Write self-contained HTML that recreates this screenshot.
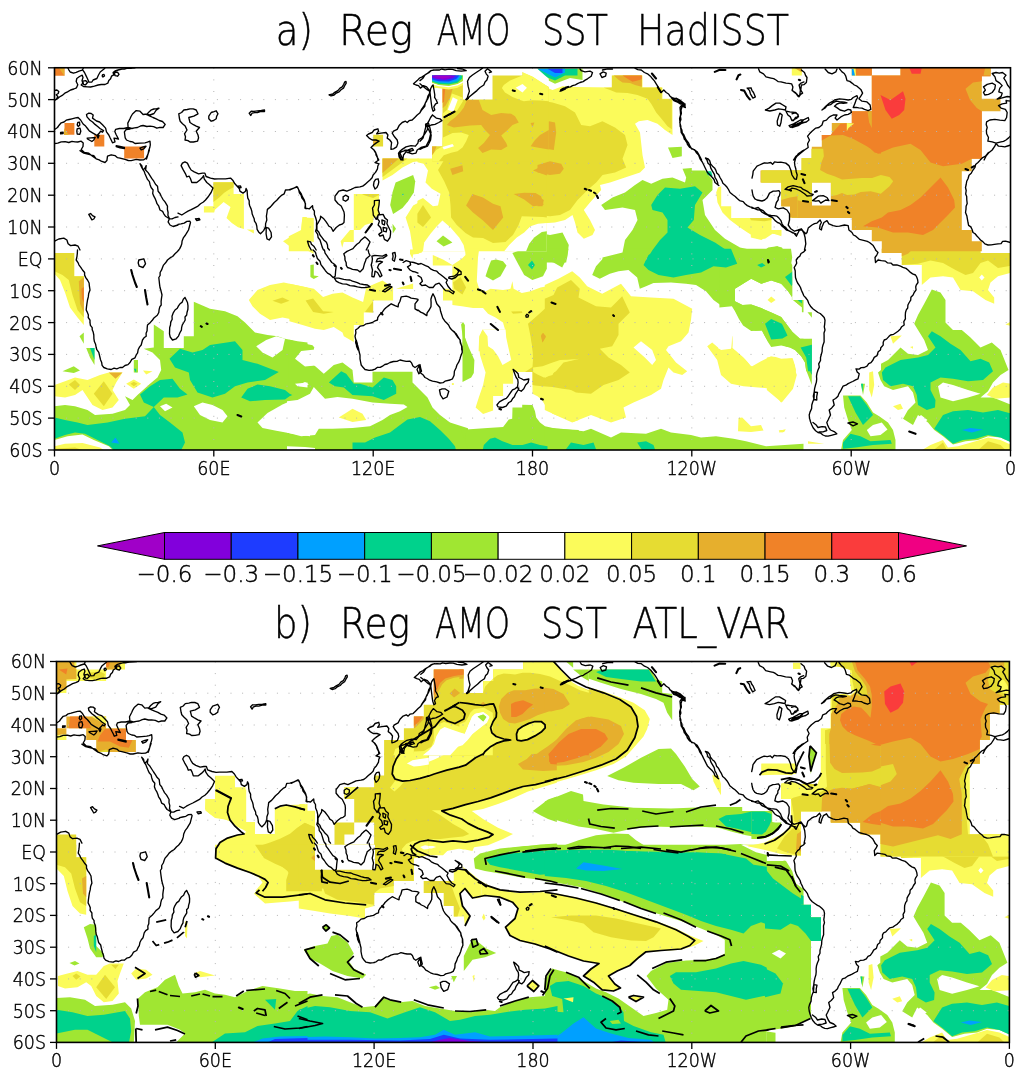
<!DOCTYPE html>
<html><head><meta charset="utf-8"><title>Reg AMO SST</title>
<style>
html,body{margin:0;padding:0;background:#fff}
svg{display:block}
text{font-family:"DejaVu Sans Light","DejaVu Sans","Liberation Sans",sans-serif;font-weight:200;fill:#000;stroke:#000;stroke-width:.45px}
.al{font-size:18.8px}
.cl{font-size:23px}
.ti{font-size:42px}
.ln{fill:none;stroke:#000;stroke-width:1.35;stroke-linejoin:round;stroke-linecap:round}
.ct{fill:none;stroke:#000;stroke-width:1.75;stroke-linejoin:round;stroke-linecap:butt}
.fr{fill:none;stroke:#000;stroke-width:1.6}
.tk{stroke:#000;stroke-width:1.3}
.cb{stroke:#000;stroke-width:1}
.grid line{stroke:#b4b4b4;stroke-width:1;stroke-dasharray:1 10.6}
</style></head><body>
<svg width="1024" height="1076" viewBox="0 0 1024 1076">
<rect width="1024" height="1076" fill="#fff"/>
<text class="ti" y="45"><tspan x="275.8" textLength="37.2" lengthAdjust="spacingAndGlyphs">a)</tspan> <tspan x="339.0" textLength="74.0" lengthAdjust="spacingAndGlyphs">Reg</tspan> <tspan x="436.7" textLength="73.8" lengthAdjust="spacingAndGlyphs">AMO</tspan> <tspan x="542.0" textLength="66.0" lengthAdjust="spacingAndGlyphs">SST</tspan> <tspan x="637.0" textLength="152.0" lengthAdjust="spacingAndGlyphs">HadISST</tspan></text>
<defs><clipPath id="ca"><rect x="54.5" y="67.75" width="956.0" height="382.25"/></clipPath>
<clipPath id="cb"><rect x="56.5" y="661.5" width="952.9" height="380.9000000000001"/></clipPath></defs>
<g clip-path="url(#ca)">
<path fill="#fbfb5a" d="M213.4,182.2 233.6,182.2 233.6,194 243.9,194 243.9,229 238,227.2 231.8,223.1 226.5,218.1 230.5,206.9 223.6,202.1 218,206.9 214.9,209.8 214.2,212.5 203.9,212.5 203.9,206.2 213.4,206.2Z"/>
<path fill="#fbfb5a" d="M246.8,229.4 253.9,229.8 253.9,233.5Z"/>
<path fill="#fbfb5a" d="M302.4,216.9 306.8,216.9 306.8,250 293,248.8 283,241.2 295.5,233.8 301.1,230.6 301.8,222.5Z"/>
<path fill="#fbfb5a" d="M537.5,83.8 552.5,90 562.5,86.2 576.2,87 612.5,87.5 612.5,75.5 642.5,75.5 642.5,87.5 662.5,87.5 662.5,98.8 672.5,98.8 672.5,135 665,130 657.5,123.8 647.5,120 638.8,121.2 635,123.8 640,132.5 642.5,155 645,167.5 640,172.5 625,177.5 610,182.5 600,185 601.2,190 590,202.5 583.8,210 590,220 595,230 592.5,235 583.8,238.8 577.5,232.5 575,222.5 572.5,215 565,220 555,222.5 537.5,223.8Z"/>
<path fill="#a0e632" d="M668,147.5 681.8,146.8 681.8,156.2 672.5,158Z"/>
<path fill="#a0e632" d="M682.5,168.8 691.8,168 691.8,170.5 705,170.5 712.5,180 712.5,190 702.5,200 705,215 715,230 725,238.8 740,247.5 757.5,251.2 777.5,246.2 783.8,251.2 787.5,262.5 602.5,262.5 602.5,257.5 622.5,252.5 625,240 632.5,230 637.5,220 635,210 622.5,207.5 605,210 601.2,205 612.5,197.5 625,192.5 635,185 642.5,180 651.2,183.8 662.5,178.8 672.5,177.5 685,182.5 686.2,177.5Z"/>
<path fill="#a0e632" d="M537.5,232.5 550,235 562.5,232.5 568.8,245 566.2,262.5 537.5,262.5Z"/>
<path fill="#fbfb5a" d="M718,187.5 721.2,186.2 721.2,206.2 731.2,206.2 731.2,218 771.2,218 771.2,230 781.2,230 781.2,235 772.5,233.8 765,238.8 757.5,238.8 747.5,232.5 740,227.5 730,220 722.5,212.5 717.5,202.5 716.2,192.5Z"/>
<path fill="#a0e632" d="M537.5,68.8 582.5,68.8 582.5,80 570,78 555,83.8 547.5,80 537.5,75Z"/>
<path fill="#fbfb5a" d="M382.5,158.5 418.8,158.5 418.8,161.2 413.1,161.9 402.5,167.5 392.5,175 382.5,180.6Z"/>
<path fill="#a0e632" d="M395.6,182.5 413.1,175 415.2,181.2 413.8,192.5 408.1,201.2 402.5,208.1 393.1,214 390.2,205 392.5,192.5Z"/>
<path fill="#fbfb5a" d="M353.8,194 379,194 379,215 373.5,218.1 373.1,222.5 365,225 360,230 353.8,230 353.8,241.9 343.8,241.9 342.2,247.8 340.6,241.2 350,230 353.8,230Z"/>
<path fill="#a0e632" d="M392.5,223.8 396,228.8 392.8,233.5Z"/>
<path fill="#fbfb5a" d="M303.1,217.5 313.8,218.1 313.8,241.9 310,241.2 308.8,251.2 288.8,251.2 288.8,236.2 301.2,230 301.9,222.5Z"/>
<path fill="#fbfb5a" d="M417.4,158.5 432,158.5 432,149.4 546.8,149.4 546.8,251.2 417.4,251.2Z"/>
<path fill="#fbfb5a" d="M289.4,283.8 305,286.9 313.8,288.8 323.1,296.9 332.5,293.8 342.5,292.5 352.5,297.5 363.1,301.9 366.2,287.5 382.5,280.6 390,285.6 393.1,287.5 393.1,300.6 373.1,300.6 373.1,312.5 363.8,312.5 363.8,325 353.8,325 353.8,341.9 343.8,336.2 342.5,332.5 333.8,326.9 323.8,330 315,328.8 302.5,325 289.4,321.2Z"/>
<path fill="#fbfb5a" d="M396,288.8 413.1,283.5 413.1,289Z"/>
<path fill="#fbfb5a" d="M410,249.4 418.8,249.4 418.8,253.8 413.1,254.4 412.5,258.8 410,253.8Z"/>
<path fill="#fbfb5a" d="M305,249.4 313.1,249.4 313.8,253.8Z"/>
<path fill="#a0e632" d="M310.4,265 313.8,264.4 313.8,275.6 318.8,276.2 313.8,279 310.4,276.9Z"/>
<path fill="#a0e632" d="M289.4,339.8 297.5,341.9 312.5,345.2 314.4,347.5 312.5,351.2 289.4,351.2Z"/>
<path fill="#fbfb5a" d="M432.8,255 443,259.4 452.4,265 461.8,258.8 465.5,255 464.9,248.8 479.2,248.8 478,257.5 477.4,268.8 476.8,281.2 479.2,288.8 485.5,291.2 490.5,288.8 503,290 510.5,288.8 512.4,281.2 513.6,288.8 521.8,293.1 530.5,291.2 540.5,287.5 546.8,286.2 546.8,351.2 508,351.2 505.5,331.2 503,322.5 495.5,317.5 488,313.8 483,308.1 473,308.1 461.8,306.2 452.4,305 452.4,300.6 443,300.6 443,288.8 448,288.8 452.4,291.2 452.4,265.6 432.8,265.6Z"/>
<path fill="#a0e632" d="M491.1,260.6 496.1,259.4 503,261.2 506.5,265.6 500.5,276.2 493,280.6 485.5,276.2 488,268.8Z"/>
<path fill="#a0e632" d="M512.4,253.1 524.2,248.8 546.8,248.8 546.8,268.8 543,276.2 532.4,280 524.2,275 518,263.8Z"/>
<path fill="#a0e632" d="M461.1,324.4 463,321.9 464.9,325 464.9,337.5 468,351.2 462.4,351.2 462.8,337.5Z"/>
<path fill="#fbfb5a" d="M479.2,336.2 482.4,330 486.8,337.5 488,347.5 491.8,351.2 478.6,351.2Z"/>
<path fill="#fbfb5a" d="M417.4,249.4 423.6,249.4 421.8,252.5 417.4,253.8Z"/>
<path fill="#fbfb5a" d="M418.8,202.5 413.1,205.6 405.6,217.5 410,231.2 413.1,251.2 418.8,251.2Z"/>
<path fill="#fbfb5a" d="M54.5,253 74.2,253 74.2,276.2 83.8,276.2 83.8,325 77.5,317.5 70,307.5 65,292.5 60,280 54.5,273.8Z"/>
<path fill="#a0e632" d="M79.5,336.2 83.8,332.5 83.8,343.8Z"/>
<path fill="#a0e632" d="M86.2,348 94.5,348 94.5,365 90,357.5Z"/>
<path fill="#a0e632" d="M62.5,371.2 73.8,366.2 80,370.5 73.8,373Z"/>
<path fill="#a0e632" d="M133.8,360 138,360 138,372.5 133.8,372.5Z"/>
<path fill="#fbfb5a" d="M143,370.5 152.5,371.2 146.2,374.5Z"/>
<path fill="#fbfb5a" d="M126.2,383.8 133.8,379.5 141.2,383.8 133.8,388.8Z"/>
<path fill="#fbfb5a" d="M54.5,385 65,381.2 75,377.5 87.5,380 100,375 108.8,372.5 122.5,372.5 116.2,382.5 112.5,390 118.8,400 112.5,407.5 102.5,410 92.5,405 87.5,397.5 82.5,390 75,395 65,397.5 54.5,396.2Z"/>
<path fill="#a0e632" d="M54.5,406.2 65,405 75,406.2 87.5,410 95,415 112.5,413.8 125,410 130,405 125,396.2 132.5,400 137.5,395 150,383.8 157.5,377.5 161.2,370 160,360 152.5,352.5 143.8,348.8 153.8,347.5 153.8,324.5 163.8,331.2 163.8,348 183.8,348 183.8,336.2 193.8,336.2 193.8,301.8 210,308.8 225,311.2 237.5,316.2 245,322.5 255,332.5 267.5,335 277.5,336.2 285,338.8 297.5,341.2 307.5,342.5 307.5,452.5 54.5,452.5Z"/>
<path fill="#a0e632" d="M288.8,340 305,343.8 313.8,347.5 313.8,350 301.2,351.2 295,358.8 305,366.2 313.8,365 323.8,373.8 333.8,365 342.5,362.5 352.5,370 353.8,382.5 372.5,382.5 372.5,371.8 412.5,371.8 412.5,382.5 418.8,388.8 427.5,397.5 432.5,407.5 440,415 450,422.5 468,428.2 468,451.2 288.8,451.2Z"/>
<path fill="#a0e632" d="M462.5,329.4 464.4,329.4 465,337.5 468.8,347.5 474.4,360 473.8,373.1 471.2,377.5 462.5,381.9Z"/>
<path fill="#fbfb5a" d="M482.5,329.4 578.8,329.4 578.8,420 573.1,421.9 562.5,417.5 552.5,413.8 548.8,410 545,405 541.9,400 537.5,396.2 532.5,393.8 532.5,371.9 513.1,371.9 513.1,383.8 503.1,383.8 503.1,396 493.1,396 493.1,410.6 483.1,414 475.6,407.5 478.8,397.5 483.1,385 485.6,372.5 483.1,365 480,355 479,345 480,336.2Z"/>
<path fill="#a0e632" d="M592.2,275 596,266.2 603.5,258 619.8,258 626,248.8 791,248.8 792.2,257.5 791,265 792.2,277.5 792.2,300 803.5,300 803.5,356.2 793.5,352.5 783.5,345 771,345 763.5,335 753.5,330 743.5,322.5 736,312.5 732.2,303.8 722.2,306.2 713.5,300 706,291.2 696,285 686,283.8 671,282.5 653.5,283 646,286.2 639.8,288.8 637.2,277.5 628.5,270 618.5,271.2 609.8,273.8 599.8,278.8Z"/>
<path fill="#a0e632" d="M544.8,248.8 568.5,248.8 567.2,257.5 562.2,267.5 553.5,262.5 544.8,260Z"/>
<path fill="#fbfb5a" d="M544.8,285 558.5,278.8 572.2,271.2 579.8,277.5 587.2,286.2 602.2,293.8 621,283.8 631,296.2 651,297.5 673.5,298.8 692.2,308.8 691,320 688.5,332.5 681,341.2 668.5,346.2 666,350 676,362.5 687.2,371.2 682.2,375 673.5,372.5 668.5,367.5 663.5,380 661,388.8 651,395 633.5,402.5 623.5,407.5 626,417.5 611,422.5 591,415 572.2,422.5 561,417.5 544.8,410Z"/>
<path fill="#a0e632" d="M766.8,248.8 783,248.8 792.2,265 792.2,296.2 783,282.5 775.5,277.5 766.8,280Z"/>
<path fill="#a0e632" d="M793,340 811.8,338.8 811.8,385 808,375 803,362.5 795.5,352.5Z"/>
<path fill="#fbfb5a" d="M766.8,357.5 778,356.2 791.8,360 796.8,375 793,388.8 781.8,402.5 766.8,390Z"/>
<path fill="#fbfb5a" d="M779.2,430.5 785.5,429.5 784.2,432 779.2,432.5Z"/>
<path fill="#fbfb5a" d="M808,441.2 815.5,442.5 824.2,443.8 808,443.8Z"/>
<path fill="#fbfb5a" d="M901.8,253 901.8,265 921.8,265 921.8,285 930.5,277.5 943,276.2 953,277.5 960.5,290 973,291.2 985.5,300 994.2,303.8 994.2,297.5 988,290 990.5,282.5 998,276.2 1011.8,272.5 1011.8,253 980.5,253 980.5,248.8 881.8,248.8 881.8,253Z"/>
<path fill="#fbfb5a" d="M1005.5,324.5 1011.8,321.2 1011.8,326.2Z"/>
<path fill="#a0e632" d="M931.8,289.5 940.5,292.5 945.5,300 945.5,322.5 953,330 961.8,330 970.5,337.5 980.5,347.5 991.8,342.5 1000.5,350 1005.5,362.5 1008.5,370 1000.5,375 993,382.5 988,391.2 980.5,397.5 993,397.5 1011.8,405 1011.8,442.5 1000.5,437.5 988,436.2 978,440 965.5,441.2 953,444.5 943,436.2 934.2,430 928,422.5 918,415 913,425 903,418.8 908,410 915.5,402.5 913,392.5 908,386.2 893,390 884.2,386.2 880.5,380 878,372.5 881,370 881,363.8 888,360 896.8,351.2 900.5,347.5 908,353.8 918,355 928,350 924.2,340 918,330 914.2,323.8 918,315 924.2,303.8Z"/>
<path fill="#fbfb5a" d="M986.8,395 993,387.5 1003,382.5 1011.8,383.8 1011.8,397.5 995.5,398.8Z"/>
<path fill="#fbfb5a" d="M918,452.5 930.5,445 943,440 948,447.5 958,446.2 975.5,441.2 988,437.5 1000.5,440 1011.8,445 1011.8,452.5Z"/>
<path fill="#a0e632" d="M843,395.5 860.5,395.5 866.8,402.5 873,412.5 879.2,416.2 888,422.5 893,430 895.5,440 895.5,452.5 840.5,452.5 843,440 851.8,430 848,420 844.2,407.5Z"/>
<path fill="#a0e632" d="M861,383.8 865,383.8 863,395Z"/>
<path fill="#fbfb5a" d="M869.2,372.5 873,371.2 874.2,385 871.8,397.5 869.2,390Z"/>
<path fill="#fbfb5a" d="M893,406.2 900.5,403.8 903,408.8 898,410Z"/>
<path fill="#fbfb5a" d="M890.5,336.2 901.8,335.5 893,343.8Z"/>
<path fill="#fbfb5a" d="M910,347 913,346.2 913,348.8Z"/>
<path fill="#ffffff" d="M979.2,277.5 981.8,274.5 984.5,277.5 981.8,280.5Z"/>
<path fill="#ffffff" d="M416.5,161.9 423.6,163.8 428,170.6 425.5,182.5 431.8,188.8 440.5,193.8 438,205.6 433,206.2 423,198.1 416.5,201.2Z"/>
<path fill="#ffffff" d="M442.4,220.6 450.5,227.5 459.2,237.5 463.6,245 464.9,251.2 423,251.2 424.2,242.5 430.5,233.8 436.8,226.2Z"/>
<path fill="#ffffff" d="M546.8,223.1 538,223.8 530.5,226.2 524.2,232.5 516.8,237.5 509.2,245 504.2,251.2 546.8,251.2Z"/>
<path fill="#ffffff" d="M160,406.2 166.2,403.8 172.5,407.5 165,411.2Z"/>
<path fill="#ffffff" d="M193.8,406.2 202.5,402.5 212.5,405 222.5,410 227.5,416.2 222.5,422.5 210,420 200,415Z"/>
<path fill="#ffffff" d="M256.2,346.2 266.2,340 276.2,336.2 285,338.8 282.5,350 272.5,357.5 262.5,352.5Z"/>
<path fill="#ffffff" d="M315,349.5 301.2,351 295,358.8 305,366.5 315,365.5Z"/>
<path fill="#ffffff" d="M295,383.8 307.5,382.5 307.5,387.5 297.5,386.2Z"/>
<path fill="#ffffff" d="M257.5,422.5 267.5,413 282.5,404.5 290,401.2 310,400 310,436.2 292.5,433.8 275,430.5 262.5,428Z"/>
<path fill="#ffffff" d="M54.5,440 67.5,436.2 82.5,434.5 93.8,440 108.8,446.2 115.5,452.5 54.5,452.5Z"/>
<path fill="#ffffff" d="M287,401.2 297.5,400 310,393.8 313.8,387 325,398.8 337.5,397 352.5,398.8 372.5,402.5 390,403.8 403.8,404.5 407.5,407 400,411.2 390,415 382.5,420 370,426.2 352.5,428 332.5,428.8 318.8,428.8 315,435 301.2,436.2 287,432.5Z"/>
<path fill="#ffffff" d="M301.2,383.8 305,382 308.8,384.5 303.8,385.8Z"/>
<path fill="#ffffff" d="M287,446.2 305,447 315,448 315,451.2 287,451.2Z"/>
<path fill="#ffffff" d="M482.8,329.4 505.6,329.4 506.2,337.5 508.1,346.2 511.2,360 502.5,365 498.1,356.2 493.1,349.4 488.1,346.2 487.5,336.2Z"/>
<path fill="#ffffff" d="M633.5,347.5 641,341.2 652.2,350 656,360 652.2,365 644.8,357.5Z"/>
<path fill="#ffffff" d="M608.5,447.5 612.2,443.8 614.8,448.8Z"/>
<path fill="#ffffff" d="M938,386.2 943,382.5 953,385 968,390 980.5,393.8 968,397.5 953,401.2 940.5,397.5Z"/>
<path fill="#ffffff" d="M915.5,420 921,415 927.5,420 921.8,424.5Z"/>
<path fill="#ffffff" d="M866.8,430 873,425 881.8,422.5 887.5,429.5 880.5,435 870.5,436.2Z"/>
<path fill="#a0e632" d="M436.5,241.2 443,235.6 452.4,242.5 443.6,246.5Z"/>
<path fill="#a0e632" d="M546.8,231.2 541.8,231.9 534.2,237.5 529.2,243.8 526.1,251.2 546.8,251.2Z"/>
<path fill="#fbfb5a" d="M54.5,446.2 65,443.8 82.5,443 100,447.5 107.5,452.5 54.5,452.5Z"/>
<path fill="#fbfb5a" d="M248.8,300 257.5,290 270,285 283.8,282.5 307.5,287.5 307.5,325 295,320 282.5,317.5 270,320 260,313.8 252.5,306.2Z"/>
<path fill="#fbfb5a" d="M338.8,417.5 352.5,408.8 362.5,413.8 366.2,420 352.5,422Z"/>
<path fill="#a0e632" d="M512.5,407.5 522.2,407.5 522.2,404.8 532.5,405 535,411.2 536.2,417.5 540,422.5 545,426.2 556.2,428.8 578.8,430 578.8,451.2 465,451.2 466.2,429.4 487.5,428.1 503.1,426.9 508.8,419.4 512.2,418.8Z"/>
<path fill="#a0e632" d="M449.4,422.5 456.2,426.2 461.2,430 468.8,451.2 449.4,451.2Z"/>
<path fill="#fbfb5a" d="M451.9,383.1 453.8,383.1 453.8,385 451.9,385Z"/>
<path fill="#fbfb5a" d="M707.2,346.2 712.2,342.5 721,350 731,348.8 732.2,335 733.5,348.8 743.5,357.5 752.2,366.2 761,361.2 771,356.2 781,358.8 793.5,357.5 796,370 793.5,385 787.2,395 781,402.5 771,388.8 758.5,387.5 743.5,386.2 731,383.8 721,375 717.2,360Z"/>
<path fill="#fbfb5a" d="M738,431.2 738.5,418 742.2,417.5 751,426.2 761,425 763.5,430.5 751,432Z"/>
<path fill="#fbfb5a" d="M778.5,430.5 786,429.5 782.2,432.5Z"/>
<path fill="#a0e632" d="M544.8,427.5 561,428.8 583.5,431.2 591,428.8 611,437.5 621,432.5 646,433.8 661,428.8 671,432.5 691,435 701,437.5 716,436.2 733.5,438.8 746,441.2 766,446.2 803.5,443.8 803.5,452.5 544.8,452.5Z"/>
<path fill="#e6dc32" d="M213.4,182.2 233.6,182.2 233.6,187.2 229.2,189.4 224.2,192.8 219.2,197.5 213.4,201.9Z"/>
<path fill="#e6dc32" d="M373.2,134.8 383.1,134.8 383.1,146.6 373.2,146.6Z"/>
<path fill="#e6dc32" d="M537.5,100 552.5,102.5 565,106.2 575,112.5 581.2,125 590,126.2 602.5,121.2 615,127.5 625,135 627.5,145 622.5,158.8 626.2,167.5 615,172.5 602.5,175 596.2,182.5 587.5,190 577.5,200 570,210 560,215 550,216.2 537.5,215Z"/>
<path fill="#e6dc32" d="M611.8,75.5 641.8,75.5 641.8,87.5 661.8,87.5 661.8,99.2 671.8,99.2 671.8,129.2 667.5,126.2 662.5,120 656.2,112.5 651.2,103.8 647.5,98.8 637.5,95 627.5,93 616.2,92.5 610,90 603.8,87.8 611.8,87.5Z"/>
<path fill="#00d28c" d="M651.2,205 657.5,195 665,187.5 680,188.8 695,186.2 702.5,192.5 695,205 693.8,220 687.5,227.5 700,235 715,242.5 730,252.5 735,262.5 645,262.5 652.5,250 660,240 667.5,232.5 667.5,220 662.5,212.5 652.5,210Z"/>
<path fill="#00d28c" d="M706.2,171.2 711.2,171.2 712.5,176.2 707.5,175Z"/>
<path fill="#e6dc32" d="M750,218 771.2,218 771.2,220.2 750,219.2Z"/>
<path fill="#00d28c" d="M537.5,68.8 577.5,68.8 577.5,75.5 565,75.5 555,80.5 547.5,77.5 537.5,72.5Z"/>
<path fill="#e6dc32" d="M382.5,158.5 407.5,158.5 382.5,176.9Z"/>
<path fill="#00d28c" d="M402.2,194 403.5,193.8 403.5,195 402.2,195Z"/>
<path fill="#e6dc32" d="M361.9,194 379,194 379,195 373.1,198.1 365,195.6Z"/>
<path fill="#e6dc32" d="M438,170 444.9,158.8 450.5,155 461.8,149.4 546.8,149.4 546.8,217.5 543,216.9 521.8,216.2 518.6,225 513,235 505.5,241.9 493,243.1 483,238.1 473,237.5 465.5,233.1 456.8,225 451.1,217.5 450.5,205 449.2,192.5 444.2,181.2Z"/>
<path fill="#e6dc32" d="M417.4,213.8 423,205 431.1,217.5 423,226.9 417.4,222.5Z"/>
<path fill="#e6dc32" d="M305.6,300.6 313.1,298.5 323.1,311.2 333.8,311.9 323.8,313.8 313.1,311.9Z"/>
<path fill="#e6dc32" d="M365,311.9 373.1,301.2 373.1,312.5Z"/>
<path fill="#e6dc32" d="M453,282.5 460.5,276.9 466.1,287.5 462.4,294.4 454.2,288.8Z"/>
<path fill="#e6dc32" d="M546.8,306.9 538,315 528,323.8 530.5,336.2 533,351.2 546.8,351.2Z"/>
<path fill="#e6dc32" d="M511.1,311.5 521.8,311.2 522.4,313.1 513,313.8Z"/>
<path fill="#00d28c" d="M528,265 532,260.6 534.9,265 532,269.4Z"/>
<path fill="#e6dc32" d="M54.5,253 74.2,253 74.2,276.2 83.8,276.2 83.8,317.5 77.5,310 72.5,295 68.8,280 62.5,275 54.5,271.2Z"/>
<path fill="#00d28c" d="M90,348 94.5,348 94.5,360Z"/>
<path fill="#00d28c" d="M133.8,368.8 136.2,368.8 136.2,373Z"/>
<path fill="#e6dc32" d="M130.5,383.8 133.8,381.8 137.5,383.8 133.8,386.2Z"/>
<path fill="#e6dc32" d="M68.8,384.5 75,380 80,385 75,390Z"/>
<path fill="#e6dc32" d="M93.8,393.8 103.8,381.2 112.5,393.8 103.8,406.2Z"/>
<path fill="#e6dc32" d="M54.5,448.8 75,447.5 90,452.5 54.5,452.5Z"/>
<path fill="#00d28c" d="M54.5,417.5 65,420 77.5,422.5 87.5,425 107.5,422.5 125,418.8 145,416.2 153.8,407 160,415 170,422.5 182.5,432.5 185,442.5 180,452.5 116.2,452.5 110,446.2 95,438.8 85,433.8 75,432.5 65,435 54.5,438.8Z"/>
<path fill="#00d28c" d="M140,394.5 150,386.2 160,380 172.5,378.8 180,388.8 187.5,394.5 177.5,397.5 163.8,397.5 153.8,407 143.8,402.5Z"/>
<path fill="#00d28c" d="M169.5,358.8 180,348.8 192.5,352.5 202.5,350 210,345 235,341.2 242.5,350 242.5,360 257.5,363.8 278.8,372 265,380 247.5,382.5 235,386.2 225,393.8 212.5,397.5 197.5,392.5 190,380 188.8,372.5 175,367.5Z"/>
<path fill="#00d28c" d="M241.2,397.5 247.5,388.8 257.5,384.5 270,386.2 285,390 291.2,395 285,399.5 265,400 250,401.2Z"/>
<path fill="#e6dc32" d="M272.5,300.8 282.5,297.5 289.5,300.8 281.2,303.8Z"/>
<path fill="#00d28c" d="M328.8,382.5 341.2,371.2 346.2,373.8 353.8,383.8 360,383.8 372.5,387.5 383.8,377.5 392.5,380 396.2,386.2 396.2,393.8 383.8,400 372.5,396.2 352.5,395 343.8,387.5 335,386.2Z"/>
<path fill="#00d28c" d="M352.5,442.5 365,442.5 375,437.5 390,432.5 400,425 407.5,419.5 420,417 430,421.2 440,430 448.8,438.8 455,446.2 456.2,451.2 352.5,451.2Z"/>
<path fill="#00d28c" d="M288.8,393.8 292.5,395 288.8,396.2Z"/>
<path fill="#e6dc32" d="M530,329.4 578.8,329.4 578.8,392.5 572.5,390 562.5,388.8 552.5,386.9 542.5,386.2 535,385.6 532.5,385 532.5,371.9 525,371.9 532.5,366.9 533.1,358.8 532.5,348.8 531.2,337.5Z"/>
<path fill="#00d28c" d="M483.8,445 490,438.8 495,437.5 502.5,441.2 512.5,445 522.5,445 531.2,442.5 540,445 547.5,446.2 547.5,451.2 482.5,451.2Z"/>
<path fill="#00d28c" d="M643.5,265 648.5,255 658.5,248.8 731,248.8 737.2,263.8 726,267.5 713.5,266.2 701,272.5 686,275 673.5,277.5 658.5,275 648.5,270Z"/>
<path fill="#00d28c" d="M757.2,265 762.2,263 765.5,265.5 761,267.5Z"/>
<path fill="#e6dc32" d="M544.8,298.8 553.5,295 557.2,287.5 571,280 579.8,288.8 578.5,297.5 596,306.2 611,307.5 622.2,296.2 629.8,312.5 618.5,323.8 618.5,335 612.2,346.2 599.8,348.8 608.5,357.5 621,365 629.8,372.5 618.5,380 603.5,385 591,393.8 576,392.5 561,385 544.8,383.8Z"/>
<path fill="#00d28c" d="M563.5,452.5 571,442.5 583.5,445 593.5,442.5 597.2,452.5Z"/>
<path fill="#00d28c" d="M637.2,442.5 646,441.2 653.5,445 656,452.5 643.5,452.5Z"/>
<path fill="#00d28c" d="M785.5,276.2 792.2,271.2 792.2,285Z"/>
<path fill="#00d28c" d="M800.5,346.2 811.8,344.5 811.8,375 808,367.5 805.5,357.5Z"/>
<path fill="#e6dc32" d="M901.8,248.8 980.5,248.8 980.5,253 1011.8,253 1011.8,265.5 998,268 988,260.5 980.5,263 973,273 965.5,275 955.5,270 943,263 930.5,260.5 918,263.8 901.8,265Z"/>
<path fill="#00d28c" d="M928,336.2 931.8,331.2 940.5,336.2 950.5,343.8 960.5,350 970.5,361.2 980.5,358.8 989.2,362.5 993,371.2 983,380 968,381.2 953,378.8 940.5,377.5 930.5,382.5 930.5,390 935.5,400 935,407.5 926.8,410 918,405 916.8,395 913,386.2 903,383.8 890.5,386.2 883,380 881.8,372.5 885.5,367.5 900.5,360 918,357.5 928,355 935.5,347.5Z"/>
<path fill="#00d28c" d="M934.2,428.8 943,415 953,411.2 968,410 983,412.5 998,410 1011.8,413.8 1011.8,442.5 1000.5,437.5 988,435 975.5,438.8 963,440 953,443.8 944.2,436.2Z"/>
<path fill="#e6dc32" d="M930.5,452.5 943,442.5 948,452.5Z"/>
<path fill="#e6dc32" d="M975.5,452.5 988,441.2 1000.5,445 1008,452.5Z"/>
<path fill="#00d28c" d="M848,396.2 860,396.2 866.8,405 873,415 863,425 855.5,412.5Z"/>
<path fill="#00d28c" d="M843,442.5 850.5,433.8 860.5,436.2 870.5,441.2 890.5,440 891.8,443.8 873,445 855.5,447.5 843,448.8Z"/>
<path fill="#00d28c" d="M861,383.8 863,383.8 862.5,392.5Z"/>
<path fill="#fbfb5a" d="M533.1,367.5 542.5,366.2 551.2,363.1 560,360 575,359.4 562.5,362.2 556.2,367.5 552.5,375 543.8,377.5 537.5,374.4 533.1,371.9Z"/>
<path fill="#fbfb5a" d="M544.8,369.5 554.8,366.2 561,360.8 579.8,358.8 563.5,362.5 556,371.2 544.8,378Z"/>
<path fill="#e6af2d" d="M373.2,140.2 378.5,140.2 373.5,146.5 373.2,146.5Z"/>
<path fill="#e6af2d" d="M537.5,132.5 548.8,121.2 555,122.5 556.2,132.5 553.8,150 537.5,147.5Z"/>
<path fill="#e6af2d" d="M537.5,165 550,161.2 561.2,163.8 563.8,168.8 560,173.8 550,175 537.5,172.5Z"/>
<path fill="#e6af2d" d="M537.5,196.2 543.8,200 542.5,206.2 537.5,206.2Z"/>
<path fill="#e6af2d" d="M613.8,75.5 641.8,75.5 641.8,86.8 635,85 630,83 622.5,82.5 618.8,80Z"/>
<path fill="#00a0ff" d="M537.5,68.8 565,68.8 565,72.5 555,77.5 547.5,73.8Z"/>
<path fill="#e6af2d" d="M382.5,158.5 398.8,158.5 382.5,173.1Z"/>
<path fill="#e6af2d" d="M432.4,149.4 438,149.4 433,156.9Z"/>
<path fill="#e6af2d" d="M450.2,168.8 462.4,165.2 463.2,171.2 452.4,175Z"/>
<path fill="#e6af2d" d="M466.1,205.6 472.4,194 483,197.5 493,203.8 500.5,206.2 503.2,217.5 493,230 483,220.6 473,212.5Z"/>
<path fill="#e6af2d" d="M513.6,194 524.2,192.8 535.5,193.1 541.1,196.2 543.6,205 533,206.2 524.2,199.4Z"/>
<path fill="#e6af2d" d="M533,170.6 546.8,163.8 546.8,175.6Z"/>
<path fill="#e6af2d" d="M479.9,149.4 488.6,149.4 482.4,153.5Z"/>
<path fill="#e6af2d" d="M541.1,336.2 543,333.1 545.5,337.5 542.4,342.5Z"/>
<path fill="#e6af2d" d="M78.8,281.2 83.8,277.5 83.8,312.5 80,303.8Z"/>
<path fill="#e6af2d" d="M108.8,372.5 122.5,372.5 115.5,378.8Z"/>
<path fill="#00a0ff" d="M111.2,442.5 115.5,437.5 119.5,443.8Z"/>
<path fill="#e6af2d" d="M541.2,335 543.1,333.1 546,336.2 542.5,342.5Z"/>
<path fill="#e6af2d" d="M881.8,248.8 913,248.8 908,253.8 901.8,256.2 901.8,253 881.8,253Z"/>
<path fill="#00a0ff" d="M961.8,430 970.5,428 983,429.5 971.8,432.5Z"/>
<path fill="#f08228" d="M54.5,63.8 64.5,63.8 64.5,75.7 54.5,75.7Z"/>
<path fill="#f08228" d="M64.5,122.9 74.4,122.9 74.4,134.8 64.5,134.8Z"/>
<path fill="#f08228" d="M94.3,134.8 104.3,134.8 104.3,146.6 94.3,146.6Z"/>
<path fill="#f08228" d="M124.2,146.6 144.1,146.6 144.1,158.4 124.2,158.4Z"/>
<path fill="#f08228" d="M622.5,75.5 641.8,75.5 641.8,79.2 637.5,80.5 632.5,81.8 627.5,78.8Z"/>
<path fill="#1e3cff" d="M547.5,68.8 562.5,68.8 562.5,73 555,73Z"/>
<path fill="#f08228" d="M81.5,288.8 83.8,287 83.8,302.5 82,298.8Z"/>
<path fill="#e6af2d" d="M58.8,67.8 64.4,67.8 64.4,75.9Z"/>
<path fill="#e6af2d" d="M64,128.1 64,135 68.8,135Z"/>
<path fill="#e6dc32" d="M432.1,75.6 462.9,75.6 462.9,99.4 492.5,99.4 492.5,75.6 522.5,75.6 522.5,71.9 548.8,86.9 548.8,161.2 432.1,161.2 432.1,146.2 442.5,146.2 442.5,87.5 432.1,87.5Z"/>
<path fill="#fbfb5a" d="M522.5,71.9 532.5,76.2 548.8,86.9 548.8,101.2 540,100.6 532.5,100.2 523.8,101.2 520,100 512.5,96.9 505,92.5 501.9,88.1 503.8,85 510,80.6 517.5,77.5 522.5,75.6Z"/>
<path fill="#ffffff" d="M515.6,87.8 522.5,84 526.9,87.8 522.5,92.5Z"/>
<path fill="#ffffff" d="M522.5,67.8 536.2,67.8 545,75.6 548.8,78.8 548.8,86.5 532.5,76.2 522.5,71.9Z"/>
<path fill="#e6af2d" d="M466.9,100 478.8,100 482.5,110 491.2,115 501.2,113.1 511.2,113.8 515,116.2 518.8,122.5 512.5,125 507.5,130 501.2,135.6 506.2,143.1 507.5,146.2 501.2,150 491.2,149.4 482.5,153.1 478.1,148.1 483.8,143.1 490,135 485,130 481.2,125 470,125.6 453.8,127.5 446.9,125 450,121.2 455,117.5 460,112.5 463.8,107.5Z"/>
<path fill="#e6af2d" d="M530.6,123.1 534.4,122.5 532.5,127.5Z"/>
<path fill="#e6af2d" d="M548.8,130 540,135 535,140 530.6,146.2 540,148.1 548.8,149.4Z"/>
<path fill="#e6af2d" d="M442.8,87.8 452.8,88.5 450,97.5 445.6,105.6 442.8,108.1Z"/>
<path fill="#f08228" d="M442.5,87.5 445.2,87.8 444,101.2 442.5,103.1Z"/>
<path fill="#fbfb5a" d="M451.9,93.5 457.5,95.6 462.5,97.5 462.9,101.2 457.5,110 452.5,113.8 446.9,117.5 442.5,118.8 442.5,113.8 446.9,110 449.4,101.2Z"/>
<path fill="#ffffff" d="M447.8,109.8 452.8,97.2 457.8,99.8 453.2,112Z"/>
<path fill="#fbfb5a" d="M432.1,84.4 438.8,86 448.8,86.9 457.5,85 462.9,82.5 462.9,85 457.5,87.8 448.8,89.4 438.8,88.2 432.1,86.9Z"/>
<path fill="#ffffff" d="M432.1,82.5 438.8,84.8 448.8,85.6 457.5,83.8 462.9,80.6 462.9,82.8 457.5,85.5 448.8,87.2 438.8,86.2 432.1,84.6Z"/>
<path fill="#a0e632" d="M432.1,75.6 462.9,75.6 462.9,80.9 457.5,84 448.8,85.9 438.8,85 432.1,82.8Z"/>
<path fill="#00d28c" d="M432.1,75.6 462.5,75.6 461.9,78.8 457.5,82.8 448.8,84.6 438.8,83.9 432.1,81.8Z"/>
<path fill="#00a0ff" d="M432.1,75.6 461.2,75.6 457.5,80.9 448.8,83.2 438.8,82.6 432.1,80.8Z"/>
<path fill="#1e3cff" d="M432.1,75.6 459.4,75.6 456.2,79 448.8,81.6 438.8,81.2 432.1,79.5Z"/>
<path fill="#8200dc" d="M432.1,75.6 456.2,75.6 452.5,78.2 445,79.9 436.2,78.9 432.1,77.6Z"/>
<path fill="#a000c8" d="M433.8,75.6 452.5,75.6 448.8,77.5 442.5,78.5 436.2,77.2Z"/>
<path fill="#fbfb5a" d="M442.5,137.8 452.5,133.1 461.2,132.5 468.8,135 466.2,141.2 462.5,147.5 457.5,151.2 451.2,152.8 443.8,155.2 438.8,161.2 432.1,161.2 432.1,155 436.2,150 442.5,146.2Z"/>
<path fill="#ffffff" d="M442.5,146.9 452.5,144 454,146.2 443.8,149.5Z"/>
<path fill="#e6af2d" d="M432.1,146.6 436.5,146.6 434,152.5 432.1,155.2Z"/>
<path fill="#e6af2d" d="M851.8,67.8 871.8,67.8 871.8,75.5 900.5,75.5 900.5,67.8 990.5,67.8 990.5,76.2 981.8,76.2 981.8,98.8 1000.5,98.8 1000.5,111.2 981.8,111.2 981.8,158.8 971.8,158.8 971.8,171.2 961.8,171.2 961.8,230 971.8,230 971.8,241.2 981.8,241.2 981.8,251.2 901.8,251.2 901.8,252.5 881.8,252.5 881.8,241.2 871.8,241.2 871.8,230 851.8,230 851.8,218 791.8,218 791.8,206.2 781.8,206.2 781.8,182.5 760.5,182.5 760.5,170.5 801.8,170.5 801.8,158.8 811.8,158.8 811.8,146.8 821.8,146.8 821.8,135 831.8,135 831.8,123 851.8,123 851.8,111.2 871.8,111.2 871.8,75.5 851.8,75.5Z"/>
<path fill="#f08228" d="M871.8,67.8 871.8,111.2 851.8,111.2 851.8,123 840.5,123.8 830.5,135 821.8,135 821.8,140.5 830.5,135.5 843,135 853,138.8 866.8,146.2 878,153.8 893,147.5 910.5,143.8 920.5,150 930.5,162.5 943,166.2 961.8,163.8 971.8,158.8 981.8,158.8 981.8,111.2 976.8,108 970,100 965.5,88.8 973,82.5 981.8,81.2 981.8,76.2 990.5,76.2 990.5,67.8 900.5,67.8 900.5,75.5 871.8,75.5Z"/>
<path fill="#e6af2d" d="M867.5,111.2 871.8,111.2 871.8,128 869.2,122.5Z"/>
<path fill="#fa3c3c" d="M880.5,95 890.5,100 903,91.2 905.5,98.8 904.2,110 899.2,115 891.8,118.8 885.5,110Z"/>
<path fill="#fa3c3c" d="M909.2,67.8 921.8,67.8 920.5,73.8 911.8,73.8Z"/>
<path fill="#f08228" d="M855.5,67.8 871.8,67.8 871.8,75.5 856,75.5Z"/>
<path fill="#fbfb5a" d="M851.8,67.8 855.5,67.8 856,75.5 851.8,75.5Z"/>
<path fill="#00a0ff" d="M851.8,69 853.5,69 855,75.5 851.8,75.5Z"/>
<path fill="#e6af2d" d="M985.2,67.8 990.5,67.8 990.5,75.5 983.5,75.5Z"/>
<path fill="#fbfb5a" d="M846.8,123 854.2,123.5 848.5,128 846.8,131.2Z"/>
<path fill="#f08228" d="M940.5,177.5 948,187.5 954.2,200 955,207.5 948,215 940.5,222.5 933,230 923,235 908,232.5 893,232.5 878,227.5 863,226.2 871.8,221.2 881.8,217.5 888,212.5 900.5,210 910.5,205 920.5,197.5 930.5,187.5Z"/>
<path fill="#e6dc32" d="M811.4,148.8 823.2,148.8 823.9,156.2 821.4,162.5 820.1,170 827,173.8 834.5,176.2 842,179.4 852,178.8 862,178.1 872,178.1 880.8,175 889.5,176.9 893.2,181.2 889.5,186.2 880.8,193.8 870.8,191.2 860.8,191.9 854.5,194.4 847,195 842,193.1 837,195 830.8,196.2 830.8,182.8 812,182.8 812,201.9 802,201.2 794.5,199.4 789.5,198.1 781.4,200 781.4,182.5 761.4,182.5 761.4,170.2 801.4,170.2 801.4,158.1 811.4,158.1Z"/>
<path fill="#f08228" d="M870.8,148.8 880.8,148.8 880.8,153.8 874.5,152.5Z"/>
<path fill="#ffffff" d="M812,182.8 830.8,182.8 830.8,205.6 812,205.6Z"/>
<path fill="#fbfb5a" d="M750.8,218.1 771.4,218.1 771.4,230 781.4,230 781.4,236.2 772,233.1 761.4,240 750.8,237.5Z"/>
<path fill="#e6dc32" d="M750.8,218.1 771.4,218.1 771.4,220 764.5,221.2 750.8,220.2Z"/>
<path fill="#a0e632" d="M763.9,251.2 768.2,247.5 777,246.2 782,247.5 783.2,251.2Z"/>
<path fill="#e6dc32" d="M761.2,171.2 797.5,171.2 797.5,217.5 790,217.5 790,206.2 781.2,206.2 781.2,182.5 761.2,182.5Z"/>
<path fill="#e6af2d" d="M781.2,200 790,197.5 797.5,196.2 797.5,217.5 790,217.5 790,206.2 781.2,206.2Z"/>
<path fill="#fbfb5a" d="M791.8,67.8 801.8,67.8 801.8,75.5 791.8,75.5Z"/>
<path fill="#e6af2d" d="M794.2,67.8 801.8,67.8 801.8,72.5Z"/>
<path fill="#ffffff" d="M735,288.8 751.2,278.8 761.2,283.8 771.2,280.6 781.2,283.8 788.1,291.2 791.9,296.9 791.9,300 793.1,300 801.9,307.2 801.9,312.2 807.5,312.2 811.9,317.8 811.9,338.8 800,338.8 792.5,331.9 788.1,326.2 781.2,316.9 772.5,313.1 761.2,308.1 751.2,304.4 742.5,305 735,301.2Z"/>
<path fill="#ffffff" d="M718.5,307.5 731.9,306.2 735,311.2 738.8,318.8 743.1,325.6 751.2,331 761.9,330.6 767.5,341.2 771.2,346.9 781.2,345.6 790,347.5 795,350 801.2,356.2 805,362.5 806.2,371.2 796.9,371.2 795,365 792.5,358.1 781.2,358.8 771.2,355.6 761.2,359.4 751.2,366.2 743.1,356.2 738.8,351.9 732.5,348.1 733.1,336.2 731.9,335.6 731.2,348.1 718.5,348.8Z"/>
<path fill="#a0e632" d="M719.4,269.4 791.9,269.4 791.9,296.9 788.1,291.2 781.2,283.8 771.2,280.6 761.2,283.8 751.2,278.8 735,288.8 735,301.2 742.5,305 751.2,304.4 761.2,308.1 772.5,313.1 781.2,316.9 788.1,326.2 792.5,331.9 800,338.8 811.9,338.8 811.9,371.2 806.2,371.2 805,362.5 801.2,356.2 795,350 790,347.5 781.2,345.6 771.2,346.9 767.5,341.2 761.9,330.6 751.2,331 743.1,325.6 738.8,318.8 735,311.2 731.9,306.2 719.4,307.5Z"/>
<path fill="#00d28c" d="M785,276.9 791.9,271.9 791.9,286.2Z"/>
<path fill="#00d28c" d="M765,323.8 771.2,319 781.9,323.8 787.5,335.6 782.5,338.5 771.2,339.4Z"/>
<path fill="#00d28c" d="M800.6,347.5 811.9,344.8 811.9,371.2 808.1,371.2 806.2,357.5Z"/>
<path fill="#fbfb5a" d="M767.5,300 771.2,296.6 775.6,300 771.2,303.1Z"/>
<path fill="#a0e632" d="M793.1,300 801.9,300 801.9,307.2Z"/>
<path fill="#00d28c" d="M797.5,300 801.9,300 801.9,303.5Z"/>
<path fill="#a0e632" d="M807.5,312.2 811.9,312.2 811.9,317.8Z"/>
<g class="grid"><line x1="54.5" y1="99.6" x2="1010.5" y2="99.6"/><line x1="54.5" y1="131.5" x2="1010.5" y2="131.5"/><line x1="54.5" y1="163.3" x2="1010.5" y2="163.3"/><line x1="54.5" y1="195.2" x2="1010.5" y2="195.2"/><line x1="54.5" y1="227.0" x2="1010.5" y2="227.0"/><line x1="54.5" y1="258.9" x2="1010.5" y2="258.9"/><line x1="54.5" y1="290.7" x2="1010.5" y2="290.7"/><line x1="54.5" y1="322.6" x2="1010.5" y2="322.6"/><line x1="54.5" y1="354.4" x2="1010.5" y2="354.4"/><line x1="54.5" y1="386.3" x2="1010.5" y2="386.3"/><line x1="54.5" y1="418.1" x2="1010.5" y2="418.1"/><line x1="213.8" y1="67.8" x2="213.8" y2="450.0"/><line x1="373.2" y1="67.8" x2="373.2" y2="450.0"/><line x1="532.5" y1="67.8" x2="532.5" y2="450.0"/><line x1="691.8" y1="67.8" x2="691.8" y2="450.0"/><line x1="851.2" y1="67.8" x2="851.2" y2="450.0"/></g>
<path class="ln"  d="M54.6,90.4 56.9,90 58.8,91.5 58.2,93.5 56.2,94.8 57.8,96.5 56.5,99 54.6,100 M54.6,100.5 57.2,99 59.4,97 62.2,95.4 64.8,93.2 67.5,91.8 70.6,90 73.8,89 76.5,87.8 77.8,84.8 76.2,81.5 76.8,78.5 79.5,76.5 82.2,75.2 83,77.5 82,80.6 82.8,83.1 81.2,85 83.5,86.5 87.5,86.9 90.6,87 94.4,86.2 98.1,85 101.2,84.5 105,84.5 107.8,83.2 108.8,80.6 110.6,78.8 111.5,76.2 113.8,74.8 113.1,72.5 115,71 118.1,70 121.9,69 124.4,69 127.5,68.2 131.6,68.2 135,67.8 M82.8,81.2 85.6,80.6 87.5,82.5 85.6,84.8 83.5,84.4 82.8,81.2 M67.8,67.8 68.8,69.8 70.2,72 73.5,73.2 76.2,72.4 79,71.2 82.2,70.2 83.5,67.8 M82.8,70.2 84.5,72.5 86,75.6 87.5,78.8 89,82.2 91.9,82 93.1,80 96.9,78.5 98.5,75 100.2,72 104,69 105,67.8 M102.5,74.8 104,74.4 104.5,76 103,77 102.2,76 102.5,74.8 M114.4,72.5 117.5,72.2 119,74.4 117.5,76.2 115,75.6 114.4,72.5 M54.6,129.5 57.5,127.5 59.1,125.2 61.2,122.8 64,122 66.2,120.2 69.1,119.5 71.9,118.8 75.6,117.8 78.1,117.5 80.6,120 83.1,124 85.6,126.1 87.5,128.5 89.3,130.9 92.5,132.8 96,134.8 99,135.5 98.1,138.1 96.9,135.6 99.4,133.1 100.6,131.2 102.5,132.2 103.5,130.6 100,128.5 97.7,126.5 95,124.4 92.6,122 90,120.2 87,116.9 86.5,114.5 88.8,113.2 91.2,113.5 93.2,115 92.5,118.1 96.5,121 99.6,122 102.5,124.8 105.6,128.1 106.5,131.9 108.8,135 110.1,137.8 111.2,140 112.5,142.8 115,141.9 114,138.1 116.2,138.5 118.5,139 116.2,134.8 114.8,131.5 115.6,129.4 119.4,128.5 123.8,128.5 128.1,127.5 130,129 126.2,129.5 124.4,131.9 124.8,135 125.2,137.9 126.5,140 130,141.5 132.6,141.9 135,143.5 140,143.1 145,142.8 147.4,142.2 150,141.2 150.3,144.8 149.8,147.5 148.7,150.5 148.1,153.8 147.3,156.5 146.5,159 M77.8,122.5 79.5,122.2 79.8,125 78.2,126.5 77.2,125 77.8,122.5 M77.2,128.8 80,128.1 80.8,131.2 79.8,134.4 77.2,134 76.8,131.2 77.2,128.8 M87.2,138.1 91.2,137.8 95.2,137.5 93.8,140 91.9,141.5 87.5,139 87.2,138.1 M60.6,132.5 63.1,132.2 63.1,133.5 60.6,133.8 60.6,132.5 M116.2,145.6 120,146.5 124.4,147.5 124.4,148.5 120,147.8 116.2,146.5 116.2,145.6 M140,148.1 143.1,146.9 146,146.2 143.8,148.8 141.2,149.8 140,148.1 M54.6,143.5 57.8,143.2 61.2,141.9 65.1,141.7 68.8,142.5 72,141.4 75,141.9 77.8,142 81.2,141.2 83.2,143.1 83,146.5 81.2,149.5 84.4,152.5 88.8,153.2 92.5,156.2 96.5,159 M128.1,127.5 127.8,123.1 130,118.8 131,116.5 132.5,114 136.2,110.6 140,111.2 143.1,114.5 147.2,114 149,111.9 151.4,109.8 153.8,109 156.6,108.7 159,108.1 156.2,110.2 154,113.5 150,115 146.2,114.5 150,116.2 153,117.5 156.2,118.8 159.3,120.5 162.5,121.5 165.2,124.4 163.1,127.5 159.8,127.4 156.9,128.2 153.6,126.7 150,126.2 146.8,126.5 143.1,125.5 140.5,126 137.5,127.5 134.5,127.8 131.9,128.5 128.1,127.5 M80,150.6 83.8,153.1 88.8,154.4 93.8,155.6 96.2,158.8 99.2,159.9 101.2,161.2 105,162.5 106.9,160.6 107.5,156.2 111.2,154.8 115,155.6 117.5,157.7 120,158.1 125,159.4 128.3,160.5 131.2,160.6 136.2,159.4 140,160 143.8,159.8 146.2,158.1 148.1,153.8 149.4,150 M140,163.8 141.8,165.7 142.5,168.8 144.2,171.4 145,173.8 146.3,176.7 147.5,179.4 149.4,181.6 150,184.4 151.1,187.5 153.1,190 152.7,193.5 153.8,196.2 155,198.3 156.2,201.2 157,203.7 158.8,206.2 160,210 162.6,211.4 163.8,213.8 165.4,216.2 167.5,217.5 169.4,218.8 172.1,218.9 175,217.5 178,216.9 M140,163.8 141.6,167.1 143.1,170 145.2,167.8 146.2,165.6 145.6,170 148.3,172.9 150,175.6 151.9,178.7 153.8,181.2 155.5,184.3 157.5,186.2 158.1,191.2 160,193.5 161.2,196.2 162.9,199.3 165,201.9 167.5,206.2 167.4,209.3 168.1,212.5 167.9,215.3 169.4,218.5 168.1,221.9 170,225 173.1,226.5 178,225 M88.8,214.4 90.6,213.5 92.5,215.6 95,216.9 93.8,219 91.9,219.8 90.2,216.9 88.8,214.4 M54.6,241.2 58.8,239 63.8,238.1 66.9,240 68.1,243.8 70.6,245.6 75,245 78.1,246.2 80,250 M178,213.1 181.8,215 184.9,213 188,211.2 191.2,209.7 194.2,208.1 198,206.1 200.5,203.8 203.4,202 205.5,200 208.6,196.2 211.1,192.5 213,188.1 211.1,186.2 209,184.3 206.8,182.5 204.2,178.8 203.6,175.6 202.4,177.5 199.9,180 196.8,182.5 191.8,182.5 190.5,178.8 189.2,176.2 186.8,176.9 185.5,173.8 183,169.4 181.1,165.6 182.4,163.1 184.9,161.9 187.4,163.1 189.2,166.9 191.1,170 194.2,171.9 198.6,173.8 202.4,173.1 204.9,173.1 206.1,176.5 210.5,178.1 214.6,179 218,178.8 221.9,178.9 225.5,178.8 230.5,178.1 233,180.6 234.9,183.8 237.4,186.5 239.4,188.8 239.9,191.2 243,193.1 245.5,191.2 246.1,188.5 247.1,190.6 247.4,195 247.8,198.1 249.2,200.8 249.2,203.8 249.8,206 251.1,208.9 251.8,211.2 252.2,214.1 253.3,216.7 254.2,218.8 254.5,221.1 256,223.3 256.8,226.2 257.1,229.4 258.6,231.9 260.5,233.8 263.6,230.6 265.5,226.9 265.6,223.6 266.8,220 266.4,216.1 267,212.5 267.4,209.4 270.5,206.9 272.1,205 274.2,202.5 276.8,200.3 279.2,197.5 281.9,195.1 284.2,193.8 285.5,190 288.6,189.8 293,188.5 296.8,186.5 298.6,189.4 299.4,192.8 301.1,195 301.8,197.8 303.6,200 305.5,203.8 304.9,208.1 306,208.8 M178,224.4 181,223.9 184.2,223.1 186.9,221.4 189.9,221.2 190.5,222.5 189.2,227.5 188.5,230 186.9,232.7 185.5,235 183.5,237.6 182.1,240.9 181.8,243.8 181.1,245.9 179.6,248.9 178,250.6 M195.5,218.8 199.2,218.5 199.9,219.8 196.8,220.6 195.5,218.8 M238,186.2 240.5,186 241.1,187.5 239,188 238,186.2 M266.1,227.5 268.6,228.1 271.1,232.5 271.5,236.9 269.2,240 267,238.8 266.1,233.8 266.2,230.5 266.1,227.5 M178.8,113.8 181.6,112.5 183.8,110 187.2,109.5 190,108.8 193.2,108.9 196.2,110 198,113.8 193.8,116.2 188.8,117.5 190,122.5 193.4,124.7 196.2,126.2 199.5,127.5 196.2,131.2 198,135 198.6,137.8 197.5,141.2 193.5,142 190,142 188,140.6 185,140 185.5,136.8 184.5,133.8 187,130 185.2,126.1 182.5,123.8 180.2,121.3 179.5,118.8 178.8,113.8 M208.8,116.2 211.2,112.5 214,111.6 216.2,110.8 218,113.8 216.6,116.4 216.2,118.8 213.6,120.5 211.2,121.2 208.8,118.8 208.8,116.2 M249.2,113.2 251.2,111.2 254.1,111.3 257.5,110.8 261.3,110.5 264.5,110 264.5,111.5 260.9,111.4 257.5,112.5 254.8,112.6 252,113.2 250.8,115.5 249.2,113.2 M329.1,94.8 332.9,93.8 335.1,92.1 337.9,90.6 340,88.1 342.2,86.9 343.7,84.3 344.8,81.9 346,81.5 346.2,83.1 344.8,85.5 343.5,88.1 341,89.7 339.1,91.9 336.3,93.1 334.1,95 331,95.9 329.1,94.8 M377.9,160 377.5,157.7 376,155 375.7,152.4 374.1,150 371,147.5 373.5,145 376,143.1 379.1,141.2 376,140 372.2,140 369.1,138.1 366.6,135.6 368.5,134 372.2,132.5 374.1,130 377.9,128.8 378.5,131.2 376.6,133.8 381,133.1 386,132.5 387.9,135 387.2,138.1 389.8,140 391.6,142.5 391,147.5 391,149.4 393.5,148.8 396.6,146.9 397.9,143.1 397.2,140 394.1,136.2 392.2,133.1 393.5,131.2 397.2,129.4 399.1,125.6 402.2,122.5 405.4,121.2 407.2,122.5 409.1,120.7 412.2,120 414.8,117.4 417.2,115 420,112.7 421.6,110 424.8,106.2 425.2,103.2 426.6,101.2 427.9,96.2 429.8,93.1 429.1,90 426.6,86.9 423.5,85.6 420.4,88.1 418.5,85.6 416,85 413.5,83.8 417.2,80.6 419.6,78 422.2,76.9 424.5,75.2 426.6,73.8 428.9,72.7 431,70.6 434,70 M398.5,153.1 400.2,151 402.2,149.4 406,146.9 411,145.6 415.4,146.2 417.9,143.1 418.5,140 422.2,137.5 424.8,133.8 427.2,130 427.9,126.2 426,123.8 428.5,123.1 429.8,127.5 431,132.5 429.8,137.5 429.1,140.4 427.9,142.5 426,146.2 421,147.5 417.2,150 416,153.1 412.2,153.8 408.5,152.5 406,151.9 403.5,155 402.9,158.8 401,160 399.1,156.9 398.5,153.1 M404.8,150.2 408.2,149.8 412.2,148.5 413.5,150.2 410.2,151.3 407.5,152.5 404.8,150.2 M487.5,68.8 485,71.2 486.2,73.8 488.1,76.2 486.9,80 485,81.9 483.8,85 480,87.5 476.9,90.6 473.8,93.1 470,96.2 468.1,98.1 466.9,99.4 468.1,95 469.4,91.2 468.1,86.2 467.5,81.2 469.4,77.5 472.5,75 476.2,72.5 480,70 482.5,68.1 M487.5,68.8 490,70.6 491.5,71.9 489.4,72.5 M420,80.6 422.9,78.3 425,75 427.8,73.1 430,71.2 433,70.2 436.2,70 439.6,70 441.7,69 445,69.8 449,69.2 452.5,69.4 456.2,70.6 461.2,71.2 466.2,70.6 462.5,69 457.5,68.5 M431.9,86.2 433.1,85 434,90 434.8,95 434.6,97.4 436.2,100 437.5,103.1 435.6,103.8 433.8,106.9 434.8,110 433.1,111.2 431.9,107.5 431.2,102.5 430.6,97.5 430,92.5 430.6,88.8 431.9,86.2 M432.5,115 436.2,118.1 440,118.8 441.9,120.6 438.8,122.5 435,124.4 431.2,125 428.8,126.2 426.9,124.4 428.8,121.2 430.6,117.5 432.5,115 M420,83.8 423.8,86.9 427.5,90 430,91.2 428.8,96.2 427.8,98.8 426.2,101.2 425.1,103.7 423.8,106.2 421.2,110 420,112.5 M425.6,124.4 427.5,127.5 429.4,131.2 431.2,135 430.6,140 428.8,143.8 427.5,146.2 423.8,147.5 420,149.4 M425.6,124.4 425.7,127.2 425,130 423.8,135 423.2,137.7 421.2,140 420,141.2 M373.8,150 376.2,153.8 377.5,157.5 378.8,160 375,162.5 379,163.8 377.8,166 377.5,168.8 375.5,172.4 373.1,175 372.1,177.8 370,180 367.4,182.2 365,184.4 362.7,186.2 360,186.9 355,187.5 351.2,189.4 346.9,191.2 343.1,190 338.8,191.2 336.7,194 335,196.2 335,200 338.1,203.8 341.2,206 342.5,208.8 344,212 344.4,215 344.2,219 344,222.5 342.1,224.2 339.4,225 336.2,227.5 333.1,231.2 331.2,227.5 328.7,226 327.5,223.8 325.8,221.4 323.8,218.8 320.6,216.2 320.4,218.6 319,221.2 316.9,225 316.9,230 318.9,232.3 320,235 322.1,237.6 323.8,240 326.4,242.3 327.5,245 327.7,248 329.4,250 M343.1,196.9 345.6,195.2 348.5,196.9 348.1,199.4 345.6,201.2 343.1,200 343.1,196.9 M375.6,179.4 378.1,178.8 378.8,181.9 378.2,184.8 376.9,187.5 375,189 373.5,185.6 374,181.9 375.6,179.4 M290,190 293.8,188.1 297.5,186.9 299.4,191.2 301.3,194 302.5,196.9 304.2,199.8 305,202.5 305.4,205.2 305.6,208.1 309.4,208.8 312.5,205.6 312.9,208.9 314.4,211.2 314.4,214.6 315.6,217.5 316.6,221.1 316.5,225 316.5,228.4 315.6,231.2 317.7,234.3 318.1,237.5 320.1,240.2 321.2,243.8 322.2,247.1 323.5,250 M374.4,200.6 379.4,200.2 379,205 378.1,210 379.4,213.8 377.5,216.2 376.2,219.4 375,217.5 373.3,215.2 373.1,212.5 372.5,208.1 374.4,205 374.4,200.6 M378.1,215 383.1,214.4 385,218.1 387.5,220 386.9,223.8 388.8,227.5 390.6,231.2 390.5,234.2 390,237.5 387.5,241.2 384.4,239.4 383.1,235 380,236.2 378.8,234.4 381.9,231.9 380.6,227.5 378.1,225 379.4,221.2 377.5,218.8 378.1,215 M381.9,220 385,221.2 384.4,225 382.2,223.8 381.9,220 M383.1,227.5 386.9,228.1 386.2,231.9 383.5,231.2 383.1,227.5 M350,250 353,248.7 355,246.2 356.9,244.3 359.4,242.5 360.6,240.6 362.6,238.8 365,236.9 367.4,239 370,241.9 368.1,246.2 366.2,250 M307.5,241.2 310.6,241.9 311.4,244.2 313.8,246.2 316.2,250 M307.5,241.2 308.8,245.6 311.2,250 M398.8,153.8 401.2,151.9 405,150.6 410,150 M400,153.1 401.9,157.5 403.1,160 401.2,159.4 399.8,156.2 398.8,153.8 M313.1,250 315.4,252.3 316.2,255 317.4,258.5 320,261.2 320.9,264.7 323.1,267.5 325.4,270.7 327.5,273.1 330.3,274.7 333.1,277.5 335.2,276.2 335.6,271.2 336.2,266.2 333.8,263.8 331.8,262.5 330,260 328.5,258.1 326.9,255.6 325.1,253.2 324.4,250 M334.4,278.1 336.2,281.2 338.9,282.7 342.5,283.8 346.5,284.2 350,285.6 354.1,286 357.5,286.9 361.5,287.7 365,287.5 370,286.9 367.5,285 363.5,284.5 360,283.8 357.3,282.6 355,281.9 352.4,281.2 350,280 346.9,279.8 343.8,279.4 338.8,278.1 334.4,278.1 M382.5,291.2 385.6,288.8 390,286.2 391.9,286.9 388.8,289.4 385,291.9 382.5,291.2 M350,250 347,251.4 343.8,253.8 344.9,256.9 345,260 346.2,262.7 346.3,265.4 347.5,267.5 350.3,268.4 352.5,269.4 357.5,270 360,271.9 363.1,268.8 364.4,263.8 365.5,261 366.2,258.8 370,255.6 368.8,252.9 368.1,250 M371.9,256.2 374.7,255.5 377.5,255.6 382.5,256.2 386.2,254.4 386.9,255.6 383.1,258.1 379.9,258.1 377.5,258.8 376.2,261.9 380,261.2 382.5,261.9 378.8,264.4 377.5,267.5 380,271.2 381.9,275.6 380,276.9 377.5,272.5 375,271.2 374.7,274.1 374,276.9 371.9,276.5 372,273.2 372.5,270 371.2,265 372.1,261.7 372.4,258.8 371.9,256.2 M392.5,253.1 395,252.5 395.6,256.2 394.4,261.2 392.5,260 393.1,256.2 392.5,253.1 M403.1,262.5 406.2,260.6 410,261.9 410.6,265 407.5,266.9 410,270 412.7,271.5 415,271.9 418,273.1 M418,263.8 413.8,262.5 410,261.9 M358.1,350 356.6,346.4 356.2,342.5 355.6,339 355,336.2 355.9,332.9 355.6,330 357.8,328.5 360,326.2 363.3,325.7 366.2,323.8 369.1,323.3 372.5,322.5 375.1,320.8 377.5,320 377.7,317.6 379.4,315 382.5,311.9 384.1,309.6 386.2,307.5 388.7,305.6 391.2,303.8 395,305.6 398.1,306.9 398.4,304.3 400,301.2 401.2,296.9 406.2,296.2 408.7,296.9 411.2,298.1 416.2,298.8 418,299.4 M418,300 415,303.8 415,308.8 418,310.6 M418,264.4 421.1,263.5 425.5,265.6 428,266.6 430.5,268.8 433.6,270.3 436.8,271.2 438.7,273.2 441.1,275 444.9,278.1 447.4,280 446.1,282.5 448,286.2 451.1,290 454.2,291.9 453,293.8 449.2,291.2 445.5,290.6 443.3,288.2 441.8,286.2 439.2,283.1 435.5,284.4 433,287.5 429.2,287.5 425.5,285 421.8,285.6 419.9,283.8 422.4,281.2 421.1,277.5 418,275.6 M454.5,267.5 458,269.4 461.1,271.9 461.1,274.4 458,275 455.5,277.5 451.8,279 448.6,278.1 449.2,276.9 454.2,276.2 457.4,273.8 458.6,271.5 457.2,269.4 454.5,267.5 M418,310 420.6,312.1 423,313.1 426.8,315.6 427.1,312.9 429.2,310 431,306.6 431.1,302.5 430.9,299.3 431.8,296.2 433,293.8 434.9,297.5 435.8,300.8 436.8,303.8 439.9,307.5 440.6,311.3 441.8,315 442.8,318.1 444.9,321.2 447,323.3 448.6,325 449.9,327.8 451.8,330 454.3,331.7 455.5,333.8 458,337.5 460.1,339.9 460.5,342.5 461.7,346.2 461.8,350 M525.8,315.6 527,314.2 528.5,315.2 528,317 526.2,317.2 525.8,315.6 M77.5,250 77.3,253.6 77,256.3 76.2,260 78,262.6 78.9,264.8 80.8,267.3 82.5,270 84.6,272.5 84.6,275.1 85.9,277.9 87.5,280 89.1,283 89.4,286.2 90,290 88.7,293.5 88.3,296.9 87.5,300 87,303.2 86.5,306.9 86.2,310 87.4,312.4 88.4,314.9 88.2,317.5 90,320.1 90,322.5 90.4,325.4 92.2,327.7 92.2,329.7 93.2,332.1 93.8,335 93.9,338.6 94.4,341.6 95.6,344.3 96.2,347.5 96.8,349.7 98.8,352.3 99.5,355.3 100,357.5 100.5,359.7 101.6,362.2 102.1,365.4 103.8,367.5 107.3,368.9 111.2,369.5 114.1,368.2 116.8,368.8 119.9,367.5 122.5,367.5 125,365.5 128,364.6 130,362.5 131.8,359.4 135,357.8 136.2,355 137.6,352.9 138.2,349.5 139.6,346.9 141.2,345 142.5,340 144,337.8 146.2,336.2 146.1,333.2 147.1,330.8 147.2,327.8 147.5,325 150.4,322.4 152.5,320 154.2,317.7 157.3,315.3 158.8,312.5 159.1,309.7 159.8,306.9 161.2,305 161.1,301.4 161.5,298.2 162,295 161,290.8 160,287.5 159.5,283.9 159.2,281 158.8,277.5 160.1,275.5 160.1,272.5 161.6,269.9 162.5,267.5 163.5,265.1 165.6,262.8 167.5,260 170.3,257.7 172.6,256.5 175,253.8 176.9,252.1 178.8,250 M138.8,260 143.8,258.8 144.7,261.2 145.5,263.8 143,267.5 139.2,266.2 138.2,263 138.8,260 M185,297.5 186.4,300.3 187.5,302.5 188,305.8 187.9,309.3 187,312.5 186.7,315 185,317 185.2,320 183.8,322.5 182.3,324.8 181.6,327.7 181.4,330.1 180,332.5 178.5,336.1 176.2,338.8 172.5,340 170.2,337 169.5,333.8 169.6,330.7 169.7,327.5 170.5,325 170.7,322.1 172.2,319.2 172,316.2 173.1,313.2 175,310 177.3,308.2 178.5,305.9 180,303.8 182,302.4 183.3,299.2 185,297.5 M451.9,330 454,331.9 456.2,333.8 458,336.8 460,340 460.3,343 461.9,346.2 462.2,349.6 462.2,352.5 460.8,355.9 460,358.8 458.8,361.9 456.9,365 456,368 454.4,371.2 454.1,375.2 452.5,378.8 450,380 M513.1,369.4 515.6,371.2 518.1,373.8 518.8,377.5 521.1,378.5 523.8,380 528.8,379 528.1,382.5 525.6,385 523.8,388.8 521.2,391.2 518.8,390 517.5,386.9 518.1,382.5 517.8,379.7 516.2,377.5 514.4,373.1 513.1,369.4 M517.5,386.9 515,388.8 512.5,389.8 510.6,392.5 508.1,396.2 506.3,398.4 503.8,399.4 499.4,401.9 496.9,405 498.1,406.9 502.5,407.5 506.2,406.2 508.8,402.5 511,401.4 512.5,398.8 514.4,396.8 515.6,393.8 518.1,390 518.8,388.1 M356.2,340 357.5,345 358.5,348.4 359.1,351.8 360,355 360,358.8 360.6,362 361.2,365 363,367.3 365,369.5 369.1,370.4 372.5,370 375.1,369.1 377.5,367.3 380.2,367.4 382.5,366.2 384.8,364.5 387.3,364 390,362.5 393.5,361.5 397,361.3 400,360 403.7,360.8 406.2,361.3 410,361.2 411.6,362.9 412.9,366 415,367.5 418.8,365 419.8,368.4 420,372.5 422.9,374.7 425,377.5 427.1,378.5 429.7,380.2 432.5,381.2 436.7,381.9 440,383 443,382.7 445,381.2 450,380 M439.5,390 442.1,388.8 445,388.8 448.8,391.2 447.8,394.5 447,397 443,398.8 440.5,395 439.5,390 M417,369.5 418.5,367 420,364.5 420.6,367.8 421.5,371.2 418.8,373.8 417,369.5 M805.5,250 803.8,251.9 801,253.5 799.9,256.1 798,257.5 796.2,260 796.7,263.2 795.5,265.4 794.2,267.5 795.2,270.8 795.3,274.3 795.5,277.5 796.5,280.5 797.6,283 799.1,285.1 800.5,287.5 801.4,290.3 802.5,292.6 803.7,295.6 805.5,297.5 807.7,300.4 808.8,303.5 810.5,306.2 812.8,308.8 815.6,310.8 818,312.5 820.2,313.5 822.3,315.5 824.2,317.5 825,320.2 824.7,324.1 824.3,326.9 825,330 824,333 824.1,335.6 824.1,338.9 824.1,342 823,345 822.3,347.7 822.1,351.6 821.3,354.5 820.5,357.5 820.5,360.5 818.7,363.9 819.3,367.1 818,370 817,373.1 816.5,376.2 816.7,379.1 816.4,382.1 815.5,385 814.6,388.6 814.2,391.8 814.2,395 814,398.8 812.7,402 811.8,405 811.6,408.6 810,412.1 809.2,415 809.6,418.4 810.5,421.7 811.8,425 813.1,427.8 815.6,430.7 818,432.5 820.8,433.2 823,435 825.3,436 828,436.2 831.3,435.3 833.9,434.6 836.8,433.8 834.2,431.6 830.5,430 828.8,427.6 827.6,424.9 826.8,422.5 828.2,419.7 829.1,417.7 830.5,415 829.2,410 831.7,407.9 834.2,405 833,400 835.6,398.5 838,396.2 838.8,393.9 840.5,391.2 841.8,388.6 843,386.2 845.9,385.2 848.1,383.6 850.5,382.5 852.7,381.5 855.6,379.8 858,378.8 859.2,373.8 857.2,371.9 856,368.8 859.1,369.1 861.2,367.6 864.2,367.5 867,366.1 868.7,363.6 871,362.6 873,360 874.2,357.4 877,355.7 878.2,351.8 880.5,350 880.8,347.7 883.2,345.1 883.2,342.2 884.2,340 886.5,339.1 888.8,336.6 890.5,335 893.6,334.3 895.9,332.7 898,331.2 900.4,328.9 901.7,326.7 904.2,325 903.8,321.6 905.4,318.8 905.3,315.2 905.5,312.5 906.3,309.9 907.7,308 907.9,305 909.2,302.5 910.7,300.2 910.9,297.3 913.1,295 914.2,292.5 916.1,289.9 915.7,287 916.2,285.1 918,282.5 917.6,279.6 916.7,277 915.5,275 912.6,273.9 910.5,272.4 908,270 906,268.4 902.9,267.3 900.5,266.2 896.8,264.9 893,265 891.2,263.2 887.6,262.9 885.5,261.2 881.4,260.6 878,260 875.5,262.5 875,257.5 876.9,254.8 878,252.5 875.5,250 M848,423 853,422 857.5,423.8 853,425.8 850.2,424.2 848,423 M814.2,392 817.5,392.5 816.7,396.6 816.8,400 814,399.5 813.3,396.1 814.2,392 M813,422.5 815.9,424.7 818,427.5 822,426.6 825.5,427 826.8,430.5 823.1,431.8 819.2,432 M560,91.2 562.5,89.5 565,88.1 567.6,87.4 570.5,86.8 572.5,85.6 575.4,84.8 577.5,83.7 580,82.5 583.1,81.6 585.2,80.1 587.5,78.8 591.2,76.2 592.5,72.5 590,71.2 585,71.9 581.2,70.6 580,68.8 M600,73.8 603.1,71.9 606.2,73.1 605.6,76.2 601.9,77.5 600,73.8 M602.5,70 607.5,68.8 612.5,69 M635,68.1 637.8,69.6 641.2,70 644.4,72.5 647.5,73.8 650.4,76.2 652.5,78.8 654.4,80.9 656.2,83.8 657.8,86.3 658.8,88.8 661.2,92.5 663.8,90 666.2,92.5 668.6,94 670,96.2 672.4,97.8 675,100 677.5,101.1 680,102.5 685,103.8 685,106.9 681.9,105 680,107.5 680.4,111.6 680.6,115 679.6,118.5 680,122.5 680.2,126.5 681.9,130 682.3,133 683.8,134.8 685,137.5 685.5,140.7 686.7,142.3 688,145 M671.2,97.5 674.5,98.3 677.5,99.4 680.6,101.4 683.8,103.1 685,106.2 682.4,104.4 680,103.8 676.8,101.8 673.8,100.6 671.2,97.5 M681,130 680.8,126.2 679.8,122.5 680.9,119.4 680.4,116.2 681.4,113.5 681,110 682.2,106.2 685.4,107.5 683.5,103.1 679.8,100 676,98.1 M681,130 681.8,133.3 683.5,136.2 684.4,139.2 686.6,141.2 687.4,144.4 689.8,147.5 693.5,149.4 697.2,151.9 698.7,154.4 700.4,157.5 701.6,160 M747.2,88.1 751,87.8 751.9,90.3 753.5,92.5 755.4,96.9 752.9,98.1 750.4,93.8 749.5,90.5 747.2,88.1 M758.5,68.8 759.8,71.9 763.5,73.8 766,76.9 771,78.1 773.7,78.7 776,80 778.3,81.7 781,81.9 786,83.1 788.7,83.4 791.6,83.8 792.9,86.9 792.2,90.6 795.4,92.5 797.9,96.2 799.8,95 800.4,90 799.1,85 801,83.1 804,81.9 M765.4,110 769.1,108.1 772.2,105.6 776,103.1 779.8,103.1 782.9,105 786,106.9 785.4,110 782.2,109.4 778.5,108.8 774.8,110 769.8,111 765.4,110 M779.8,113.1 778.5,116.9 777.2,121.2 777.5,125 779.8,126.2 781,122.5 781.6,118.1 782.2,115 779.8,113.1 M786,111.2 789.8,111.9 794.8,112.5 797.9,114.4 798.5,116.9 795.4,117.5 793.5,120.6 791.6,120 790.4,116.9 787.9,115 786,111.2 M789.1,125.6 793.5,123.8 797.2,121.9 800.4,120 803.5,119.8 802.2,121.9 797.9,124.4 794.1,126.2 790.4,127.2 789.1,125.6 M793.5,160 796,156.2 799.8,153.1 802,151.2 804,150 M839.5,68.8 842,71.9 844.3,73.5 845.8,76.2 847,80.6 849.8,81.4 852,83.1 854.3,85 857,86.2 860.8,89.4 862.6,93.1 860.8,96.2 858.9,98.8 862,101.2 867,101.9 870.1,105 870.8,109.4 868.2,110.6 864.5,109.4 862,108.1 858.8,107.8 856.2,107.3 853.2,107.5 855.1,103.1 855.9,100.5 857.6,97.5 857,95.6 853.2,97.5 851.4,99.3 848.2,100 844.5,99.4 839.5,98.8 834.5,100 832.1,101.7 829.5,103.1 825.8,106.2 823.7,108.4 822,110 825.1,108 827,105.6 830.6,104.7 833.2,102.5 836.4,101.2 839.5,101.6 844.5,102.1 847,102.8 843.2,103.4 840.3,102.9 837,104 834.5,106.2 837.6,108.1 840.1,110 844.5,111.2 848.2,109.4 850.8,110 851.4,112.5 848.2,114.4 844.5,115 840.8,116.9 837,120 835.1,118.1 837,115 833.2,115 830.4,116.3 828.2,118.1 826.4,120.1 823.2,121.2 822,125 818.9,127.5 815.8,128.1 812,131.2 809.5,133.8 807.6,136.2 809.5,140 807.6,143.8 808.2,147.5 804.5,150 800.8,153.1 797,156.2 794.5,160 M801.4,70 804.5,72.5 805.6,75.5 807,77.5 806.4,82.5 803.9,84.7 801.4,85 800.8,90 802.6,93.1 800.6,94.3 798.9,96.9 796.9,94.1 794.5,92.5 792,90 M825.1,69 828.2,72.5 832,73.8 835.8,71.9 837,69 M792,113.8 795.8,112.5 798.2,115 797,118.1 793.2,120 792,120.6 M792,126.2 794.4,124.6 797,123.8 800.7,122.5 803.2,120 805.6,118.8 808.2,117.5 808.9,120 806.3,122 803.9,122.5 801,123.6 798.2,125.6 794.9,126.5 792,127.5 M983.5,86.9 987.2,84.4 992.2,83.1 995.4,85 994.8,88.8 992.2,92.5 988.5,94.4 984.8,95 983.5,92.5 985.4,90 983.5,86.9 M1010.8,89 1007.5,85 1006,81.5 1003.8,78.1 1006,75.2 1002.5,72.5 999.2,73.2 996,72.5 992.2,73.5 995,76.9 996,80.6 999.8,83.1 1002.2,85.6 999.8,88.1 998.8,91.9 1002.2,93.1 1001.2,96.2 997.2,99 1002.2,97.8 1007.2,96.5 1010.8,97 M1010.8,101.2 1006,100.6 1006.6,103.1 1002.2,103.8 998.5,105.6 1001,108.1 1005.4,109.4 1007.2,112.5 1006.6,117.5 1004.8,120.6 999.8,120.2 994.8,119.4 989.8,120 986.6,121.9 986.2,124.5 987.2,127.5 986.4,130.4 986.6,133.8 988.5,137.5 987.9,141.2 992.2,141.9 996,143.1 1001,141.9 1003.5,141.4 1006,140 1008.6,137.9 1010.8,135.6 M1010.8,145 1007.6,146 1004.8,146.9 1001.5,146.3 998.5,146.2 996,143.5 994.8,146.2 992.2,150 988.5,153.1 986,156.2 984.1,160 M988.5,152.5 985.5,156.2 982.7,157.6 980.2,160.1 978,162.5 975.6,164.6 975,167.3 973,170 971.2,173.3 969,175.2 968,178.8 966.7,181.3 966.2,184.5 965.5,187.5 966.2,190.5 965.7,193.9 966.7,196.5 966.8,200 967.2,203.6 966.1,206.2 966,209.1 965.5,212.5 966.9,216.1 967.4,219.1 968,222.5 968.6,225.4 970.8,226.9 972.1,229.5 973,232.5 975.1,233.8 976.9,236 978.7,237.9 980.5,240 982.8,241.6 984.9,243.9 988,245 991.3,244.8 994.3,244.3 998,243.8 1001.1,243.6 1002.6,241.4 1005.5,241.2 1010.5,242.5 M752,178.1 752.8,174.6 753.2,171.2 755.1,168.6 757,166.2 759.5,165 762,163.8 764.5,162.8 767.5,163.2 770.8,162.5 772.6,164.4 774.5,161.9 777.6,162.4 780.8,162.2 785.8,163.1 788.9,165.6 790.8,170 792,175 794.5,178.8 796.4,179.4 797.2,175 796.2,171.7 795.8,168.8 794.9,165.7 794.5,162.5 795.8,157.5 798.2,153.8 802,151.2 804.5,150 M752,190 752.5,193.2 753.2,196.2 754.9,198.9 757,200 762,201 764.7,200 767,198.1 768.4,195.4 769.5,193.1 773.2,191.2 775.9,191.1 778.9,190.6 780.1,192.5 779.5,195.6 778.2,197.5 778.2,199.9 776.4,202.5 775.1,207.5 778.2,208.8 783.2,207.8 787,210 789.5,213.8 789.5,216.6 789.5,220 788.2,225 790.8,228.8 794.5,231.2 798.2,230 801.4,228.8 803.2,231.2 805.8,233.8 807,232.5 808.2,228.1 812,225 814.5,223.6 817,223.1 820.1,220 821.4,222.5 820.1,225 819.5,228.8 821.4,230 822,226.9 823.9,222.5 827,220.6 828.9,223.8 833.2,225.6 836.3,226.4 839.5,226.2 844.5,225 848.2,225.6 848.9,230 852,232.5 853.4,235 855.8,236.2 859.5,239.4 864.5,240.6 867.3,241.4 869.5,242.5 873.2,245.6 875.8,250 M752,208.1 755,208.5 758.2,207.5 760.3,209.4 763.2,210.6 765.4,213 768.2,215 771.1,215.5 773.9,215.6 776.9,216.2 778.9,218.1 781,220.7 782,223.8 783.6,226.1 785.8,227.5 787.2,229.6 789.5,231.2 793.9,233.1 796.4,236.2 797.6,233.8 799.5,230 802,230 803.9,233.1 805.1,237.5 805.4,240.4 805.8,243.8 805.2,246.6 804.5,250 M785.1,189.4 788.2,186.9 793.2,185.6 798.2,186.9 800.8,187.3 803.2,189.4 805.5,190.3 808.2,191.9 810.1,193.6 813.2,194.4 812,195.6 807,196 804.5,193.8 800.8,191.2 798.4,190 795.8,188.8 792,188.1 789.5,190 785.1,189.4 M812.6,200.6 815.8,198.1 818.2,196.2 823.2,195.6 827,197.5 828.9,200.6 825.8,200 822.6,201.9 820.8,203.1 818.9,200.6 815.8,201.2 812.6,200.6 M680,122.5 680.3,126 680.9,129.2 681.2,132.5 683.3,135.1 684.7,137 686.2,140 688.6,142.9 690,146.2 691.7,148.8 694.6,149.7 696.2,152.5 698.6,155.1 700,158.8 702.3,162 703.8,165 705.1,167.7 706.2,170 707.5,172.6 710,175 712.4,177.5 714,179.5 715,182.5 718.8,185.5 718,185 717.6,182.5 716.3,179.5 715,177.5 714.4,174.3 712.5,171.2 710.9,168.4 710,165 708,163.3 707,160 705.5,158 708,158.8 709.7,160.8 710.6,163.8 712.5,166.2 714.5,167.9 715.8,170.1 716.7,172.9 718.7,174.8 720,177.5 721.7,180.3 722.9,183.2 725,185 727.1,187.3 728.5,189.5 730,192.5 732.8,194.8 735.2,196.5 737.5,198.8 739.5,200.6 743.2,201.6 745,203.8 747.3,205.6 750.1,206.9 752.5,207.5 755.3,208.8 757.7,209.8 760,210 761.9,212.1 765,213.8 767.2,214.8 769.5,216.4 772.5,217.5 774.9,220.4 777.5,222.5 779.8,223.3 782,226.1 783.8,227.5 786.7,230.2 790,231.2 792.7,232.9 796,233.8"/>
<path class="ln" style="stroke-width:2.1" d="M444.4,117.1 446.9,115.8 M448.2,115 450.8,113.8 M452,113 454.5,111.6 M466.2,99.5 468,98.2 M512.8,90.4 514.8,90.9 M540.2,93.8 542.2,94.2 M365.6,232.5 371.9,223.8 M370,289.8 375,290.8 M385,285.6 390,284.5 M312.9,255.2 313.8,256.5 M316.5,262.5 317.5,264 M334.4,265.2 335.2,266.2 M341,267.8 341.8,268.8 M389.4,270 390.6,270.2 M394,268.8 401,270 M400,259.5 402.5,260 M410.6,276.9 411.5,281 M402.8,282.5 403.5,284.2 M381.2,313.1 382.5,314.4 M356,341.9 356.5,343.8 M465.2,276.9 468,280.6 M478,289.4 480.5,290.2 M482.4,291.2 485.5,293.5 M497.4,306.9 499.9,311.9 M490.8,324 498,330 M531.1,311.2 529.2,312.5 M131.2,270 132.5,275 135,282.5 136.8,287 M145,290 146.2,297.5 147.5,304.5 M200.8,326.2 201.8,326.8 M206.5,323.5 207.5,324 M237.5,415 241.2,416.5 M499.4,408.8 501,409.5 M541,398.8 542.8,399.5 M909.2,431.5 915.5,433.8 M768,260 768.8,262 M551.5,302.5 555.5,304 M613.2,315.2 614,316 M768,260 768.5,262.5 M561.2,90 563.8,88.5 M565.6,87.8 568.1,86.9 M651.9,73.5 656,78.5 M657.8,87.2 661,92.2 M714.8,71.9 719.8,69.8 725.4,70 M736.6,79.4 738.5,75.2 740.4,74.5 M741,90 744.1,90.6 747.2,96.2 749.8,99.4 M798.9,79.8 800.1,80.2 M965.5,169 968,170 M971.8,167.5 974.2,166.2 M803,201 808,201.8 M831.8,200.2 836.8,201 M801.4,174 805.1,175 M802.9,179.4 804.5,183.1 M846.4,206.9 847.6,208.1 M848,211.9 849.2,213.1 M789.5,189.8 791,190.6 M815.1,191.9 816.8,191.2 M561.2,90.5 565,88.8 M584.8,188.8 586.5,189.5 M589,190 591,190.8 M594,192.5 595.5,193.5 M596.8,195.5 598,198"/>
</g>
<line class="tk" x1="48.0" y1="67.8" x2="54.5" y2="67.8"/>
<text class="al" text-anchor="end" transform="translate(42.6,74.7) scale(.93,1)">60N</text>
<line class="tk" x1="48.0" y1="99.6" x2="54.5" y2="99.6"/>
<text class="al" text-anchor="end" transform="translate(42.6,106.5) scale(.93,1)">50N</text>
<line class="tk" x1="48.0" y1="131.5" x2="54.5" y2="131.5"/>
<text class="al" text-anchor="end" transform="translate(42.6,138.4) scale(.93,1)">40N</text>
<line class="tk" x1="48.0" y1="163.3" x2="54.5" y2="163.3"/>
<text class="al" text-anchor="end" transform="translate(42.6,170.2) scale(.93,1)">30N</text>
<line class="tk" x1="48.0" y1="195.2" x2="54.5" y2="195.2"/>
<text class="al" text-anchor="end" transform="translate(42.6,202.1) scale(.93,1)">20N</text>
<line class="tk" x1="48.0" y1="227.0" x2="54.5" y2="227.0"/>
<text class="al" text-anchor="end" transform="translate(42.6,233.9) scale(.93,1)">10N</text>
<line class="tk" x1="48.0" y1="258.9" x2="54.5" y2="258.9"/>
<text class="al" text-anchor="end" transform="translate(42.6,265.8) scale(.93,1)">EQ</text>
<line class="tk" x1="48.0" y1="290.7" x2="54.5" y2="290.7"/>
<text class="al" text-anchor="end" transform="translate(42.6,297.6) scale(.93,1)">10S</text>
<line class="tk" x1="48.0" y1="322.6" x2="54.5" y2="322.6"/>
<text class="al" text-anchor="end" transform="translate(42.6,329.5) scale(.93,1)">20S</text>
<line class="tk" x1="48.0" y1="354.4" x2="54.5" y2="354.4"/>
<text class="al" text-anchor="end" transform="translate(42.6,361.3) scale(.93,1)">30S</text>
<line class="tk" x1="48.0" y1="386.3" x2="54.5" y2="386.3"/>
<text class="al" text-anchor="end" transform="translate(42.6,393.2) scale(.93,1)">40S</text>
<line class="tk" x1="48.0" y1="418.1" x2="54.5" y2="418.1"/>
<text class="al" text-anchor="end" transform="translate(42.6,425.0) scale(.93,1)">50S</text>
<line class="tk" x1="48.0" y1="450.0" x2="54.5" y2="450.0"/>
<text class="al" text-anchor="end" transform="translate(42.6,456.9) scale(.93,1)">60S</text>
<line class="tk" x1="54.5" y1="450.0" x2="54.5" y2="456.5"/>
<text class="al" text-anchor="middle" transform="translate(54.5,474.8) scale(.93,1)">0</text>
<line class="tk" x1="213.8" y1="450.0" x2="213.8" y2="456.5"/>
<text class="al" text-anchor="middle" transform="translate(213.8,474.8) scale(.93,1)">60E</text>
<line class="tk" x1="373.2" y1="450.0" x2="373.2" y2="456.5"/>
<text class="al" text-anchor="middle" transform="translate(373.2,474.8) scale(.93,1)">120E</text>
<line class="tk" x1="532.5" y1="450.0" x2="532.5" y2="456.5"/>
<text class="al" text-anchor="middle" transform="translate(532.5,474.8) scale(.93,1)">180</text>
<line class="tk" x1="691.8" y1="450.0" x2="691.8" y2="456.5"/>
<text class="al" text-anchor="middle" transform="translate(691.8,474.8) scale(.93,1)">120W</text>
<line class="tk" x1="851.2" y1="450.0" x2="851.2" y2="456.5"/>
<text class="al" text-anchor="middle" transform="translate(851.2,474.8) scale(.93,1)">60W</text>
<line class="tk" x1="1010.5" y1="450.0" x2="1010.5" y2="456.5"/>
<text class="al" text-anchor="middle" transform="translate(1010.5,474.8) scale(.93,1)">0</text>
<rect class="fr" x="54.50" y="67.75" width="956.00" height="382.25"/>
<path class="cb" fill="#a000c8" d="M164.5,532.5 L97.5,545.9 L164.5,559.3 Z"/>
<path class="cb" fill="#f00082" d="M898.5,532.5 L966.5,545.9 L898.5,559.3 Z"/>
<rect class="cb" fill="#8200dc" x="164.50" y="532.5" width="66.73" height="26.8"/>
<rect class="cb" fill="#1e3cff" x="231.23" y="532.5" width="66.73" height="26.8"/>
<rect class="cb" fill="#00a0ff" x="297.95" y="532.5" width="66.73" height="26.8"/>
<rect class="cb" fill="#00d28c" x="364.68" y="532.5" width="66.73" height="26.8"/>
<rect class="cb" fill="#a0e632" x="431.41" y="532.5" width="66.73" height="26.8"/>
<rect class="cb" fill="#ffffff" x="498.14" y="532.5" width="66.73" height="26.8"/>
<rect class="cb" fill="#fbfb5a" x="564.86" y="532.5" width="66.73" height="26.8"/>
<rect class="cb" fill="#e6dc32" x="631.59" y="532.5" width="66.73" height="26.8"/>
<rect class="cb" fill="#e6af2d" x="698.32" y="532.5" width="66.73" height="26.8"/>
<rect class="cb" fill="#f08228" x="765.05" y="532.5" width="66.73" height="26.8"/>
<rect class="cb" fill="#fa3c3c" x="831.77" y="532.5" width="66.73" height="26.8"/>
<text class="cl" text-anchor="middle" x="164.5" y="582">−0.6</text>
<text class="cl" text-anchor="middle" x="231.2" y="582">−0.3</text>
<text class="cl" text-anchor="middle" x="298.0" y="582">−0.15</text>
<text class="cl" text-anchor="middle" x="364.7" y="582">−0.1</text>
<text class="cl" text-anchor="middle" x="431.4" y="582">−0.05</text>
<text class="cl" text-anchor="middle" x="498.1" y="582">−0.02</text>
<text class="cl" text-anchor="middle" x="564.9" y="582">0.02</text>
<text class="cl" text-anchor="middle" x="631.6" y="582">0.05</text>
<text class="cl" text-anchor="middle" x="698.3" y="582">0.1</text>
<text class="cl" text-anchor="middle" x="765.0" y="582">0.15</text>
<text class="cl" text-anchor="middle" x="831.8" y="582">0.3</text>
<text class="cl" text-anchor="middle" x="898.5" y="582">0.6</text>
<text class="ti" y="638"><tspan x="274.0" textLength="38.0" lengthAdjust="spacingAndGlyphs">b)</tspan> <tspan x="340.0" textLength="70.0" lengthAdjust="spacingAndGlyphs">Reg</tspan> <tspan x="435.0" textLength="75.0" lengthAdjust="spacingAndGlyphs">AMO</tspan> <tspan x="541.0" textLength="66.0" lengthAdjust="spacingAndGlyphs">SST</tspan> <tspan x="632.4" textLength="157.4" lengthAdjust="spacingAndGlyphs">ATL_VAR</tspan></text>
<g clip-path="url(#cb)">
<path fill="#fbfb5a" d="M56.5,661.8 76.4,661.8 76.4,669.4 106.1,669.4 106.1,681.1 66.4,681.1 66.4,692.9 56.5,692.9Z"/>
<path fill="#fbfb5a" d="M106.1,661.8 125,661.8 125,669.4 106.1,669.4Z"/>
<path fill="#fbfb5a" d="M56.5,735.2 66.4,734 66.4,740 56.5,740Z"/>
<path fill="#fbfb5a" d="M215,775.8 235,775.8 235,787.2 245.5,787.2 245.5,822 255,822 255,834 275,834 275,808.5 307.5,804 307.5,856.5 216.2,856.5 220,844 230,837.8 242.5,834 247.5,831.5 240,826.5 230,821 220,817.8 210,814 205,809 205.5,799 215,799Z"/>
<path fill="#fbfb5a" d="M215.4,789.4 246.2,789.4 246.2,822.5 255,822.5 255,834.2 274.8,834.2 274.8,808.8 287.5,805 305,804.4 305,810.8 315,810.8 315,869.6 321.9,869.6 321.9,891.2 255,891.2 262.5,882.5 258.8,877.5 250,873.1 237.5,868.8 225,863.8 216.2,858.8 215.6,848.8 220,841.2 228.8,836.9 240,834.4 250,834.8 243.8,830 237.5,826.9 230,821.2 225,819.4 215,818.1 205.4,810.6 205.4,799 215.4,799Z"/>
<path fill="#fbfb5a" d="M299.4,804 304.6,804 304.6,810.9 314.6,810.9 314.6,855.2 299.4,855.2Z"/>
<path fill="#fbfb5a" d="M427.4,753.4 556.8,753.4 556.8,782.8 540.5,787.8 528,791.5 514.2,797.8 498,804 483,809 471.8,810.9 483,819 498,827.8 513,834 503,839 488,845.2 475.5,847.1 463,849.6 451.8,846.5 443,855.2 427.4,855.2Z"/>
<path fill="#fbfb5a" d="M56.5,844.8 76.2,844.8 76.2,857.2 86.2,857.2 86.2,914.8 80,913.5 72.5,906 67.5,891 63.8,876 56.5,868.5Z"/>
<path fill="#a0e632" d="M83.8,927.2 90,924 96.2,924.8 96.2,946 103.8,953.5 102.5,957.2 96.2,957.2 90,948.5 87.5,938.5Z"/>
<path fill="#a0e632" d="M69.5,963 75,961 79.5,963.5 74.5,965.5Z"/>
<path fill="#fbfb5a" d="M58,976 67.5,973.5 77.5,971 87.5,974.8 96.2,974.8 103.8,966 110,963.5 123.8,963.5 120,973.5 117.5,981 118.8,993.5 112.5,1001 103.8,1002.2 96.2,996 91.2,986 86.2,982.2 77.5,987.2 65,988.5 58,986Z"/>
<path fill="#fbfb5a" d="M131.2,973.5 136.2,968.5 146.2,969.8 152.5,974.8 146.2,978.5 136.2,979.8Z"/>
<path fill="#fbfb5a" d="M193.8,973.5 200,971 215,975.5 200,977.2Z"/>
<path fill="#fbfb5a" d="M185,921 187.5,923.5 187,938.5 185,936Z"/>
<path fill="#a0e632" d="M56.5,998 70,997.2 85,999.8 95,1006 112.5,1004.8 125,1002.2 131.2,1008.5 135,1021 133.8,1043.5 56.5,1043.5Z"/>
<path fill="#a0e632" d="M138,998.5 145,992.2 157.5,987.2 165,979.8 175,974.8 178.8,986 182.5,993.5 195,992.2 205,989.8 215,993.5 225,994.8 235,997.2 247.5,991 262.5,986 280,988.5 295,991 307.5,991 307.5,1043.5 175,1043.5 185,1033.5 180,1029.8 167.5,1024.8 152.5,1024.8 140,1024.8 138.8,1016Z"/>
<path fill="#fbfb5a" d="M215,844.8 307.5,844.8 307.5,899.8 290,901.5 265,903.5 253.8,893.5 262.5,887.2 267.5,878.5 260,871 247.5,867.2 232.5,863.5 220,858.5 215,853.5Z"/>
<path fill="#a0e632" d="M303.8,949.8 307.5,948.5 307.5,954.8Z"/>
<path fill="#fbfb5a" d="M544.8,661.5 553.5,661.5 561,669 571,679 586,686.5 603.5,691.5 621,697.8 633.5,702.8 644.8,710.2 649.8,719 647.2,729 643.5,736.5 634.8,746.5 626,756.5 613.5,764 596,770.2 576,776.5 558.5,781.5 544.8,784Z"/>
<path fill="#a0e632" d="M572.2,669.5 651,669.5 656,679 662.2,681.5 662.2,692.8 672.2,694 672.2,720.2 667.2,712.8 663.5,702.8 656,699 641,694 621,689 601,682.8 586,677.8 572.2,671Z"/>
<path fill="#a0e632" d="M607.2,776 623.5,767.8 641,757.8 658.5,749 671,748.5 676,754 684.8,766.5 692.2,779 699.8,786.5 693.5,790.2 681,784 658.5,784 633.5,782.8 618.5,780.2Z"/>
<path fill="#a0e632" d="M544.8,801.5 571,791 583,794.5 583.5,801 603.5,804.5 633.5,807.8 671,808.5 708.5,807 742.2,807 742.2,811 772.2,811 772.2,822 778.5,824 776,829 768.5,836.5 761,837.8 746,835.2 731,831.5 718.5,827.8 696,826.5 671,827 651,826.5 631,829 613.5,832.8 596,829 578.5,826.5 561,821.5 544.8,816.5Z"/>
<path fill="#a0e632" d="M544.8,852.8 561,846.5 578.5,840.2 596,835.2 613.5,833.5 628.5,834 636,840.2 646,846.5 671,849 696,847.8 721,845.2 741,844 748.5,846.5 753.5,851.5 758.5,856.5 544.8,856.5Z"/>
<path fill="#fbfb5a" d="M712.2,775.2 718.5,775.2 721,784 721,795.2 717.2,789 713.5,781.5Z"/>
<path fill="#fbfb5a" d="M761.5,764 792.2,764 792.2,775.2 771,774 761.5,775.2Z"/>
<path fill="#fbfb5a" d="M793,662.8 800.5,662.8 800.5,669 793,669Z"/>
<path fill="#fbfb5a" d="M829.2,662.8 836.8,662.8 835.5,666.5Z"/>
<path fill="#fbfb5a" d="M298.8,844.8 413.8,844.8 413.8,881 393.8,881 393.8,893 374.2,893 374.2,906 365,908.5 365,918.5 350,916 330,913.5 315,911 298.8,908.5Z"/>
<path fill="#fbfb5a" d="M453.8,869.8 465,869.8 475,878.5 481.2,886 481.2,896 472.5,898.5 465,889.8 460,893.5 462.5,906 470,916 465,926 463.8,916.5 453.8,916.5 453.8,906 443.8,906 443.8,893 423.8,893 423.8,881 453.8,881Z"/>
<path fill="#fbfb5a" d="M413.8,844.8 475,844.8 472.5,851 460,848.5 440,852.2 425,856 413.8,858.5Z"/>
<path fill="#fbfb5a" d="M460,864.8 470,872.2 480,880.5 490,886 505,891 520,893 540,892.2 557.5,890.5 557.5,953 550,949.8 535,944.8 520,941 510,936 505,927.2 515,918.5 518,908.5 512.5,902.2 500,897.2 485,896 475,899 481.2,894.8 481.2,886 475,878.5 465,869.8Z"/>
<path fill="#a0e632" d="M473.8,858.5 480,853.5 500,848.5 525,846 557.5,844.8 557.5,883.5 540,879.8 520,877.2 500,873.5 485,871 475,868.5Z"/>
<path fill="#a0e632" d="M303.8,949.8 315,946 327.5,943.5 331.2,936 337.5,934.8 347.5,942.2 353.8,953.5 348.8,961 353.8,968.5 366.2,974.8 362.5,978.5 347.5,976 332.5,971 320,963.5 310,958.5Z"/>
<path fill="#a0e632" d="M322.5,927.2 326.2,924.8 329.5,928 325.8,931Z"/>
<path fill="#a0e632" d="M463.8,956 468.8,946 472.5,938.5 480,943.5 486.2,948.5 496.2,953 485,957.2 472.5,959.8 463.8,971Z"/>
<path fill="#a0e632" d="M428.8,987.2 436.2,985.5 440,988 435,989.8Z"/>
<path fill="#a0e632" d="M451.2,976 457,976 453.8,982.2Z"/>
<path fill="#fbfb5a" d="M482,917.2 483.8,913.5 485.5,918 483.8,920.5Z"/>
<path fill="#fbfb5a" d="M472.5,976 474.5,974.8 474,982.2Z"/>
<path fill="#fbfb5a" d="M527,986 532.5,980.5 538.8,986 533.8,991.5Z"/>
<path fill="#a0e632" d="M551.2,976 557.5,968.5 557.5,996 547.5,993.5 548.8,983.5Z"/>
<path fill="#a0e632" d="M298.8,996 310,993.5 322.5,996 337.5,997.2 350,1002.2 362.5,1007.2 375,1006 382.5,997.2 387.5,999.8 400,1002.2 412.5,1001 425,1006 440,1008.5 455,1011 470,1012.2 485,1009.8 495,1011 500,1007.2 515,1001 530,997.2 545,996 557.5,993.5 557.5,1043.5 298.8,1043.5Z"/>
<path fill="#a0e632" d="M544.8,844.8 803.5,844.8 803.5,1043.5 544.8,1043.5Z"/>
<path fill="#fbfb5a" d="M901,846.1 901,858.1 920.9,858.1 920.9,878 929.7,870.5 942.1,869.3 952.1,870.5 959.6,883 972,884.2 984.5,892.9 993.2,896.7 993.2,890.4 987,883 989.5,875.5 996.9,869.3 1010.6,865.5 1010.6,846.1 979.5,846.1 979.5,841.9 881.1,841.9 881.1,846.1Z"/>
<path fill="#fbfb5a" d="M1004.4,917.3 1010.6,914.1 1010.6,919.1Z"/>
<path fill="#a0e632" d="M930.9,882.5 939.6,885.5 944.6,892.9 944.6,915.4 952.1,922.8 960.8,922.8 969.5,930.3 979.5,940.3 990.7,935.3 999.4,942.8 1004.4,955.2 1007.4,962.7 999.4,967.7 992,975.1 987,983.9 979.5,990.1 992,990.1 1010.6,997.6 1010.6,1034.9 999.4,1029.9 987,1028.7 977,1032.4 964.5,1033.7 952.1,1036.9 942.1,1028.7 933.4,1022.5 927.2,1015 917.2,1007.5 912.2,1017.5 902.2,1011.3 907.2,1002.5 914.7,995.1 912.2,985.1 907.2,978.9 892.3,982.6 883.6,978.9 879.8,972.6 877.3,965.2 880.3,962.7 880.3,956.5 887.3,952.7 896,944 899.8,940.3 907.2,946.5 917.2,947.7 927.2,942.8 923.4,932.8 917.2,922.8 913.5,916.6 917.2,907.9 923.4,896.7Z"/>
<path fill="#fbfb5a" d="M985.7,987.6 992,980.1 1001.9,975.1 1010.6,976.4 1010.6,990.1 994.4,991.3Z"/>
<path fill="#fbfb5a" d="M917.2,1044.9 929.7,1037.4 942.1,1032.4 947.1,1039.9 957.1,1038.7 974.5,1033.7 987,1029.9 999.4,1032.4 1010.6,1037.4 1010.6,1044.9Z"/>
<path fill="#a0e632" d="M842.4,988.1 859.9,988.1 866.1,995.1 872.3,1005 878.6,1008.8 887.3,1015 892.3,1022.5 894.8,1032.4 894.8,1044.9 840,1044.9 842.4,1032.4 851.2,1022.5 847.4,1012.5 843.7,1000.1Z"/>
<path fill="#a0e632" d="M860.4,976.4 864.4,976.4 862.4,987.6Z"/>
<path fill="#fbfb5a" d="M868.6,965.2 872.3,963.9 873.6,977.6 871.1,990.1 868.6,982.6Z"/>
<path fill="#fbfb5a" d="M892.3,998.8 899.8,996.3 902.2,1001.3 897.3,1002.5Z"/>
<path fill="#fbfb5a" d="M889.8,929.1 901,928.3 892.3,936.5Z"/>
<path fill="#fbfb5a" d="M909.2,939.8 912.2,939 912.2,941.5Z"/>
<path fill="#ffffff" d="M978.3,870.5 980.7,867.5 983.5,870.5 980.7,873.5Z"/>
<path fill="#ffffff" d="M426.5,753.4 446.8,753.4 435.5,759 426.5,762.8Z"/>
<path fill="#ffffff" d="M426.5,845.9 433,845.9 436.1,847.1 431.8,848.4 426.5,848.4Z"/>
<path fill="#ffffff" d="M543,881 561,883.5 581,887.2 601,893.5 621,901 641,908.5 661,914.8 681,921 701,928.5 716,934.8 724.8,939.8 724.8,953.5 718.5,957.2 706,959.8 686,960.5 666,963 651,971 646.5,976 656,988.5 668.5,999.8 667.2,1009.8 656,1013 643.5,1016 631,1007.2 618.5,998.5 606,992.2 596,988.5 583.5,981 571,973.5 561,971 552.2,968.5 547.2,976 543,982.2Z"/>
<path fill="#ffffff" d="M741,844.8 806,844.8 806,891 796,883.5 792.2,871 786,861 771,856 756,852.2Z"/>
<path fill="#ffffff" d="M772.2,952.2 781,949.8 786,953.5 781,958Z"/>
<path fill="#ffffff" d="M776,1043.5 786,1036 796,1032.2 806,1031 806,1043.5Z"/>
<path fill="#ffffff" d="M937.1,978.9 942.1,975.1 952.1,977.6 967,982.6 979.5,986.3 967,990.1 952.1,993.8 939.6,990.1Z"/>
<path fill="#ffffff" d="M914.7,1012.5 920.2,1007.5 926.7,1012.5 920.9,1017Z"/>
<path fill="#ffffff" d="M866.1,1022.5 872.3,1017.5 881.1,1015 886.8,1022 879.8,1027.5 869.9,1028.7Z"/>
<path fill="#a0e632" d="M532.8,810.9 540.5,805.2 548,799.6 556.8,796.5 556.8,822.1 548,819 540.5,815.2Z"/>
<path fill="#a0e632" d="M488,855.2 498,850.9 513,847.8 528,845.9 540.5,844.6 556.8,843.4 556.8,855.2Z"/>
<path fill="#fbfb5a" d="M543,892.2 556,893.5 576,897.2 596,902.2 616,908.5 636,914.8 656,921 676,928.5 691,936 703.5,941 693.5,946 681,949.8 661,951 646,952.2 638.5,958.5 628.5,966 616,971 608.5,976 616,984.8 621,988.5 613.5,991 601,989.8 593.5,982.2 583.5,976 591,968.5 599.8,963.5 583.5,961 568.5,956 556,951 543,946Z"/>
<path fill="#fbfb5a" d="M743.5,844.8 793.5,844.8 789.8,849 771,848.5 756,847.2Z"/>
<path fill="#fbfb5a" d="M629.8,997.8 634.8,996 642.2,997.8 635.5,1001Z"/>
<path fill="#e6dc32" d="M87.5,672.8 100,671.5 105,674 103.8,677.8 93.8,679 87.5,677.8Z"/>
<path fill="#e6dc32" d="M56.5,834.5 76.2,834.5 76.2,856.5 56.5,856.5Z"/>
<path fill="#e6dc32" d="M258.8,846.2 270,842.5 280,838.8 290,833.8 297.5,827.5 305,823.1 315,826.9 315,869.6 321.9,869.6 321.9,891.2 286.2,891.2 286.2,880 289.4,870 275,863.8 263.8,858.1 261.2,851.2Z"/>
<path fill="#e6dc32" d="M433.8,669.4 463.5,669.4 463.5,693 483.4,693 483.4,681.1 492.8,681.1 492.8,755.2 384.1,755.2 384.1,740.1 403.9,740.1 403.9,728.2 413.9,728.2 413.9,716.5 423.8,716.5 423.8,704.8 433.8,704.8Z"/>
<path fill="#e6dc32" d="M459.4,669.4 463.5,669.4 463.5,693 483.1,693 483.1,681.1 493.1,681.1 493.1,669.4 523.1,669.4 523.1,661.8 588.8,661.8 588.8,755.2 459.4,755.2Z"/>
<path fill="#e6dc32" d="M384.1,753.4 428.8,753.4 428.8,855.2 374.1,855.2 374.1,822.5 354.2,822.5 354.2,834.4 344.4,834.4 344.4,846.1 334.5,846.1 334.5,822.5 354.2,822.5 354.2,799 344.4,799 344.4,787.2 374.1,787.2 374.1,775.4 384.1,775.4Z"/>
<path fill="#e6dc32" d="M299.4,826.5 304.6,822.8 314.6,827.8 314.6,855.2 299.4,855.2Z"/>
<path fill="#e6dc32" d="M427.4,776.5 434.2,774 446.8,770.2 459.2,767.1 469.2,763.4 480.5,754 481.8,753.4 556.8,753.4 556.8,778.4 548,781.5 535.5,784.6 523,786.5 513,789.6 503,793.4 490.5,797.8 478,801.5 465.5,804.6 453,808.4 440.5,810.2 431.8,810.2 440.5,815.2 453,824 464.2,830.2 469.2,834 463,836.5 450.5,837.8 440.5,839 427.4,839Z"/>
<path fill="#00d28c" d="M503,855.2 513,853.4 528,852.1 556.8,851.5 556.8,855.2Z"/>
<path fill="#e6dc32" d="M56.5,844.8 76.2,844.8 76.2,857.2 86.2,857.2 86.2,906 80,902.2 75,888.5 71.2,873.5 65,867.2 56.5,864.8Z"/>
<path fill="#00d28c" d="M93.8,936 96.2,934.8 96.2,952.2 93.8,946Z"/>
<path fill="#e6dc32" d="M72.5,976 76.2,973.5 80.5,976.5 76.2,979.8Z"/>
<path fill="#e6dc32" d="M96.2,987.2 105,974.8 115,987.2 106.2,999Z"/>
<path fill="#e6dc32" d="M111.2,964.8 118.8,964.8 115.5,969Z"/>
<path fill="#00d28c" d="M56.5,1009.8 72.5,1012.2 87.5,1016 103.8,1014.8 125,1011 130,1018.5 131.2,1031 128.8,1043.5 115,1043.5 100,1036 87.5,1029.8 75,1029.8 56.5,1033.5Z"/>
<path fill="#00d28c" d="M210,1043.5 225,1033.5 245,1032.2 257.5,1026 275,1023.5 290,1021 297.5,1011 307.5,1006 307.5,1043.5Z"/>
<path fill="#00d28c" d="M265,999.8 276.2,999 275,1009.8Z"/>
<path fill="#e6dc32" d="M255,844.8 307.5,844.8 307.5,886 295,883.5 287.5,871 275,861 262.5,856Z"/>
<path fill="#e6dc32" d="M544.8,661.5 552.2,661.5 559.8,669 569.8,680.2 584.8,687.8 602.2,693.5 618.5,700.2 629.8,706.5 636,715.2 638,726.5 634.8,737.8 627.2,750.2 616,759 601,765.2 583.5,771 566,776.5 551,780.2 544.8,781Z"/>
<path fill="#00d28c" d="M596,672 603.5,669.5 648.5,669.5 653.5,677.8 656,681.5 641,681.5 621,679 606,677Z"/>
<path fill="#00d28c" d="M718.5,819 726,815.2 741,814 753.5,811 763.5,816.5 771,820.2 772.2,826.5 766,834 753.5,832.8 738.5,829 726,826.5Z"/>
<path fill="#00d28c" d="M544.8,851.5 596,850.2 646,851.5 696,852.8 726,854 726,856.5 544.8,856.5Z"/>
<path fill="#e6dc32" d="M298.8,844.8 413.8,844.8 413.8,881 393.8,881 393.8,886 380,888.5 374.2,893 370,896 350,893.5 330,889.8 315,887.2 298.8,883.5Z"/>
<path fill="#e6dc32" d="M322.5,886 365,886 374.2,893 374.2,904.8 357.5,902.2 337.5,899.8 325,893.5Z"/>
<path fill="#e6dc32" d="M423.8,881 450,881 455,896 460,908.5 457.5,916.5 453.8,916.5 453.8,906 443.8,906 443.8,893 423.8,893Z"/>
<path fill="#00d28c" d="M486.2,859.8 500,854.8 525,852.2 557.5,849.8 557.5,873.5 540,874.8 520,871 500,867.2 490,864.8Z"/>
<path fill="#00d28c" d="M298.8,1009.8 315,1006 330,1007.2 350,1011 370,1012.2 387.5,1018.5 405,1012.2 420,1007.2 435,1012.2 450,1021 460,1019.8 475,1016 490,1014.8 505,1012.2 525,1009.8 545,1008.5 557.5,1006 557.5,1043.5 298.8,1043.5Z"/>
<path fill="#e6dc32" d="M551,917.2 571,915.5 596,915.5 616,918.5 638.5,923.5 661,928.5 653.5,937.2 646,941 631,940.5 611,937.2 593.5,932.2 583.5,923.5 566,919.8Z"/>
<path fill="#00d28c" d="M544.8,851 571,849.8 608.5,849.8 646,852.2 671,853.5 696,852.2 721,853.5 746,858.5 753.5,864.8 771,867.2 774.8,878.5 786,883.5 796,892.2 803.5,896 803.5,913.5 796,918.5 792.2,924.8 781,928.5 771,926 761,922.2 751,926 743.5,933.5 731,929.8 716,926 701,921 686,914.8 666,907.2 646,899.8 626,892.2 606,886 586,881 566,878 544.8,876Z"/>
<path fill="#00d28c" d="M669.8,976 676,972.2 696,972.2 716,968.5 731,963.5 743.5,961 761,964.8 773.5,971 781,978.5 784.8,987.2 778.5,994.8 763.5,996 746,999.8 731,996 716,992.2 698.5,991 681,989.8 673.5,983.5Z"/>
<path fill="#00d28c" d="M549.8,986 556,982.2 568.5,981 583.5,986 596,993.5 608.5,998.5 618.5,1006 623.5,1012.2 624,1021 633.5,1026 651,1032.2 663.5,1034.8 666,1043.5 544.8,1043.5 544.8,1011 563.5,1012.2 562.2,999 552.2,996Z"/>
<path fill="#e6dc32" d="M901,841.9 979.5,841.9 979.5,846.1 1010.6,846.1 1010.6,858.6 996.9,861 987,853.6 979.5,856.1 972,866 964.5,868 954.6,863 942.1,856.1 929.7,853.6 917.2,856.8 901,858.1Z"/>
<path fill="#00d28c" d="M927.2,929.1 930.9,924.1 939.6,929.1 949.6,936.5 959.6,942.8 969.5,954 979.5,951.5 988.2,955.2 992,963.9 982,972.6 967,973.9 952.1,971.4 939.6,970.2 929.7,975.1 929.7,982.6 934.6,992.6 934.1,1000.1 925.9,1002.5 917.2,997.6 916,987.6 912.2,978.9 902.2,976.4 889.8,978.9 882.3,972.6 881.1,965.2 884.8,960.2 899.8,952.7 917.2,950.2 927.2,947.7 934.6,940.3Z"/>
<path fill="#00d28c" d="M933.4,1021.2 942.1,1007.5 952.1,1003.8 967,1002.5 982,1005 996.9,1002.5 1010.6,1006.3 1010.6,1034.9 999.4,1029.9 987,1027.5 974.5,1031.2 962.1,1032.4 952.1,1036.2 943.4,1028.7Z"/>
<path fill="#e6dc32" d="M929.7,1044.9 942.1,1034.9 947.1,1044.9Z"/>
<path fill="#e6dc32" d="M974.5,1044.9 987,1033.7 999.4,1037.4 1006.9,1044.9Z"/>
<path fill="#00d28c" d="M847.4,988.8 859.4,988.8 866.1,997.6 872.3,1007.5 862.4,1017.5 854.9,1005Z"/>
<path fill="#00d28c" d="M842.4,1034.9 849.9,1026.2 859.9,1028.7 869.9,1033.7 889.8,1032.4 891,1036.2 872.3,1037.4 854.9,1039.9 842.4,1041.2Z"/>
<path fill="#00d28c" d="M860.4,976.4 862.4,976.4 861.9,985.1Z"/>
<path fill="#fbfb5a" d="M433.8,740.2 434,729 439,724 444,722.1 451.5,724 462.8,727.8 466.5,721.5 470.2,712.8 474,709 484,707.8 492.8,712.8 492.8,755.2 414,755.2 414,751.5 424,750.9 431.5,746.5Z"/>
<path fill="#fbfb5a" d="M393.4,755.2 395.2,749 401.5,745.9 413.9,744 413.9,755.2Z"/>
<path fill="#fbfb5a" d="M493.1,669.4 523.1,669.4 523.1,661.8 555,661.8 563.8,674 572.5,682.8 588.8,690.9 588.8,692.8 580,690.2 570,685.2 560,680.9 550,676.5 540,674 530,672.8 522.5,672.8 515,674.6 503.8,673.4 497.5,675.2 493.1,678.4Z"/>
<path fill="#fbfb5a" d="M483.1,681.1 493.1,681.1 493.1,678.4 490,681.5 485,686.8 483.1,693Z"/>
<path fill="#fbfb5a" d="M516.9,740.2 517.5,731.5 521.2,727.8 527.5,724.6 535,722.1 541.2,722.1 545,727.1 541.2,731.5 535,735.2 527.5,739 522.5,740.5Z"/>
<path fill="#fbfb5a" d="M459.4,724 465,722.1 468.8,716.5 472.5,712.8 476.2,710.2 483.8,709 490,712.8 493.1,716.5 491.2,724 490,729 492.5,734 497.5,737.8 510,740.2 501.2,741.5 493.8,744.6 487.5,749 482.5,755.2 459.4,755.2Z"/>
<path fill="#fbfb5a" d="M344.4,787.2 358.8,787.2 352.5,794 344.4,799Z"/>
<path fill="#fbfb5a" d="M395,753.4 428.8,753.4 428.8,777.8 420,779 410,780.9 402.5,781.5 395,779.6 391.9,774.6 392.5,766.5 395,759Z"/>
<path fill="#fbfb5a" d="M390,787.8 395,780.9 403.8,782.1 400,786.5 394.4,791.5Z"/>
<path fill="#fbfb5a" d="M401.9,849 406.2,844 412.5,840.9 420,840.2 428.8,839 428.8,855.2 403.8,855.2Z"/>
<path fill="#ffffff" d="M436.2,736.5 440.2,729.6 444.6,727.1 451.5,729.6 464.6,734 468.4,725.9 471.8,717.1 475,713.8 483.8,712.5 489.4,716.8 487.1,722.5 480.9,727.1 474,732.1 467.1,739.6 457.8,747.1 450.2,755.2 422.8,755.2 429,750.2 434,744Z"/>
<path fill="#ffffff" d="M555,661.8 588.8,661.8 588.8,690.2 577.5,685.5 572.5,682.5 568.8,678.8 563.8,673.8 558.8,667.5Z"/>
<path fill="#ffffff" d="M458.5,732.8 465,734 468.8,724 472.5,716.5 476.2,713.4 483.1,712.1 488.1,715.2 489.4,717.8 485,724 478.8,729 472.5,734 467.5,740.2 462.5,745.2 458.5,746.5Z"/>
<path fill="#ffffff" d="M406.9,763.4 412.5,760.2 420,759 428.8,757.8 428.8,764.6 420,765.9 413.8,766.5Z"/>
<path fill="#ffffff" d="M420,847.1 425,845.2 428.8,845.9 428.8,849 423.8,849.6Z"/>
<path fill="#a0e632" d="M477.8,716.5 483.4,714.6 486.5,717.1 483.4,721.5Z"/>
<path fill="#a0e632" d="M566.2,661.8 573.1,661.8 573.1,667.8Z"/>
<path fill="#a0e632" d="M573.1,669.4 588.8,669.4 588.8,680.9 583.1,677.8 578.8,674 575,670.9Z"/>
<path fill="#a0e632" d="M477.5,716.5 483.1,714.6 486.2,717.1 483.1,721.5Z"/>
<path fill="#fbfb5a" d="M563.5,998.5 573.5,997.2 573,1002.2Z"/>
<path fill="#a0e632" d="M609.8,1021 618.5,1019.8 621,1023.5 612.2,1024Z"/>
<path fill="#e6af2d" d="M56.5,661.8 74.4,661.8 74.4,666.5 76.4,669.4 76.4,679 66.4,679.6 66.4,689.6 56.5,690.9Z"/>
<path fill="#e6af2d" d="M106.9,661.8 121.2,661.8 120,666.5 115,669.4 106.9,669.4Z"/>
<path fill="#e6af2d" d="M66.4,716.5 106.1,716.5 106.1,728.2 126,728.2 126,740 135.9,740 135.9,751.9 96.2,751.9 96.2,740 86.2,740 86.2,728.2 66.4,728.2Z"/>
<path fill="#e6af2d" d="M56.5,728.2 66.4,728.2 66.4,734 56.5,735.2Z"/>
<path fill="#e6af2d" d="M311.2,858.1 313.8,855 315,856.2 315,861.2Z"/>
<path fill="#e6af2d" d="M433.8,669.4 463.5,669.4 463.5,676.5 454,677.8 446.5,680.2 442.1,684.6 438.4,691.5 435.9,697.8 433.8,699Z"/>
<path fill="#e6af2d" d="M449.6,693.4 454.6,688.4 460.2,693 454,697.5Z"/>
<path fill="#e6af2d" d="M480.9,704.6 483.4,702.1 485.9,704.6 483.4,705.5Z"/>
<path fill="#e6af2d" d="M413.9,716.5 423.8,716.5 423.8,719 419,724 415.2,727.8 413.9,728.2Z"/>
<path fill="#e6af2d" d="M498.8,706.5 501.2,699 507.5,692.8 513.8,690.2 525,690.2 535,688.4 545,688.4 552.5,689.6 560,692.8 563.8,699 569.4,704.6 562.5,709 552.5,710.2 545,712.8 537.5,715.2 530,719 522.5,721.5 515,723.4 508.8,722.8 503.1,719 500,712.8Z"/>
<path fill="#e6af2d" d="M588.8,716.5 580,719 572.5,724 565,731.5 557.5,739 547.5,746.5 540,751.5 535,755.2 588.8,755.2Z"/>
<path fill="#e6af2d" d="M459.4,675.2 463.5,674.6 463.5,678.4 459.4,679Z"/>
<path fill="#e6af2d" d="M480.6,704 483.1,702.1 485.6,704 483.1,705.5Z"/>
<path fill="#e6af2d" d="M518,764 526.8,759 531.8,754 556.8,753.4 556.8,770.2 543,770.9 533,770.2 523,769.6Z"/>
<path fill="#e6af2d" d="M82,878.5 86.2,876 86.2,897.2 83,893.5Z"/>
<path fill="#00a0ff" d="M250,1043.5 262.5,1038.5 280,1036.5 307.5,1036 307.5,1043.5Z"/>
<path fill="#e6af2d" d="M544.8,687.8 553.5,689 563.5,694 569.8,704 561,709 551,711.5 544.8,710.2Z"/>
<path fill="#e6af2d" d="M547.2,764 548.5,752.8 556,740.2 566,729 576,720.2 591,716.5 608.5,719.5 621,726 624,734 618.5,744 608.5,752 596,757.8 583.5,762 566,765.2 551,766Z"/>
<path fill="#00a0ff" d="M298.8,1037.2 325,1036.5 350,1037.2 375,1038.5 400,1038 420,1037.2 435,1034.8 443.8,1029.8 455,1034.8 475,1032.2 490,1036.5 512.5,1036 557.5,1034.8 557.5,1043.5 298.8,1043.5Z"/>
<path fill="#00a0ff" d="M576,868.5 583.5,862.2 606,866 622.2,869 603.5,871 586,870.5Z"/>
<path fill="#00a0ff" d="M544.8,1043.5 561,1033.5 573.5,1023.5 583.5,1017.2 596,1028.5 611,1033.5 628.5,1038 651,1039.8 656,1043.5Z"/>
<path fill="#e6af2d" d="M881.1,841.9 912.2,841.9 907.2,846.8 901,849.3 901,846.1 881.1,846.1Z"/>
<path fill="#00a0ff" d="M960.8,1022.5 969.5,1020.5 982,1022 970.8,1025Z"/>
<path fill="#f08228" d="M58.8,669.6 67.5,668.4 66.2,674.6Z"/>
<path fill="#f08228" d="M106.1,661.8 110,661.8 108.8,666.5 106.1,667.8Z"/>
<path fill="#f08228" d="M70,716.5 86.2,716.5 91.2,728.2 86.2,728.2 68.8,728.2Z"/>
<path fill="#f08228" d="M105,729 126,729 126,740 132.5,740 128.8,747.8 120,746.5 110,741.5 97.5,741.5 100,735.2Z"/>
<path fill="#f08228" d="M433.8,669.4 463.5,669.4 463.5,674.6 454,675.9 445.2,678.4 440.2,682.8 436.5,690.2 433.8,695.2Z"/>
<path fill="#f08228" d="M413.9,716.5 422.8,716.5 419,721.5 413.9,725.9Z"/>
<path fill="#f08228" d="M511,704 515,702.1 523.1,700.2 533.1,704.6 527.5,709 522.5,714 516.2,717.1 511.2,717.1Z"/>
<path fill="#f08228" d="M588.8,729 580,731.5 572.5,736.5 565,741.5 557.5,746.5 550,752.8 548.1,755.2 588.8,755.2Z"/>
<path fill="#f08228" d="M459.4,669.4 463.5,669.4 463.5,674.6 459.4,675.2Z"/>
<path fill="#f08228" d="M548.6,753.4 556.8,753.4 556.8,764.6 550.5,764Z"/>
<path fill="#1e3cff" d="M265,1043.5 275,1039 307.5,1038 307.5,1043.5Z"/>
<path fill="#f08228" d="M549,761.5 549.8,752.8 558.5,742.8 568.5,734 581,729 596,729 604.8,733.5 608,739 601,746.5 591,752.8 578.5,757.8 563.5,762 551,763.5Z"/>
<path fill="#1e3cff" d="M298.8,1039.8 350,1039.8 400,1040.5 430,1039 443.8,1034.8 460,1038.5 490,1039.8 557.5,1038.5 557.5,1043.5 298.8,1043.5Z"/>
<path fill="#1e3cff" d="M603.5,1043.5 621,1040.5 646,1042.2 651,1043.5Z"/>
<path fill="#fbfb5a" d="M91.2,716.5 106.1,716.5 106.1,724 100,721.5Z"/>
<path fill="#e6dc32" d="M97.5,751.9 110,751.9 106.2,749.6Z"/>
<path fill="#8200dc" d="M425,1043.5 440,1039.8 450,1038 470,1041 490,1042.2 490,1043.5Z"/>
<path fill="#ffffff" d="M315,844.8 375,844.8 375,869.8 315,869.8Z"/>
<path fill="#ffffff" d="M766.8,844.8 798,844.8 793,856 783,861 766.8,861Z"/>
<path fill="#fbfb5a" d="M830.5,661.5 830.5,666.5 840,667 850,669.5 850,681.5 851.2,690.2 855,691.5 850,695.2 845,694 832.5,694 830.5,697 830.5,728.2 820.8,728.2 820.8,784 781.2,784 781.2,799 791,799 791,810.8 830.8,810.8 830.8,822.5 860.5,822.5 860.5,834.2 880.5,834.2 880.5,856.5 1009.5,856.5 1009.5,834.2 969.8,834.2 969.8,763.8 979.8,763.8 979.8,740 989.8,740 989.8,714 999.5,714 999.5,704.8 1009.5,704.8 1009.5,661.5Z"/>
<path fill="#e6dc32" d="M835.5,661.5 836.8,666 843,667.8 851.8,670.5 852.5,681.5 854.2,689.5 856.8,691.5 851.8,696 845,694.8 833.5,694.8 832,697.8 832,728.2 825,730.2 825,784 781.2,784 781.2,799 791,799 791,810.8 830.8,810.8 830.8,822.5 860.5,822.5 860.5,834.2 880.5,834.2 880.5,856.5 1009.5,856.5 1009.5,834.2 968,834.2 965.5,804 965.5,774 969.8,763.8 979.8,763.8 979.8,740 989.8,740 989.8,714 999.5,714 999.5,704.8 1009.5,704.8 1009.5,661.5Z"/>
<path fill="#e6af2d" d="M851.8,661.5 855,671.5 861.2,679 866.2,686.5 867.5,695.2 860,696.5 855,692.8 850,696.5 845,695.2 840,696.5 837.5,704 835,707.8 832.5,711.5 831,714 831,728.2 829.2,734 829.2,771.5 828,784 821.8,794 821.8,810.8 830.8,810.8 830.8,822.5 860.5,822.5 860.5,834.2 880.5,834.2 880.5,844 893,846.5 908,842.8 923,839 938,835.2 950.5,839 961.8,834.2 961.8,794 959.2,779 965.5,766.5 969.8,763.8 979.8,763.8 979.8,740 989.8,740 989.8,714 999.5,714 999.5,704.8 999.5,700.2 1004.2,691.5 1004.2,661.5Z"/>
<path fill="#f08228" d="M855,661.5 857.5,670.2 865,679 870,686.5 871.8,695.2 871.8,706.5 870.5,717.8 866.2,712.8 861.2,707.8 853.8,706.5 847.5,709 841.2,714 840,720.2 842.5,726.5 847.5,731.5 855,735.2 867.5,740.2 878.8,745.2 893,741.5 910.5,737.8 920.5,744 930.5,756.5 940.5,761.5 953,759 968,754 979.8,749 979.8,740 981.8,736.5 980.5,719 985.5,707.8 988,704 980.5,701.5 970.5,694 965.5,682.8 973,676.5 985.5,672.8 990.5,666.5 988,661.5Z"/>
<path fill="#fa3c3c" d="M884.2,691.5 890.5,686.5 900.5,683.5 904.2,691.5 903,702.8 898,709 890.5,712.8 885,704Z"/>
<path fill="#fa3c3c" d="M909.2,661.5 918,661.5 911.8,666Z"/>
<path fill="#f08228" d="M940.5,770.2 948,781.5 953,794 953.5,801.5 946.8,810.2 940.5,816.5 933,824 923,828.5 908,826.5 893,826.5 878,822 863,821 870.5,815.2 880.5,811 888,806 900.5,803.5 910.5,798.5 920.5,791 930.5,781.5Z"/>
<path fill="#e6dc32" d="M829.2,771.5 840.5,774 853,774 868,771 880.5,766.5 893,764 896.8,774 890.5,781.5 880.5,785.2 868,784 858,786.5 848,790.2 835.5,791 828,789 828,784Z"/>
<path fill="#fbfb5a" d="M980.5,834.2 1009.5,834.2 1009.5,856.5 993,856.5 988,844Z"/>
<path fill="#e6dc32" d="M991,665.8 996,665.2 1002.2,667.8 1006,676.5 1009.5,679 1009.5,705.2 1006.5,704 1004.8,696.5 996,692.8 989.8,689 987.8,679Z"/>
<path fill="#fbfb5a" d="M999.2,679 1004.2,680.2 1008,686.5 1008,695.2 1000.5,691.5Z"/>
<path fill="#a0e632" d="M766.8,864 783,867.2 791,872.2 791,881 801,893.5 801,904.8 811,904.8 811,917.2 821,917.2 821,941 811,941 811,1018.5 793,1026 778,1028.5 766.8,1029.8Z"/>
<path fill="#fbfb5a" d="M761.4,763.6 795.8,763.6 795.8,774 761.4,775.2Z"/>
<path fill="#fbfb5a" d="M781.1,783.4 789.5,781.5 802,784 810.8,786.5 817,785.2 820.9,775.2 823.9,744 829.5,744 829.5,789 822,791.5 822,811.5 801,811.5 801,822.5 791.1,822.5 791.1,799 781.1,799Z"/>
<path fill="#e6dc32" d="M825.8,744 880.8,744 880.8,787.8 869.5,784 860.8,786.5 852,788.4 842,787.8 833.2,789 824.5,792.8 822,799 822,811.5 801,811.5 801,822.5 794.5,822.5 793.2,811.5 791.1,799 793.2,797.8 802,795.2 812,794 822,791.5 827,786.5 825.8,769Z"/>
<path fill="#e6af2d" d="M829.5,744 880.8,744 880.8,767.8 872,771.5 862,772.5 852,772.8 842,773 834.5,769 830.1,762.8Z"/>
<path fill="#f08228" d="M870.8,744 880.8,744 880.8,745.9 874.5,745.2Z"/>
<path fill="#e6af2d" d="M880.8,787.1 869.5,784 860.8,786.5 852,788.4 842,787.8 833.2,789 824.5,792.8 822,799 821.4,811.5 830.8,811.5 830.8,822.5 848.2,822.5 860.6,822.5 860.6,834.2 880.8,834.2Z"/>
<path fill="#f08228" d="M880.8,810.9 872.6,814 862.6,822.1 872,824 880.8,825.2Z"/>
<path fill="#a0e632" d="M810.1,745.9 816.4,752.8 813.2,762.8 810.8,774 808.9,756.5Z"/>
<path fill="#a0e632" d="M751.4,810.9 771.4,810.9 771.4,822.5 781.4,822.5 780.1,826.5 775.8,831.5 769.5,836.5 762,839 751.4,839Z"/>
<path fill="#00d28c" d="M751.4,811.5 764.5,811.5 771.4,814 771.4,820.2 769.5,825.2 765.8,831.5 762,834.6 751.4,834Z"/>
<path fill="#fbfb5a" d="M747.5,846.2 765,842.5 780,835 790,827.5 793.2,821.5 801,822.5 801,855.9 792.5,855.5 780,853.8 765,850Z"/>
<path fill="#e6dc32" d="M777,848.4 784.5,836.5 792,829 797,826.5 801,831.5 801,855.2 793.2,854 784.5,851.8Z"/>
<path fill="#e6af2d" d="M796,850.2 797,834 801,831.5 801,851.5Z"/>
<path fill="#00d28c" d="M765,868.5 773,878.5 783,886 793,893.5 801,898.5 801,904.8 811,904.8 811,917.2 821,917.2 821,941 811,941 805.5,933.5 798,926 790.5,923.5 780.5,929.8 765,928.5Z"/>
<path fill="#ffffff" d="M771.8,953.5 779.2,949.8 786,953.5 780.5,958.5Z"/>
<path fill="#00d28c" d="M765,968.5 775.5,973.5 783,983.5 780.5,993.5 765,997.2Z"/>
<path fill="#ffffff" d="M766.8,1030.5 778,1029 793,1026.5 811,1019 811,1043.5 766.8,1043.5Z"/>
<path fill="#a0e632" d="M766.8,1031.5 775.5,1032.8 775.5,1043.5 766.8,1043.5Z"/>
<g class="grid"><line x1="56.5" y1="693.2" x2="1009.4" y2="693.2"/><line x1="56.5" y1="725.0" x2="1009.4" y2="725.0"/><line x1="56.5" y1="756.7" x2="1009.4" y2="756.7"/><line x1="56.5" y1="788.5" x2="1009.4" y2="788.5"/><line x1="56.5" y1="820.2" x2="1009.4" y2="820.2"/><line x1="56.5" y1="852.0" x2="1009.4" y2="852.0"/><line x1="56.5" y1="883.7" x2="1009.4" y2="883.7"/><line x1="56.5" y1="915.4" x2="1009.4" y2="915.4"/><line x1="56.5" y1="947.2" x2="1009.4" y2="947.2"/><line x1="56.5" y1="978.9" x2="1009.4" y2="978.9"/><line x1="56.5" y1="1010.7" x2="1009.4" y2="1010.7"/><line x1="215.3" y1="661.5" x2="215.3" y2="1042.4"/><line x1="374.1" y1="661.5" x2="374.1" y2="1042.4"/><line x1="533.0" y1="661.5" x2="533.0" y2="1042.4"/><line x1="691.8" y1="661.5" x2="691.8" y2="1042.4"/><line x1="850.6" y1="661.5" x2="850.6" y2="1042.4"/></g>
<path class="ln"  d="M56.6,684 58.9,683.7 60.7,685.2 60.2,687.2 58.2,688.4 59.7,690.1 58.5,692.6 56.6,693.6 M56.6,694.1 59.2,692.6 61.4,690.6 64.2,689 66.7,686.9 69.5,685.4 72.6,683.7 75.7,682.7 78.4,681.4 79.7,678.4 78.2,675.2 78.7,672.2 81.4,670.2 84.2,669 84.9,671.2 83.9,674.3 84.7,676.8 83.2,678.7 85.4,680.2 89.4,680.6 92.5,680.7 96.2,679.9 100,678.7 103.1,678.2 106.8,678.2 109.6,676.9 110.6,674.3 112.4,672.5 113.3,670 115.6,668.5 114.9,666.2 116.8,664.7 119.9,663.7 123.7,662.7 126.2,662.7 129.3,662 133.3,661.9 136.7,661.5 M84.7,675 87.5,674.3 89.4,676.2 87.5,678.4 85.4,678.1 84.7,675 M69.7,661.5 70.7,663.5 72.2,665.7 75.4,667 78.2,666.1 80.9,665 84.2,664 85.4,661.5 M84.7,664 86.4,666.2 87.9,669.3 89.4,672.5 90.9,675.9 93.8,675.7 95,673.7 98.7,672.2 100.4,668.7 102.1,665.7 105.8,662.7 106.8,661.5 M104.3,668.5 105.8,668.1 106.3,669.7 104.8,670.7 104.1,669.7 104.3,668.5 M116.2,666.2 119.3,666 120.8,668.1 119.3,670 116.8,669.3 116.2,666.2 M56.6,723 59.5,721 61.1,718.7 63.2,716.3 65.9,715.6 68.2,713.8 71.1,713.1 73.8,712.3 77.6,711.3 80,711.1 82.5,713.6 85,717.6 87.5,719.7 89.4,722 91.2,724.4 94.4,726.3 97.9,728.3 100.9,729 100,731.6 98.7,729.1 101.2,726.6 102.5,724.8 104.3,725.8 105.3,724.2 101.9,722 99.6,720 96.9,717.9 94.5,715.6 91.9,713.8 88.9,710.5 88.4,708.1 90.6,706.8 93.1,707.1 95.1,708.6 94.4,711.7 98.4,714.6 101.5,715.6 104.3,718.3 107.5,721.7 108.3,725.4 110.6,728.5 111.9,731.3 113.1,733.5 114.3,736.2 116.8,735.4 115.8,731.6 118,732 120.3,732.5 118,728.3 116.6,725 117.4,722.9 121.2,722 125.5,722 129.9,721 131.8,722.5 128,723 126.1,725.4 126.5,728.5 127,731.4 128.3,733.5 131.8,735 134.4,735.4 136.7,737 141.7,736.6 146.7,736.2 149.1,735.6 151.7,734.7 152,738.2 151.4,741 150.4,743.9 149.8,747.2 149,750 148.2,752.4 M79.7,716.1 81.4,715.8 81.7,718.5 80.2,720 79.2,718.5 79.7,716.1 M79.2,722.3 81.9,721.7 82.7,724.8 81.7,727.9 79.2,727.5 78.7,724.8 79.2,722.3 M89.1,731.6 93.1,731.3 97.1,731 95.6,733.5 93.8,735 89.4,732.5 89.1,731.6 M62.6,726 65.1,725.8 65.1,727 62.6,727.3 62.6,726 M118,739.1 121.8,740 126.1,741 126.1,742 121.8,741.2 118,740 118,739.1 M141.7,741.6 144.8,740.3 147.7,739.7 145.5,742.2 143,743.2 141.7,741.6 M56.6,737 59.8,736.6 63.2,735.4 67.1,735.2 70.7,736 74,734.9 76.9,735.4 79.7,735.5 83.2,734.7 85.2,736.6 84.9,740 83.2,743 86.3,746 90.6,746.7 94.4,749.7 98.4,752.4 M129.9,721 129.5,716.7 131.8,712.3 132.7,710.1 134.2,707.6 138,704.2 141.7,704.8 144.8,708.1 148.9,707.6 150.7,705.5 153.1,703.4 155.4,702.6 158.2,702.3 160.7,701.7 157.9,703.8 155.7,707.1 151.7,708.6 148,708.1 151.7,709.8 154.7,711.1 157.9,712.3 160.9,714.1 164.1,715.1 166.9,717.9 164.8,721 161.5,721 158.5,721.8 155.3,720.3 151.7,719.8 148.5,720 144.8,719 142.2,719.6 139.2,721 136.3,721.3 133.6,722 129.9,721 M81.9,744.1 85.7,746.6 90.6,747.8 95.6,749.1 98.1,752.2 101.1,753.3 103.1,754.7 106.8,755.9 108.7,754 109.3,749.7 113.1,748.2 116.8,749.1 119.3,751.2 121.8,751.6 126.8,752.8 130.1,754 133,754 138,752.8 141.7,753.4 145.5,753.2 148,751.6 149.8,747.2 151.1,743.5 M141.7,757.2 143.5,759.1 144.2,762.1 145.9,764.8 146.7,767.1 148,770.1 149.2,772.7 151.1,774.9 151.7,777.7 152.7,780.8 154.8,783.3 154.4,786.8 155.4,789.5 156.7,791.6 157.9,794.5 158.6,796.9 160.4,799.5 161.7,803.2 164.3,804.7 165.4,807 167.1,809.5 169.1,810.7 171,812 173.7,812.1 176.6,810.7 179.6,810.1 M141.7,757.2 143.3,760.5 144.8,763.4 146.9,761.2 148,759 147.3,763.4 150,766.3 151.7,769 153.6,772 155.4,774.6 157.2,777.6 159.2,779.6 159.8,784.6 161.6,786.8 162.9,789.5 164.5,792.6 166.6,795.2 169.1,799.5 169,802.6 169.8,805.7 169.5,808.5 171,811.7 169.8,815.1 171.6,818.2 174.7,819.7 179.6,818.2 M90.6,807.6 92.5,806.7 94.4,808.9 96.9,810.1 95.6,812.2 93.8,813 92.1,810.1 90.6,807.6 M56.6,834.4 60.7,832.1 65.7,831.3 68.8,833.1 70.1,836.9 72.6,838.7 76.9,838.1 80,839.4 81.9,843.1 M179.6,806.4 183.3,808.2 186.4,806.2 189.6,804.5 192.8,803 195.8,801.4 199.5,799.4 202,797 204.9,795.2 207,793.3 210.1,789.5 212.6,785.8 214.5,781.4 212.6,779.6 210.5,777.6 208.3,775.8 205.8,772.1 205.1,769 203.9,770.9 201.4,773.4 198.3,775.8 193.3,775.8 192.1,772.1 190.8,769.6 188.3,770.2 187.1,767.1 184.6,762.8 182.7,759 184,756.5 186.5,755.3 188.9,756.5 190.8,760.3 192.7,763.4 195.8,765.3 200.2,767.1 203.9,766.5 206.4,766.5 207.6,769.9 212,771.5 216.1,772.4 219.5,772.1 223.3,772.2 226.9,772.1 231.9,771.5 234.4,774 236.3,777.1 238.8,779.8 240.8,782.1 241.3,784.6 244.4,786.4 246.9,784.6 247.5,781.8 248.5,783.9 248.7,788.3 249.2,791.4 250.6,794.1 250.6,797 251.2,799.3 252.5,802.2 253.1,804.5 253.5,807.3 254.6,809.9 255.6,812 255.8,814.3 257.4,816.5 258.1,819.4 258.4,822.6 260,825 261.8,826.9 264.9,823.8 266.8,820.1 266.9,816.8 268.1,813.2 267.7,809.4 268.3,805.7 268.7,802.6 271.8,800.1 273.4,798.3 275.5,795.8 278.1,793.6 280.5,790.8 283.1,788.4 285.5,787.1 286.8,783.3 289.9,783.1 294.2,781.8 298,779.8 299.8,782.7 300.6,786.1 302.3,788.3 303,791.1 304.8,793.3 306.7,797 306.1,801.4 307.2,802 M179.6,817.6 182.6,817 185.8,816.3 188.5,814.6 191.4,814.5 192.1,815.7 190.8,820.7 190.1,823.2 188.4,825.9 187.1,828.2 185.1,830.7 183.7,834 183.3,836.9 182.6,839.1 181.2,842 179.6,843.7 M197,812 200.8,811.7 201.4,813 198.3,813.8 197,812 M239.4,779.6 241.9,779.3 242.5,780.8 240.4,781.3 239.4,779.6 M267.4,820.7 269.9,821.3 272.4,825.7 272.8,830 270.6,833.1 268.3,831.9 267.4,826.9 267.6,823.7 267.4,820.7 M180.3,707.3 183.2,706 185.3,703.6 188.8,703.1 191.6,702.4 194.8,702.5 197.8,703.6 199.5,707.3 195.3,709.8 190.3,711.1 191.6,716.1 194.9,718.2 197.8,719.8 201,721 197.8,724.8 199.5,728.5 200.1,731.3 199,734.7 195.1,735.4 191.6,735.5 189.6,734.1 186.6,733.5 187,730.3 186.1,727.3 188.6,723.5 186.8,719.7 184.1,717.3 181.8,714.8 181.1,712.3 180.3,707.3 M210.2,709.8 212.7,706.1 215.5,705.2 217.7,704.3 219.5,707.3 218.1,710 217.7,712.3 215,714.1 212.7,714.8 210.2,712.3 210.2,709.8 M250.6,706.8 252.6,704.8 255.4,704.9 258.8,704.3 262.6,704.1 265.8,703.6 265.8,705.1 262.2,705 258.8,706.1 256.2,706.2 253.4,706.8 252.1,709.1 250.6,706.8 M330.2,688.4 334,687.4 336.2,685.8 339,684.3 341,681.8 343.3,680.6 344.8,678 345.8,675.6 347.1,675.2 347.3,676.8 345.9,679.2 344.6,681.8 342.1,683.4 340.2,685.5 337.3,686.8 335.2,688.7 332.1,689.5 330.2,688.4 M378.8,753.4 378.5,751.1 377,748.4 376.6,745.9 375.1,743.5 372,741 374.5,738.5 377,736.6 380.1,734.7 377,733.5 373.2,733.5 370.1,731.6 367.6,729.1 369.5,727.5 373.2,726 375.1,723.5 378.8,722.3 379.4,724.8 377.6,727.3 381.9,726.6 386.9,726 388.8,728.5 388.2,731.6 390.7,733.5 392.5,736 391.9,741 391.9,742.8 394.4,742.2 397.5,740.3 398.8,736.6 398.1,733.5 395,729.8 393.2,726.6 394.4,724.8 398.1,722.9 400,719.2 403.1,716.1 406.2,714.8 408.1,716.1 409.9,714.2 413.1,713.6 415.7,711 418.1,708.6 420.8,706.2 422.4,703.6 425.5,699.9 426,696.8 427.4,694.9 428.7,689.9 430.5,686.8 429.9,683.7 427.4,680.6 424.3,679.3 421.2,681.8 419.3,679.3 416.8,678.7 414.3,677.4 418.1,674.3 420.4,671.8 423.1,670.6 425.3,668.9 427.4,667.5 429.7,666.4 431.8,664.4 434.8,663.7 M399.4,746.6 401.1,744.4 403.1,742.8 406.9,740.3 411.8,739.1 416.2,739.7 418.7,736.6 419.3,733.5 423.1,731 425.5,727.3 428,723.5 428.7,719.8 426.8,717.3 429.3,716.7 430.5,721 431.8,726 430.5,731 429.9,733.9 428.7,736 426.8,739.7 421.8,741 418.1,743.5 416.8,746.6 413.1,747.2 409.4,746 406.9,745.3 404.4,748.4 403.7,752.2 401.9,753.4 400,750.3 399.4,746.6 M405.6,743.7 409.1,743.2 413.1,742 414.3,743.7 411,744.7 408.4,746 405.6,743.7 M488.1,662.5 485.6,665 486.8,667.5 488.7,670 487.5,673.7 485.6,675.6 484.4,678.7 480.6,681.2 477.5,684.3 474.4,686.8 470.7,689.9 468.8,691.8 467.5,693 468.8,688.7 470,684.9 468.8,679.9 468.2,675 470,671.2 473.1,668.7 476.9,666.2 480.6,663.7 483.1,661.9 M488.1,662.5 490.6,664.4 492.1,665.6 490,666.2 M420.8,674.3 423.7,672 425.8,668.7 428.6,666.8 430.8,665 433.8,663.9 437,663.7 440.3,663.8 442.4,662.8 445.7,663.5 449.7,663 453.2,663.1 456.9,664.4 461.9,665 466.9,664.4 463.2,662.7 458.2,662.2 M432.7,679.9 433.9,678.7 434.8,683.7 435.5,688.7 435.4,691 437,693.6 438.3,696.8 436.4,697.4 434.5,700.5 435.5,703.6 433.9,704.8 432.7,701.1 432,696.1 431.4,691.1 430.8,686.2 431.4,682.4 432.7,679.9 M433.3,708.6 437,711.7 440.7,712.3 442.6,714.2 439.5,716.1 435.8,717.9 432,718.5 429.5,719.8 427.7,717.9 429.5,714.8 431.4,711.1 433.3,708.6 M420.8,677.4 424.6,680.6 428.3,683.7 430.8,684.9 429.5,689.9 428.5,692.4 427,694.9 425.9,697.3 424.6,699.9 422.1,703.6 420.8,706.1 M426.4,717.9 428.3,721 430.2,724.8 432,728.5 431.4,733.5 429.5,737.2 428.3,739.7 424.6,741 420.8,742.8 M426.4,717.9 426.5,720.8 425.8,723.5 424.6,728.5 424,731.2 422.1,733.5 420.8,734.7 M374.7,743.5 377.2,747.2 378.5,750.9 379.7,753.4 376,755.9 379.9,757.2 378.8,759.4 378.5,762.1 376.5,765.7 374.1,768.4 373.1,771.2 371,773.4 368.3,775.5 366,777.7 363.7,779.5 361,780.2 356,780.8 352.3,782.7 347.9,784.6 344.2,783.3 339.8,784.6 337.8,787.3 336.1,789.5 336.1,793.3 339.2,797 342.2,799.3 343.6,802 345.1,805.2 345.4,808.2 345.2,812.3 345.1,815.7 343.1,817.3 340.5,818.2 337.3,820.7 334.2,824.4 332.4,820.7 329.8,819.1 328.6,816.9 326.9,814.6 324.9,812 321.8,809.5 321.6,811.8 320.1,814.5 318,818.2 318,823.2 320,825.4 321.1,828.2 323.2,830.7 324.9,833.1 327.5,835.4 328.6,838.1 328.9,841.1 330.5,843.1 M344.2,790.2 346.7,788.5 349.5,790.2 349.2,792.7 346.7,794.5 344.2,793.3 344.2,790.2 M376.6,772.7 379.1,772.1 379.7,775.2 379.2,778.2 377.8,780.8 376,782.3 374.5,779 375,775.2 376.6,772.7 M291.2,783.3 295,781.4 298.7,780.2 300.6,784.6 302.5,787.3 303.7,790.2 305.4,793 306.2,795.8 306.5,798.4 306.8,801.4 310.5,802 313.7,798.9 314,802.1 315.5,804.5 315.6,807.9 316.8,810.7 317.7,814.3 317.7,818.2 317.6,821.6 316.8,824.4 318.9,827.5 319.3,830.7 321.3,833.4 322.4,836.9 323.4,840.2 324.6,843.1 M375.3,793.9 380.3,793.5 379.9,798.3 379.1,803.2 380.3,807 378.5,809.5 377.2,812.6 376,810.7 374.3,808.4 374.1,805.7 373.5,801.4 375.3,798.3 375.3,793.9 M379.1,808.2 384.1,807.6 385.9,811.3 388.4,813.2 387.8,816.9 389.7,820.7 391.5,824.4 391.4,827.4 390.9,830.7 388.4,834.4 385.3,832.5 384.1,828.2 380.9,829.4 379.7,827.5 382.8,825 381.6,820.7 379.1,818.2 380.3,814.5 378.5,812 379.1,808.2 M382.8,813.2 385.9,814.5 385.3,818.2 383.2,816.9 382.8,813.2 M384.1,820.7 387.8,821.3 387.2,825 384.4,824.4 384.1,820.7 M351,843.1 354,841.8 356,839.4 357.9,837.5 360.4,835.7 361.6,833.8 363.6,831.9 366,830 368.4,832.1 371,835 369.1,839.4 367.2,843.1 M308.7,834.4 311.8,835 312.6,837.3 314.9,839.4 317.4,843.1 M308.7,834.4 309.9,838.7 312.4,843.1 M399.6,747.2 402.1,745.3 405.9,744.1 410.8,743.5 M400.9,746.6 402.7,750.9 404,753.4 402.1,752.8 400.6,749.7 399.6,747.2 M314.3,843.1 316.6,845.4 317.4,848.1 318.5,851.6 321.1,854.3 322,857.7 324.3,860.5 326.5,863.8 328.6,866.1 331.4,867.7 334.2,870.5 336.3,869.3 336.7,864.3 337.3,859.3 334.8,856.8 332.9,855.6 331.1,853.1 329.7,851.2 328,848.7 326.2,846.3 325.5,843.1 M335.5,871.1 337.3,874.2 340,875.7 343.6,876.7 347.5,877.1 351,878.6 355.2,879 358.5,879.9 362.5,880.7 366,880.5 371,879.9 368.5,878 364.4,877.5 361,876.7 358.3,875.6 356,874.9 353.4,874.2 351,873 348,872.8 344.8,872.4 339.8,871.1 335.5,871.1 M383.4,884.2 386.6,881.7 390.9,879.2 392.8,879.9 389.7,882.3 385.9,884.8 383.4,884.2 M351,843.1 348.1,844.5 344.8,846.8 346,849.9 346.1,853.1 347.3,855.8 347.4,858.5 348.5,860.5 351.4,861.4 353.5,862.4 358.5,863 361,864.9 364.1,861.8 365.4,856.8 366.5,854.1 367.2,851.8 371,848.7 369.7,846 369.1,843.1 M372.8,849.3 375.6,848.6 378.5,848.7 383.4,849.3 387.2,847.5 387.8,848.7 384.1,851.2 380.8,851.2 378.5,851.8 377.2,854.9 380.9,854.3 383.4,854.9 379.7,857.4 378.5,860.5 380.9,864.3 382.8,868.6 380.9,869.9 378.5,865.5 376,864.3 375.7,867.2 375,869.9 372.8,869.5 373,866.2 373.5,863 372.2,858.1 373,854.8 373.4,851.9 372.8,849.3 M393.4,846.2 395.9,845.6 396.5,849.3 395.3,854.3 393.4,853.1 394,849.3 393.4,846.2 M404,855.6 407.1,853.7 410.8,854.9 411.5,858.1 408.4,859.9 410.8,863 413.5,864.5 415.8,864.9 418.8,866.1 M418.8,856.8 414.6,855.6 410.8,854.9 M359.1,942.8 357.6,939.2 357.3,935.3 356.6,931.8 356,929.1 356.9,925.7 356.6,922.8 358.8,921.4 361,919.1 364.3,918.5 367.2,916.6 370,916.2 373.5,915.4 376.1,913.7 378.5,912.9 378.7,910.5 380.3,907.9 383.4,904.8 385,902.5 387.2,900.4 389.6,898.5 392.2,896.7 395.9,898.5 399,899.8 399.3,897.2 400.9,894.2 402.1,889.8 407.1,889.2 409.5,889.8 412.1,891.1 417.1,891.7 418.8,892.3 M418.8,892.9 415.8,896.7 415.8,901.6 418.8,903.5 M418.8,857.4 421.9,856.6 426.3,858.7 428.8,859.6 431.3,861.8 434.4,863.3 437.5,864.3 439.4,866.2 441.9,868 445.6,871.1 448.1,873 446.9,875.5 448.7,879.2 451.8,883 455,884.8 453.7,886.7 450,884.2 446.2,883.6 444.1,881.2 442.5,879.2 440,876.1 436.3,877.4 433.8,880.5 430,880.5 426.3,878 422.6,878.6 420.7,876.7 423.2,874.2 421.9,870.5 418.8,868.6 M455.2,860.5 458.7,862.4 461.8,864.9 461.8,867.4 458.7,868 456.2,870.5 452.5,872 449.3,871.1 450,869.9 455,869.3 458.1,866.8 459.3,864.5 457.9,862.4 455.2,860.5 M418.8,902.9 421.4,905 423.8,906 427.5,908.5 427.9,905.8 430,902.9 431.7,899.5 431.9,895.4 431.7,892.3 432.5,889.2 433.8,886.7 435.6,890.4 436.6,893.8 437.5,896.7 440.6,900.4 441.4,904.2 442.5,907.9 443.6,911 445.6,914.1 447.8,916.2 449.3,917.8 450.6,920.6 452.5,922.8 455,924.5 456.2,926.6 458.7,930.3 460.7,932.7 461.2,935.3 462.4,938.9 462.4,942.8 M526.2,908.5 527.5,907.1 529,908.1 528.5,909.9 526.7,910.1 526.2,908.5 M79.4,843.1 79.2,846.7 78.9,849.4 78.2,853.1 79.9,855.7 80.8,857.9 82.7,860.3 84.4,863 86.5,865.5 86.5,868.1 87.8,870.9 89.4,873 91,876 91.3,879.2 91.9,883 90.6,886.5 90.2,889.9 89.4,892.9 88.9,896.2 88.4,899.8 88.1,902.9 89.3,905.3 90.3,907.7 90.1,910.4 91.9,913 91.9,915.4 92.3,918.2 94.1,920.6 94.1,922.6 95.1,924.9 95.6,927.8 95.8,931.4 96.2,934.3 97.4,937.1 98.1,940.3 98.6,942.5 100.7,945 101.3,948 101.9,950.2 102.4,952.5 103.4,954.9 104,958.1 105.6,960.2 109.1,961.6 113.1,962.2 115.9,960.9 118.6,961.5 121.7,960.1 124.3,960.2 126.7,958.2 129.7,957.3 131.8,955.2 133.5,952.1 136.7,950.5 138,947.7 139.3,945.7 140,942.2 141.3,939.7 143,937.8 144.2,932.8 145.7,930.6 148,929.1 147.8,926.1 148.8,923.7 148.9,920.7 149.2,917.8 152.1,915.3 154.2,912.9 155.9,910.6 159,908.2 160.4,905.4 160.8,902.6 161.5,899.8 162.9,897.9 162.8,894.4 163.2,891.2 163.7,887.9 162.6,883.8 161.7,880.5 161.2,876.9 160.8,874 160.4,870.5 161.7,868.5 161.7,865.5 163.3,863 164.1,860.5 165.1,858.1 167.2,855.8 169.1,853.1 172,850.8 174.2,849.5 176.6,846.8 178.5,845.2 180.3,843.1 M140.5,853.1 145.5,851.8 146.4,854.2 147.2,856.8 144.7,860.5 141,859.3 139.9,856 140.5,853.1 M186.6,890.4 188,893.2 189.1,895.4 189.6,898.7 189.5,902.2 188.6,905.4 188.3,907.9 186.6,909.8 186.8,912.9 185.3,915.4 183.9,917.6 183.1,920.6 183,922.9 181.6,925.3 180.1,928.9 177.9,931.5 174.1,932.8 171.8,929.8 171.1,926.6 171.2,923.6 171.3,920.3 172.1,917.8 172.3,914.9 173.9,912.1 173.6,909.1 174.7,906.1 176.6,902.9 178.9,901.1 180.1,898.8 181.6,896.7 183.6,895.3 184.9,892.2 186.6,890.4 M452.6,922.8 454.7,924.7 456.9,926.6 458.7,929.6 460.7,932.8 461,935.8 462.6,939 462.8,942.3 462.9,945.2 461.5,948.6 460.7,951.5 459.5,954.6 457.6,957.7 456.7,960.6 455.1,963.9 454.8,967.9 453.2,971.4 450.7,972.6 M513.6,962.1 516.1,963.9 518.6,966.4 519.2,970.2 521.6,971.1 524.2,972.6 529.2,971.7 528.6,975.1 526.1,977.6 524.2,981.4 521.7,983.9 519.2,982.6 518,979.5 518.6,975.1 518.3,972.3 516.8,970.2 514.9,965.8 513.6,962.1 M518,979.5 515.5,981.4 513,982.4 511.1,985.1 508.7,988.8 506.8,991 504.3,992 499.9,994.4 497.4,997.6 498.7,999.4 503,1000.1 506.8,998.8 509.3,995.1 511.5,994 513,991.3 514.9,989.4 516.1,986.3 518.6,982.6 519.2,980.7 M357.3,932.8 358.5,937.8 359.5,941.1 360.1,944.5 361,947.7 361,951.5 361.6,954.7 362.3,957.7 364,960 366,962.2 370.1,963 373.5,962.7 376.1,961.8 378.5,960 381.1,960.1 383.4,958.9 385.7,957.2 388.2,956.7 390.9,955.2 394.4,954.2 397.8,954 400.9,952.7 404.5,953.5 407.1,954 410.8,954 412.4,955.6 413.7,958.7 415.8,960.2 419.6,957.7 420.6,961.1 420.8,965.2 423.7,967.4 425.8,970.2 427.9,971.2 430.5,972.8 433.3,973.9 437.5,974.5 440.7,975.6 443.8,975.3 445.7,973.9 450.7,972.6 M440.3,982.6 442.9,981.4 445.7,981.4 449.5,983.9 448.5,987.1 447.7,989.6 443.7,991.3 441.2,987.6 440.3,982.6 M417.8,962.2 419.3,959.7 420.8,957.2 421.4,960.5 422.3,963.9 419.6,966.4 417.8,962.2 M805.1,843.1 803.4,845 800.6,846.6 799.5,849.2 797.6,850.6 795.8,853.1 796.3,856.2 795.1,858.4 793.9,860.5 794.8,863.9 794.9,867.3 795.1,870.5 796.1,873.5 797.2,876 798.7,878.1 800.1,880.5 800.9,883.3 802.1,885.6 803.3,888.6 805.1,890.4 807.3,893.3 808.4,896.4 810,899.2 812.3,901.7 815.1,903.7 817.5,905.4 819.7,906.4 821.8,908.3 823.8,910.4 824.5,913.1 824.2,916.9 823.8,919.7 824.5,922.8 823.5,925.8 823.6,928.4 823.6,931.7 823.6,934.8 822.5,937.8 821.8,940.5 821.6,944.3 820.8,947.3 820,950.2 820,953.2 818.2,956.6 818.8,959.8 817.5,962.7 816.5,965.8 816.1,968.8 816.2,971.8 815.9,974.7 815,977.6 814.2,981.2 813.8,984.4 813.8,987.6 813.5,991.4 812.2,994.6 811.3,997.6 811.1,1001.1 809.5,1004.6 808.8,1007.5 809.2,1011 810.1,1014.2 811.3,1017.5 812.6,1020.3 815.1,1023.2 817.5,1025 820.3,1025.6 822.5,1027.4 824.8,1028.4 827.5,1028.7 830.8,1027.7 833.4,1027 836.2,1026.2 833.7,1024 830,1022.5 828.3,1020 827.1,1017.4 826.2,1015 827.7,1012.2 828.6,1010.2 830,1007.5 828.7,1002.5 831.2,1000.5 833.7,997.6 832.5,992.6 835.1,991.1 837.5,988.8 838.3,986.5 840,983.9 841.2,981.2 842.4,978.9 845.4,977.8 847.5,976.2 849.9,975.1 852.1,974.1 855,972.5 857.4,971.4 858.6,966.4 856.6,964.6 855.4,961.4 858.4,961.8 860.6,960.3 863.6,960.2 866.3,958.8 868,956.3 870.3,955.3 872.3,952.7 873.6,950.1 876.4,948.4 877.6,944.5 879.8,942.8 880.1,940.5 882.5,937.9 882.5,934.9 883.6,932.8 885.8,931.9 888,929.4 889.8,927.8 892.8,927.1 895.1,925.5 897.3,924.1 899.6,921.8 901,919.5 903.5,917.8 903.1,914.4 904.6,911.6 904.5,908.1 904.7,905.4 905.6,902.7 906.9,900.9 907.1,897.9 908.5,895.4 909.9,893.1 910.1,890.3 912.3,888 913.5,885.5 915.3,882.9 914.9,880 915.5,878.1 917.2,875.5 916.8,872.6 915.9,870 914.7,868 911.8,866.9 909.7,865.4 907.2,863 905.2,861.4 902.1,860.4 899.8,859.3 896.1,857.9 892.3,858.1 890.5,856.3 886.9,855.9 884.8,854.3 880.7,853.7 877.3,853.1 874.8,855.6 874.3,850.6 876.2,847.9 877.3,845.6 874.8,843.1 M847.4,1015.5 852.4,1014.5 856.9,1016.2 852.4,1018.2 849.7,1016.7 847.4,1015.5 M813.8,984.6 817,985.1 816.2,989.1 816.3,992.6 813.5,992.1 812.9,988.7 813.8,984.6 M812.5,1015 815.5,1017.2 817.5,1020 821.6,1019 825,1019.5 826.2,1023 822.6,1024.2 818.8,1024.5 M560.4,684.9 562.8,683.2 565.3,681.8 567.9,681 570.9,680.5 572.8,679.3 575.7,678.4 577.8,677.4 580.3,676.2 583.4,675.3 585.4,673.8 587.8,672.5 591.5,670 592.8,666.2 590.3,665 585.3,665.6 581.5,664.4 580.3,662.5 M600.2,667.5 603.3,665.6 606.5,666.9 605.8,670 602.1,671.2 600.2,667.5 M602.7,663.7 607.7,662.5 612.7,662.7 M635.1,661.9 637.9,663.4 641.3,663.7 644.5,666.2 647.6,667.5 650.5,669.9 652.6,672.5 654.5,674.6 656.3,677.4 657.9,680 658.8,682.4 661.3,686.2 663.8,683.7 666.3,686.2 668.7,687.7 670,689.9 672.4,691.4 675,693.6 677.4,694.7 680,696.1 685,697.4 685,700.5 681.8,698.6 680,701.1 680.4,705.2 680.6,708.6 679.6,712 680,716.1 680.1,720.1 681.8,723.5 682.3,726.6 683.8,728.3 685,731 685.4,734.2 686.6,735.8 687.9,738.5 M671.3,691.1 674.5,692 677.5,693 680.6,695 683.7,696.8 685,699.9 682.3,698 680,697.4 676.8,695.4 673.7,694.3 671.3,691.1 M681,723.5 680.8,719.7 679.7,716.1 680.9,713 680.3,709.8 681.4,707.1 681,703.6 682.2,699.9 685.3,701.1 683.5,696.8 679.7,693.6 676,691.8 M681,723.5 681.8,726.8 683.5,729.8 684.3,732.7 686.6,734.7 687.3,737.9 689.7,741 693.4,742.8 697.2,745.3 698.6,747.9 700.3,750.9 701.5,753.4 M747,681.8 750.7,681.4 751.6,684 753.2,686.2 755.1,690.5 752.6,691.8 750.1,687.4 749.3,684.2 747,681.8 M758.2,662.5 759.5,665.6 763.2,667.5 765.7,670.6 770.7,671.8 773.4,672.4 775.7,673.7 778,675.4 780.6,675.6 785.6,676.8 788.3,677.1 791.2,677.4 792.5,680.6 791.9,684.3 795,686.2 797.5,689.9 799.3,688.7 800,683.7 798.7,678.7 800.6,676.8 803.6,675.6 M765.1,703.6 768.8,701.7 771.9,699.2 775.7,696.8 779.4,696.8 782.5,698.6 785.6,700.5 785,703.6 781.9,703 778.2,702.4 774.4,703.6 769.4,704.6 765.1,703.6 M779.4,706.7 778.2,710.5 776.9,714.8 777.2,718.5 779.4,719.8 780.6,716.1 781.3,711.7 781.9,708.6 779.4,706.7 M785.6,704.8 789.4,705.5 794.3,706.1 797.5,708 798.1,710.5 795,711.1 793.1,714.2 791.2,713.6 790,710.5 787.5,708.6 785.6,704.8 M788.7,719.2 793.1,717.3 796.8,715.4 800,713.6 803.1,713.3 801.8,715.4 797.5,717.9 793.7,719.8 790,720.8 788.7,719.2 M793.1,753.4 795.6,749.7 799.3,746.6 801.5,744.7 803.6,743.5 M839,662.5 841.4,665.6 843.7,667.3 845.2,670 846.4,674.3 849.2,675.1 851.4,676.8 853.7,678.7 856.4,679.9 860.1,683 862,686.8 860.1,689.9 858.3,692.4 861.4,694.9 866.4,695.5 869.5,698.6 870.1,703 867.6,704.2 863.9,703 861.4,701.7 858.2,701.4 855.6,700.9 852.7,701.1 854.5,696.8 855.3,694.1 857,691.1 856.4,689.3 852.7,691.1 850.9,692.9 847.7,693.6 843.9,693 839,692.4 834,693.6 831.5,695.3 829,696.8 825.2,699.9 823.2,702 821.5,703.6 824.6,701.6 826.5,699.2 830.1,698.3 832.7,696.1 835.8,694.9 839,695.3 843.9,695.8 846.4,696.4 842.7,697 839.8,696.6 836.5,697.6 834,699.9 837.1,701.7 839.6,703.6 843.9,704.8 847.7,703 850.2,703.6 850.8,706.1 847.7,708 843.9,708.6 840.2,710.5 836.5,713.6 834.6,711.7 836.5,708.6 832.7,708.6 829.9,709.9 827.7,711.7 825.9,713.7 822.8,714.8 821.5,718.5 818.4,721 815.3,721.7 811.5,724.8 809.1,727.3 807.2,729.8 809.1,733.5 807.2,737.2 807.8,741 804.1,743.5 800.3,746.6 796.6,749.7 794.1,753.4 M801,663.7 804.1,666.2 805.1,669.2 806.6,671.2 805.9,676.2 803.5,678.3 801,678.7 800.3,683.7 802.2,686.8 800.2,688 798.5,690.5 796.5,687.8 794.1,686.2 791.6,683.7 M824.6,662.7 827.7,666.2 831.5,667.5 835.2,665.6 836.5,662.7 M791.6,707.3 795.3,706.1 797.8,708.6 796.6,711.7 792.9,713.6 791.6,714.2 M791.6,719.8 794,718.1 796.6,717.3 800.2,716.1 802.8,713.6 805.2,712.4 807.8,711.1 808.4,713.6 805.8,715.5 803.4,716.1 800.6,717.1 797.8,719.2 794.5,720 791.6,721 M982.5,680.6 986.2,678.1 991.2,676.8 994.3,678.7 993.7,682.4 991.2,686.2 987.5,688 983.7,688.7 982.5,686.2 984.4,683.7 982.5,680.6 M1009.6,682.7 1006.4,678.7 1004.9,675.2 1002.7,671.8 1004.9,669 1001.4,666.2 998.1,666.9 994.9,666.2 991.2,667.2 994,670.6 994.9,674.3 998.7,676.8 1001.2,679.3 998.7,681.8 997.7,685.5 1001.2,686.8 1000.2,689.9 996.2,692.6 1001.2,691.4 1006.2,690.1 1009.6,690.6 M1009.6,694.9 1004.9,694.3 1005.5,696.8 1001.2,697.4 997.4,699.2 999.9,701.7 1004.3,703 1006.2,706.1 1005.5,711.1 1003.7,714.2 998.7,713.8 993.7,712.9 988.7,713.6 985.6,715.4 985.2,718.1 986.2,721 985.4,723.9 985.6,727.3 987.5,731 986.8,734.7 991.2,735.4 994.9,736.6 999.9,735.4 1002.4,734.8 1004.9,733.5 1007.5,731.4 1009.6,729.1 M1009.6,738.5 1006.5,739.5 1003.7,740.3 1000.4,739.8 997.4,739.7 994.9,737 993.7,739.7 991.2,743.5 987.5,746.6 985,749.7 983.1,753.4 M987.5,746 984.5,749.7 981.7,751 979.2,753.5 977,755.9 974.6,758 974,760.7 972,763.4 970.3,766.7 968.1,768.6 967,772.1 965.8,774.6 965.3,777.8 964.5,780.8 965.3,783.8 964.8,787.2 965.7,789.8 965.8,793.3 966.3,796.8 965.1,799.5 965,802.3 964.5,805.7 965.9,809.3 966.4,812.4 967,815.7 967.7,818.6 969.8,820.1 971.1,822.6 972,825.7 974.1,826.9 975.9,829.2 977.7,831.1 979.5,833.1 981.8,834.7 983.9,837 987,838.1 990.2,837.9 993.2,837.4 996.9,836.9 1000,836.7 1001.5,834.5 1004.4,834.4 1009.4,835.6 M751.7,771.5 752.5,768 753,764.6 754.9,762 756.7,759.7 759.2,758.4 761.7,757.2 764.2,756.2 767.2,756.6 770.4,755.9 772.3,757.8 774.2,755.3 777.3,755.8 780.4,755.7 785.4,756.5 788.5,759 790.4,763.4 791.6,768.4 794.1,772.1 796,772.7 796.8,768.4 795.8,765.1 795.3,762.1 794.5,759.1 794.1,755.9 795.3,750.9 797.8,747.2 801.6,744.7 804.1,743.5 M751.7,783.3 752.2,786.5 753,789.5 754.7,792.2 756.7,793.3 761.7,794.3 764.4,793.3 766.7,791.4 768.1,788.7 769.2,786.4 772.9,784.6 775.5,784.4 778.5,783.9 779.8,785.8 779.2,788.9 777.9,790.8 777.8,793.2 776,795.8 774.8,800.8 777.9,802 782.9,801 786.6,803.2 789.1,807 789.1,809.8 789.1,813.2 787.9,818.2 790.4,821.9 794.1,824.4 797.8,823.2 801,821.9 802.8,824.4 805.3,826.9 806.6,825.7 807.8,821.3 811.5,818.2 814,816.8 816.5,816.3 819.6,813.2 820.9,815.7 819.6,818.2 819,821.9 820.9,823.2 821.5,820.1 823.4,815.7 826.5,813.8 828.4,816.9 832.7,818.8 835.8,819.6 839,819.4 843.9,818.2 847.7,818.8 848.3,823.2 851.4,825.7 852.8,828.1 855.2,829.4 858.9,832.5 863.9,833.8 866.6,834.5 868.9,835.6 872.6,838.7 875.1,843.1 M751.7,801.4 754.7,801.8 758,800.8 760,802.7 763,803.9 765.1,806.3 767.9,808.2 770.8,808.7 773.5,808.9 776.6,809.4 778.5,811.3 780.6,813.9 781.6,816.9 783.2,819.3 785.4,820.7 786.8,822.7 789.1,824.4 793.5,826.3 796,829.4 797.2,826.9 799.1,823.2 801.6,823.2 803.4,826.3 804.7,830.7 805,833.5 805.3,836.9 804.8,839.7 804.1,843.1 M784.8,782.7 787.9,780.2 792.9,779 797.8,780.2 800.4,780.6 802.8,782.7 805.1,783.7 807.8,785.2 809.6,786.9 812.8,787.7 811.5,788.9 806.6,789.3 804.1,787.1 800.3,784.6 798,783.3 795.3,782.1 791.6,781.4 789.1,783.3 784.8,782.7 M812.2,793.9 815.3,791.4 817.8,789.5 822.8,788.9 826.5,790.8 828.4,793.9 825.2,793.3 822.1,795.2 820.3,796.4 818.4,793.9 815.3,794.5 812.2,793.9 M680,716.1 680.3,719.5 680.8,722.7 681.2,726 683.3,728.6 684.7,730.5 686.2,733.5 688.6,736.4 689.9,739.7 691.6,742.3 694.5,743.2 696.2,746 698.5,748.6 699.9,752.2 702.2,755.4 703.6,758.4 705,761.1 706.1,763.4 707.4,765.9 709.9,768.4 712.3,770.8 713.9,772.8 714.9,775.8 718.6,778.8 717.8,778.3 717.4,775.9 716.1,772.9 714.9,770.9 714.2,767.7 712.4,764.6 710.8,761.8 709.9,758.4 707.9,756.7 706.9,753.4 705.4,751.4 707.9,752.2 709.6,754.2 710.5,757.2 712.4,759.7 714.4,761.3 715.7,763.4 716.6,766.3 718.5,768.2 719.8,770.9 721.5,773.7 722.7,776.6 724.8,778.3 726.9,780.7 728.3,782.9 729.8,785.8 732.6,788.1 735,789.8 737.3,792 739.2,793.9 743,794.8 744.8,797 747.1,798.9 749.8,800.1 752.2,800.8 755,802.1 757.4,803.1 759.7,803.2 761.6,805.3 764.7,807 766.9,808 769.2,809.6 772.2,810.7 774.5,813.7 777.2,815.7 779.4,816.5 781.6,819.3 783.4,820.7 786.3,823.4 789.6,824.4 792.3,826.1 795.6,826.9"/>
<path class="ln" style="stroke-width:2.1" d="M445.1,710.7 447.6,709.3 M449,708.6 451.5,707.3 M452.7,706.6 455.2,705.2 M466.9,693.1 468.7,691.9 M513.3,684 515.3,684.5 M540.7,687.4 542.7,687.9 M366.6,825.7 372.8,816.9 M371,882.7 376,883.7 M385.9,878.6 390.9,877.5 M314,848.3 314.9,849.6 M317.7,855.6 318.6,857.1 M335.5,858.3 336.3,859.3 M342.1,860.8 342.8,861.8 M390.3,863 391.5,863.3 M394.9,861.8 401.9,863 M400.9,852.6 403.4,853.1 M411.5,869.9 412.3,874 M403.6,875.5 404.4,877.2 M382.2,906 383.4,907.3 M357,934.7 357.5,936.5 M465.9,869.9 468.7,873.6 M478.6,882.3 481.1,883.2 M483,884.2 486.1,886.5 M497.9,899.8 500.4,904.8 M491.3,916.8 498.6,922.8 M531.6,904.1 529.7,905.4 M133,863 134.2,868 136.7,875.5 138.5,880 M146.7,883 148,890.4 149.2,897.4 M202.3,919.1 203.3,919.6 M208,916.3 209,916.8 M238.9,1007.5 242.6,1009 M499.9,1001.3 501.6,1002 M541.4,991.3 543.2,992.1 M908.5,1024 914.7,1026.2 M767.7,853.1 768.4,855.1 M551.9,895.4 555.9,896.9 M613.4,908.1 614.2,908.9 M767.7,853.1 768.2,855.6 M561.6,683.7 564.1,682.2 M566,681.4 568.5,680.6 M651.9,667.2 656,672.2 M657.8,680.9 661,685.9 M714.6,665.6 719.6,663.5 725.2,663.7 M736.4,673.1 738.3,669 740.2,668.2 M740.8,683.7 743.9,684.3 747,689.9 749.5,693 M798.5,673.5 799.7,674 M964.5,762.4 967,763.4 M970.8,760.9 973.3,759.7 M802.6,794.3 807.6,795 M831.2,793.5 836.2,794.3 M801,767.4 804.7,768.4 M802.4,772.7 804.1,776.5 M845.8,800.1 847.1,801.4 M847.4,805.1 848.7,806.4 M789.1,783.1 790.6,783.9 M814.7,785.2 816.3,784.6 M561.6,684.2 565.3,682.4 M585,782.1 586.8,782.8 M589.3,783.3 591.3,784.1 M594.3,785.8 595.7,786.8 M597,788.8 598.2,791.3"/>
<path class="ct"  d="M215.5,790.2 231.2,798.5"/>
<path class="ct"  d="M216.2,790 231.2,798.1 228.1,806.2 227.5,812.5 230,820 235,826.2 241.2,831.9 244,834 237.5,835 227.5,838.1 220,842.5 216,848.8 215.6,858.1 225,863.1 237.5,868.1 250,872.5 258.8,876.2 265,879.4 268.1,882.5 265.6,887.5 262.5,891.2"/>
<path class="ct"  d="M274.8,808.8 280,806.2 286.2,805 295,806.9 305,809.8"/>
<path class="ct"  d="M321.9,869.6 321.5,877.5 321.9,881.9 328,883.1"/>
<path class="ct"  d="M459.4,702.5 467.5,703.4 475,704.6 483.1,705.5 490,704.2 493.5,703.8 495.2,707.8 496.5,712.8 496.2,717.1 493.1,721.5 490.6,727.8 491.9,732.8 496.2,736.5 503.8,739 510.6,740 503.8,740.9 496.2,743.4 490,747.1 485,751.5 482.5,755.2"/>
<path class="ct"  d="M516.9,740.2 516.5,734 518.1,729.6 522.5,726.5 528.8,723.4 535,721.5 541.2,721.5 545,724.6 545.2,727.8 541.2,732.1 535,735.9 527.5,739.6 521.2,740.9 516.9,740.2"/>
<path class="ct"  d="M400,753.5 400,751.5 410,741.5 422.5,734 435,726.5 440,720.2 443.8,717.8 447.5,721 455,723.5 463.8,719 465,714 462.5,710.2 456.2,707 452.5,706.5 459.2,702.5"/>
<path class="ct"  d="M400,753.4 396.2,759 393.1,766.5 392.2,774 395,779 402.5,781.2 410,780.5 420,778.4 428.8,775.9"/>
<path class="ct"  d="M428.8,840.2 420,841.5 415,844 411.2,849 412.5,852.8 416.2,855.2"/>
<path class="ct"  d="M299.4,808.4 305,809.6"/>
<path class="ct"  d="M345,798.4 358.1,787.1"/>
<path class="ct"  d="M427.4,776.5 434.2,774 446.8,770.2 459.2,767.1 465.5,765.2 470.5,761.5 475.5,757.8 483,754"/>
<path class="ct"  d="M556.8,778.4 548,781.5 535.5,784.6 523,786.5 513,789.6 503,793.4 490.5,797.8 478,801.5 465.5,804.6 453,808.4 441.8,810.9 450.5,815.2 461.8,819 468,823.4 478,828.4 488,832.1 493,834.6 489.2,837.1 478,840.2 465.5,842.1 453,840.9 443,842.1 427.4,840.2"/>
<path class="ct"  d="M522.4,852.1 554.2,848.4"/>
<path class="ct"  d="M259.5,889.8 256.2,893 265,897.2 282.5,897.2 307.5,894"/>
<path class="ct"  d="M135,967.2 145,973.5 137.5,978.5"/>
<path class="ct"  d="M195.5,973 198.8,975.5 195.5,977.2 194.5,974.8 195.5,973"/>
<path class="ct"  d="M156.2,922.2 166.2,919.8"/>
<path class="ct" stroke-dasharray="9 5" d="M152.5,941 156.2,945.5 167.5,942.2 176.2,938.5 183.8,932.2 187,921"/>
<path class="ct"  d="M150,991.5 156.2,990.2"/>
<path class="ct"  d="M158.8,991.5 167.5,994.8"/>
<path class="ct"  d="M170,995.5 180,996.5"/>
<path class="ct"  d="M191.2,996 200,994"/>
<path class="ct"  d="M202.5,994 210,996"/>
<path class="ct"  d="M212.5,996.5 222.5,996.5"/>
<path class="ct"  d="M236.2,996 243.8,991"/>
<path class="ct"  d="M246.2,990.5 265,989"/>
<path class="ct"  d="M276.2,990.5 285,993.5 290,998.5"/>
<path class="ct"  d="M287.5,1002.2 278.8,1008.5"/>
<path class="ct"  d="M295,1006 307.5,1001"/>
<path class="ct"  d="M253.8,1011 257.5,1008.5 265,1009.8 266.2,1016"/>
<path class="ct"  d="M256.2,1013 265,1015.5"/>
<path class="ct"  d="M273.8,1026.5 285,1029 300,1028 307.5,1026.5"/>
<path class="ct"  d="M297.5,1016 307.5,1019.8"/>
<path class="ct"  d="M137.5,998.5 138,1006 136.2,1013.5"/>
<path class="ct"  d="M135.8,1028.5 136.2,1043.5"/>
<path class="ct"  d="M136.2,1028.5 142.5,1029.8"/>
<path class="ct"  d="M155,1029.8 167.5,1027.2 177.5,1030.5 185,1034"/>
<path class="ct"  d="M170,1041 176.2,1039.8"/>
<path class="ct"  d="M553.5,661.5 561,669.5 571,679.5 586,687 603.5,692.8 619.8,699.5 631,707 636.5,716.5 638,726.5 634.8,737.8 627.2,750.2 616,759 601,765.2 583.5,771 566,776.5 551,780.2 544.8,781.5"/>
<path class="ct"  d="M562.2,683.5 568.5,681"/>
<path class="ct"  d="M597.2,677.8 611,682 628.5,685.2"/>
<path class="ct"  d="M641,687.8 656,692.8 672.2,697"/>
<path class="ct"  d="M597.2,810.2 611,808.5 628.5,809"/>
<path class="ct"  d="M642.2,811 656,814 673.5,811.5"/>
<path class="ct"  d="M686,812 701,807 716,805.2"/>
<path class="ct"  d="M729.8,805.2 736,802.8 740.5,799.5"/>
<path class="ct"  d="M588.5,818.5 589.8,824 601,826.5 614.8,828.2"/>
<path class="ct"  d="M627.2,829 641,827 658.5,826"/>
<path class="ct"  d="M669.8,827 686,826 703.5,825.2"/>
<path class="ct"  d="M716,826 731,829 743.5,832.8"/>
<path class="ct"  d="M757.2,837.8 766,836.5 773.5,832.8 781,825.2"/>
<path class="ct"  d="M544.8,849.5 556,849"/>
<path class="ct"  d="M567.2,848.5 578.5,846.5 591,847"/>
<path class="ct"  d="M603.5,847.8 616,846 628.5,846.5 641,848.5"/>
<path class="ct"  d="M653.5,849.5 666,851.5 678.5,852.8"/>
<path class="ct"  d="M691,850.2 706,847 721,847.8 736,851.5"/>
<path class="ct"  d="M321.2,869.8 322.5,877.2 330,882.2 340,883.5 348.8,881"/>
<path class="ct"  d="M298.8,894.8 310,893.5 325,899.8 345,903 366.2,904.8"/>
<path class="ct"  d="M465,926 470,916 462.5,906 460,893.5 465,888.5 472.5,898 485,895.5 500,897.2 512.5,902.2 518,908.5 515,918.5 505.5,927.2 510,935.5 520,940.5 535,944 550,949 557.5,952.2"/>
<path class="ct"  d="M455,868.5 465,869.8 475,878.5 485,884.8 500,889.8 520,892.2 540,891.5 557.5,889.8"/>
<path class="ct"  d="M410,844.8 417.5,851 430,856 437.5,857.2"/>
<path class="ct"  d="M322.5,927.2 326.2,924.8 329.5,928 325.8,931 322.5,927.2"/>
<path class="ct"  d="M471.2,939.8 476.2,939 478,944.8 473,947.2 471.2,939.8"/>
<path class="ct"  d="M479.5,951 483.8,948.5 487.5,953.5 480.5,954 479.5,951"/>
<path class="ct"  d="M527,986 532.5,980.5 538.8,986 533.8,991.5 527,986"/>
<path class="ct"  d="M315,947.2 305,949.8 310,958.5 318.8,966"/>
<path class="ct"  d="M330,973.5 345,979.8 360,978.5"/>
<path class="ct"  d="M332.5,932.2 340,934.8 348.8,942.2"/>
<path class="ct"  d="M353.8,956 347.5,962.2 353.8,969.8 363.8,974.8"/>
<path class="ct"  d="M486.2,864.8 485,858.5 500,854.8 520,851"/>
<path class="ct"  d="M525,851 540,849 557.5,848"/>
<path class="ct"  d="M495,871 510,874 525,877.2"/>
<path class="ct"  d="M535,878.5 550,881 557.5,883"/>
<path class="ct"  d="M298.8,1003.5 310,997.2 322.5,994.8"/>
<path class="ct"  d="M335,994.8 347.5,996 356.2,1003.5 362.5,1007.2"/>
<path class="ct"  d="M375,1007.2 383.8,997.2 390,999.8 401.2,1002.2"/>
<path class="ct"  d="M413.8,999.8 427.5,1004.8 443.8,1008"/>
<path class="ct"  d="M455,1011 470,1011.5 486.2,1009.8"/>
<path class="ct"  d="M500,1006 515,1001 528.8,997.2"/>
<path class="ct"  d="M542.5,995.5 547.5,988.5 550,976 553.8,969.8"/>
<path class="ct"  d="M298.8,1018.5 310,1021 322.5,1023.5 315,1025.5 298.8,1028.5"/>
<path class="ct"  d="M498.8,898.5 500.5,904.8"/>
<path class="ct"  d="M491.2,917.2 497.5,922.2"/>
<path class="ct"  d="M544.8,892.2 556,894 576,898 596,903 616,909 636,915.5 656,921.8 676,929.8 688.5,936.5 694.8,940.5 689.8,945.5 681,949 661,950.5 646,951.8 639,957.2 629.8,965.5 617.2,971 608.5,976 614.8,984 620.5,988 613.5,991 602.2,989.8 593.5,982.2 583.5,976 591,969 599,963.5 583.5,961 568.5,956 556,951 544.8,946"/>
<path class="ct"  d="M628.5,997.2 633.5,995.5 643.5,997.2 636,1001.5 628.5,997.2"/>
<path class="ct"  d="M704.8,1011 711,1005.5 718.5,1011 709.8,1013 704.8,1011"/>
<path class="ct"  d="M544.8,849 561,848.5"/>
<path class="ct"  d="M568.5,849 591,847.2 611,848"/>
<path class="ct"  d="M621,848.5 641,847.2 661,849"/>
<path class="ct"  d="M666,849.8 681,852.2 691,849.8"/>
<path class="ct"  d="M698.5,848.5 716,847.2 731,849.8"/>
<path class="ct"  d="M741,853.5 753.5,858.5 766,863.5"/>
<path class="ct"  d="M774.8,867.2 786,869.8 792.2,878.5 796,886"/>
<path class="ct"  d="M544.8,883 561,884.8 578.5,888"/>
<path class="ct"  d="M581,888.5 601,894 619.8,900.5"/>
<path class="ct"  d="M623.5,901.5 641,908.5 656,913.5"/>
<path class="ct"  d="M663.5,913 681,919.8 696,927.2"/>
<path class="ct"  d="M707.2,931 721,936 729.8,939.8 731.5,946"/>
<path class="ct"  d="M724.8,954.8 716,958.5 706,960.5 693.5,960.5"/>
<path class="ct"  d="M682.2,959.8 666,962.2 652.2,968.5"/>
<path class="ct"  d="M637.2,974.8 646,982.2 653.5,989.8 659.8,993.5"/>
<path class="ct"  d="M669.8,998.5 674.8,1006 673.5,1011 666,1014.8 658.5,1018.5"/>
<path class="ct"  d="M551,968.5 546,976 544.8,989.8"/>
<path class="ct"  d="M566,972.2 578.5,977.2 589.8,988.5"/>
<path class="ct"  d="M602.2,996 612.2,1001 619.8,1007.2 621,1012.2 617.2,1014"/>
<path class="ct"  d="M606,1018.5 601,1022.2 606,1028 616,1029.8 624.8,1028.5"/>
<path class="ct"  d="M636,1031 648.5,1034.8 658.5,1036"/>
<path class="ct"  d="M662.2,1031 673.5,1033 683.5,1034.8"/>
<path class="ct"  d="M741,1042.2 746,1036 758.5,1031 768.5,1029.8"/>
<path class="ct"  d="M781,1027.2 793.5,1025.5 803.5,1024.8"/>
<path class="ct"  d="M766.8,854.8 778,855.5 791.8,856"/>
<path class="ct"  d="M766.8,864.8 780.5,866 789.2,871"/>
<path class="ct"  d="M791.8,876 795.5,886 800.5,892.2"/>
<path class="ct"  d="M766.8,1029.8 775.5,1028.5"/>
<path class="ct"  d="M780.5,1028 795.5,1025.5 810.5,1018.5"/>
<path class="ct"  d="M908,1023.5 914.2,1025.5"/>
<path class="ct"  d="M918,1042.2 924.2,1038.5"/>
<path class="ct"  d="M935.5,1036 943,1037.2 949.2,1042.2"/>
<path class="ct"  d="M759.5,775.2 762,772.1 768.2,769.6 777,770.2 785.8,772.8 792,773.4 795.1,770.9 798.2,762.8 802,755.2 803.9,751.5"/>
<path class="ct"  d="M780.8,779.6 789.5,777.8 799.5,780.2 807,784 814.5,781.5 819.5,776.5 821.4,772.8"/>
<path class="ct"  d="M810.1,745.9 816.4,752.8 813.2,762.8 810.8,770.9 808.9,756.5 810.1,745.9"/>
<path class="ct"  d="M757,837.8 764.5,837.1 772,834 778.2,829 781.4,824"/>
<path class="ct"  d="M764.5,844 774.5,840.2 783.2,834 789.5,827.8 792,824 791.4,815.2"/>
</g>
<line class="tk" x1="50.0" y1="661.5" x2="56.5" y2="661.5"/>
<text class="al" text-anchor="end" transform="translate(46.0,668.4) scale(.93,1)">60N</text>
<line class="tk" x1="50.0" y1="693.2" x2="56.5" y2="693.2"/>
<text class="al" text-anchor="end" transform="translate(46.0,700.1) scale(.93,1)">50N</text>
<line class="tk" x1="50.0" y1="725.0" x2="56.5" y2="725.0"/>
<text class="al" text-anchor="end" transform="translate(46.0,731.9) scale(.93,1)">40N</text>
<line class="tk" x1="50.0" y1="756.7" x2="56.5" y2="756.7"/>
<text class="al" text-anchor="end" transform="translate(46.0,763.6) scale(.93,1)">30N</text>
<line class="tk" x1="50.0" y1="788.5" x2="56.5" y2="788.5"/>
<text class="al" text-anchor="end" transform="translate(46.0,795.4) scale(.93,1)">20N</text>
<line class="tk" x1="50.0" y1="820.2" x2="56.5" y2="820.2"/>
<text class="al" text-anchor="end" transform="translate(46.0,827.1) scale(.93,1)">10N</text>
<line class="tk" x1="50.0" y1="852.0" x2="56.5" y2="852.0"/>
<text class="al" text-anchor="end" transform="translate(46.0,858.9) scale(.93,1)">EQ</text>
<line class="tk" x1="50.0" y1="883.7" x2="56.5" y2="883.7"/>
<text class="al" text-anchor="end" transform="translate(46.0,890.6) scale(.93,1)">10S</text>
<line class="tk" x1="50.0" y1="915.4" x2="56.5" y2="915.4"/>
<text class="al" text-anchor="end" transform="translate(46.0,922.3) scale(.93,1)">20S</text>
<line class="tk" x1="50.0" y1="947.2" x2="56.5" y2="947.2"/>
<text class="al" text-anchor="end" transform="translate(46.0,954.1) scale(.93,1)">30S</text>
<line class="tk" x1="50.0" y1="978.9" x2="56.5" y2="978.9"/>
<text class="al" text-anchor="end" transform="translate(46.0,985.8) scale(.93,1)">40S</text>
<line class="tk" x1="50.0" y1="1010.7" x2="56.5" y2="1010.7"/>
<text class="al" text-anchor="end" transform="translate(46.0,1017.6) scale(.93,1)">50S</text>
<line class="tk" x1="50.0" y1="1042.4" x2="56.5" y2="1042.4"/>
<text class="al" text-anchor="end" transform="translate(46.0,1049.3) scale(.93,1)">60S</text>
<line class="tk" x1="56.5" y1="1042.4" x2="56.5" y2="1048.9"/>
<text class="al" text-anchor="middle" transform="translate(56.5,1067.2) scale(.93,1)">0</text>
<line class="tk" x1="215.3" y1="1042.4" x2="215.3" y2="1048.9"/>
<text class="al" text-anchor="middle" transform="translate(215.3,1067.2) scale(.93,1)">60E</text>
<line class="tk" x1="374.1" y1="1042.4" x2="374.1" y2="1048.9"/>
<text class="al" text-anchor="middle" transform="translate(374.1,1067.2) scale(.93,1)">120E</text>
<line class="tk" x1="533.0" y1="1042.4" x2="533.0" y2="1048.9"/>
<text class="al" text-anchor="middle" transform="translate(533.0,1067.2) scale(.93,1)">180</text>
<line class="tk" x1="691.8" y1="1042.4" x2="691.8" y2="1048.9"/>
<text class="al" text-anchor="middle" transform="translate(691.8,1067.2) scale(.93,1)">120W</text>
<line class="tk" x1="850.6" y1="1042.4" x2="850.6" y2="1048.9"/>
<text class="al" text-anchor="middle" transform="translate(850.6,1067.2) scale(.93,1)">60W</text>
<line class="tk" x1="1009.4" y1="1042.4" x2="1009.4" y2="1048.9"/>
<text class="al" text-anchor="middle" transform="translate(1009.4,1067.2) scale(.93,1)">0</text>
<rect class="fr" x="56.50" y="661.50" width="952.90" height="380.90"/>
</svg>
</body></html>
